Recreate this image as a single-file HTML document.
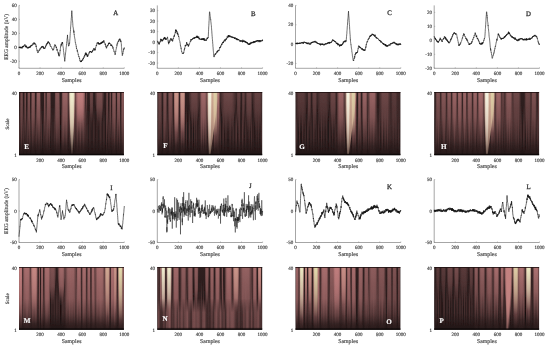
<!DOCTYPE html><html><head><meta charset="utf-8"><style>html,body{margin:0;padding:0;background:#fff;width:550px;height:347px;overflow:hidden}svg{display:block}text{font-family:"Liberation Serif", "Times New Roman", serif;fill:#3a3a3a;stroke:#555;stroke-width:0.18px;text-rendering:geometricPrecision}</style></head><body>
<svg width="550" height="347" viewBox="0 0 550 347">
<defs><linearGradient id="zfn" x1="0" y1="0" x2="0" y2="1"><stop offset="0.000" stop-color="#fff" stop-opacity="1.000"/><stop offset="0.400" stop-color="#fff" stop-opacity="0.750"/><stop offset="0.700" stop-color="#fff" stop-opacity="0.300"/><stop offset="0.850" stop-color="#fff" stop-opacity="0.100"/><stop offset="1.000" stop-color="#fff" stop-opacity="0.050"/></linearGradient><mask id="zmn" maskContentUnits="objectBoundingBox"><rect width="1" height="1" fill="url(#zfn)"/></mask><linearGradient id="zfm" x1="0" y1="0" x2="0" y2="1"><stop offset="0.000" stop-color="#fff" stop-opacity="1.000"/><stop offset="0.500" stop-color="#fff" stop-opacity="0.800"/><stop offset="0.750" stop-color="#fff" stop-opacity="0.420"/><stop offset="0.900" stop-color="#fff" stop-opacity="0.140"/><stop offset="1.000" stop-color="#fff" stop-opacity="0.060"/></linearGradient><mask id="zmm" maskContentUnits="objectBoundingBox"><rect width="1" height="1" fill="url(#zfm)"/></mask><linearGradient id="zfl" x1="0" y1="0" x2="0" y2="1"><stop offset="0.000" stop-color="#fff" stop-opacity="1.000"/><stop offset="1.000" stop-color="#fff" stop-opacity="0.000"/></linearGradient><mask id="zml" maskContentUnits="objectBoundingBox"><rect width="1" height="1" fill="url(#zfl)"/></mask><linearGradient id="zfs" x1="0" y1="0" x2="0" y2="1"><stop offset="0.000" stop-color="#fff" stop-opacity="1.000"/><stop offset="0.500" stop-color="#fff" stop-opacity="0.600"/><stop offset="1.000" stop-color="#fff" stop-opacity="0.000"/></linearGradient><mask id="zms" maskContentUnits="objectBoundingBox"><rect width="1" height="1" fill="url(#zfs)"/></mask><linearGradient id="zfp" x1="0" y1="0" x2="0" y2="1"><stop offset="0.000" stop-color="#fff" stop-opacity="1.000"/><stop offset="0.600" stop-color="#fff" stop-opacity="0.900"/><stop offset="1.000" stop-color="#fff" stop-opacity="0.500"/></linearGradient><mask id="zmp" maskContentUnits="objectBoundingBox"><rect width="1" height="1" fill="url(#zfp)"/></mask><linearGradient id="zfq" x1="0" y1="0" x2="0" y2="1"><stop offset="0.000" stop-color="#fff" stop-opacity="1.000"/><stop offset="0.500" stop-color="#fff" stop-opacity="0.850"/><stop offset="0.800" stop-color="#fff" stop-opacity="0.600"/><stop offset="1.000" stop-color="#fff" stop-opacity="0.350"/></linearGradient><mask id="zmq" maskContentUnits="objectBoundingBox"><rect width="1" height="1" fill="url(#zfq)"/></mask><linearGradient id="zc2"><stop offset="0" stop-color="#402a2a" stop-opacity="0"/><stop offset="0.3" stop-color="#402a2a" stop-opacity="0.97"/><stop offset="0.5" stop-color="#402a2a"/><stop offset="0.7" stop-color="#402a2a" stop-opacity="0.97"/><stop offset="1" stop-color="#402a2a" stop-opacity="0"/></linearGradient><linearGradient id="zc3"><stop offset="0" stop-color="#4e3333" stop-opacity="0"/><stop offset="0.3" stop-color="#4e3333" stop-opacity="0.97"/><stop offset="0.5" stop-color="#4e3333"/><stop offset="0.7" stop-color="#4e3333" stop-opacity="0.97"/><stop offset="1" stop-color="#4e3333" stop-opacity="0"/></linearGradient><linearGradient id="zc4"><stop offset="0" stop-color="#5a3b3b" stop-opacity="0"/><stop offset="0.3" stop-color="#5a3b3b" stop-opacity="0.97"/><stop offset="0.5" stop-color="#5a3b3b"/><stop offset="0.7" stop-color="#5a3b3b" stop-opacity="0.97"/><stop offset="1" stop-color="#5a3b3b" stop-opacity="0"/></linearGradient><linearGradient id="zc5"><stop offset="0" stop-color="#654242" stop-opacity="0"/><stop offset="0.3" stop-color="#654242" stop-opacity="0.97"/><stop offset="0.5" stop-color="#654242"/><stop offset="0.7" stop-color="#654242" stop-opacity="0.97"/><stop offset="1" stop-color="#654242" stop-opacity="0"/></linearGradient><linearGradient id="zc6"><stop offset="0" stop-color="#6e4848" stop-opacity="0"/><stop offset="0.3" stop-color="#6e4848" stop-opacity="0.97"/><stop offset="0.5" stop-color="#6e4848"/><stop offset="0.7" stop-color="#6e4848" stop-opacity="0.97"/><stop offset="1" stop-color="#6e4848" stop-opacity="0"/></linearGradient><linearGradient id="zc7"><stop offset="0" stop-color="#774e4e" stop-opacity="0"/><stop offset="0.3" stop-color="#774e4e" stop-opacity="0.97"/><stop offset="0.5" stop-color="#774e4e"/><stop offset="0.7" stop-color="#774e4e" stop-opacity="0.97"/><stop offset="1" stop-color="#774e4e" stop-opacity="0"/></linearGradient><linearGradient id="zc8"><stop offset="0" stop-color="#7f5353" stop-opacity="0"/><stop offset="0.3" stop-color="#7f5353" stop-opacity="0.97"/><stop offset="0.5" stop-color="#7f5353"/><stop offset="0.7" stop-color="#7f5353" stop-opacity="0.97"/><stop offset="1" stop-color="#7f5353" stop-opacity="0"/></linearGradient><linearGradient id="zc9"><stop offset="0" stop-color="#875858" stop-opacity="0"/><stop offset="0.3" stop-color="#875858" stop-opacity="0.97"/><stop offset="0.5" stop-color="#875858"/><stop offset="0.7" stop-color="#875858" stop-opacity="0.97"/><stop offset="1" stop-color="#875858" stop-opacity="0"/></linearGradient><linearGradient id="zc10"><stop offset="0" stop-color="#8e5d5d" stop-opacity="0"/><stop offset="0.3" stop-color="#8e5d5d" stop-opacity="0.97"/><stop offset="0.5" stop-color="#8e5d5d"/><stop offset="0.7" stop-color="#8e5d5d" stop-opacity="0.97"/><stop offset="1" stop-color="#8e5d5d" stop-opacity="0"/></linearGradient><linearGradient id="zc11"><stop offset="0" stop-color="#956262" stop-opacity="0"/><stop offset="0.3" stop-color="#956262" stop-opacity="0.97"/><stop offset="0.5" stop-color="#956262"/><stop offset="0.7" stop-color="#956262" stop-opacity="0.97"/><stop offset="1" stop-color="#956262" stop-opacity="0"/></linearGradient><linearGradient id="zc12"><stop offset="0" stop-color="#9c6666" stop-opacity="0"/><stop offset="0.3" stop-color="#9c6666" stop-opacity="0.97"/><stop offset="0.5" stop-color="#9c6666"/><stop offset="0.7" stop-color="#9c6666" stop-opacity="0.97"/><stop offset="1" stop-color="#9c6666" stop-opacity="0"/></linearGradient><linearGradient id="zc13"><stop offset="0" stop-color="#a26a6a" stop-opacity="0"/><stop offset="0.3" stop-color="#a26a6a" stop-opacity="0.97"/><stop offset="0.5" stop-color="#a26a6a"/><stop offset="0.7" stop-color="#a26a6a" stop-opacity="0.97"/><stop offset="1" stop-color="#a26a6a" stop-opacity="0"/></linearGradient><linearGradient id="zc14"><stop offset="0" stop-color="#a86e6e" stop-opacity="0"/><stop offset="0.3" stop-color="#a86e6e" stop-opacity="0.97"/><stop offset="0.5" stop-color="#a86e6e"/><stop offset="0.7" stop-color="#a86e6e" stop-opacity="0.97"/><stop offset="1" stop-color="#a86e6e" stop-opacity="0"/></linearGradient><linearGradient id="zc15"><stop offset="0" stop-color="#ae7272" stop-opacity="0"/><stop offset="0.3" stop-color="#ae7272" stop-opacity="0.97"/><stop offset="0.5" stop-color="#ae7272"/><stop offset="0.7" stop-color="#ae7272" stop-opacity="0.97"/><stop offset="1" stop-color="#ae7272" stop-opacity="0"/></linearGradient><linearGradient id="zc18"><stop offset="0" stop-color="#bf7d7d" stop-opacity="0"/><stop offset="0.3" stop-color="#bf7d7d" stop-opacity="0.97"/><stop offset="0.5" stop-color="#bf7d7d"/><stop offset="0.7" stop-color="#bf7d7d" stop-opacity="0.97"/><stop offset="1" stop-color="#bf7d7d" stop-opacity="0"/></linearGradient><linearGradient id="zc19"><stop offset="0" stop-color="#c38180" stop-opacity="0"/><stop offset="0.3" stop-color="#c38180" stop-opacity="0.97"/><stop offset="0.5" stop-color="#c38180"/><stop offset="0.7" stop-color="#c38180" stop-opacity="0.97"/><stop offset="1" stop-color="#c38180" stop-opacity="0"/></linearGradient><linearGradient id="zc20"><stop offset="0" stop-color="#c68984" stop-opacity="0"/><stop offset="0.3" stop-color="#c68984" stop-opacity="0.97"/><stop offset="0.5" stop-color="#c68984"/><stop offset="0.7" stop-color="#c68984" stop-opacity="0.97"/><stop offset="1" stop-color="#c68984" stop-opacity="0"/></linearGradient><linearGradient id="zc21"><stop offset="0" stop-color="#c89087" stop-opacity="0"/><stop offset="0.3" stop-color="#c89087" stop-opacity="0.97"/><stop offset="0.5" stop-color="#c89087"/><stop offset="0.7" stop-color="#c89087" stop-opacity="0.97"/><stop offset="1" stop-color="#c89087" stop-opacity="0"/></linearGradient><linearGradient id="zc22"><stop offset="0" stop-color="#ca978a" stop-opacity="0"/><stop offset="0.3" stop-color="#ca978a" stop-opacity="0.97"/><stop offset="0.5" stop-color="#ca978a"/><stop offset="0.7" stop-color="#ca978a" stop-opacity="0.97"/><stop offset="1" stop-color="#ca978a" stop-opacity="0"/></linearGradient><linearGradient id="zc25"><stop offset="0" stop-color="#d0aa93" stop-opacity="0"/><stop offset="0.3" stop-color="#d0aa93" stop-opacity="0.97"/><stop offset="0.5" stop-color="#d0aa93"/><stop offset="0.7" stop-color="#d0aa93" stop-opacity="0.97"/><stop offset="1" stop-color="#d0aa93" stop-opacity="0"/></linearGradient><linearGradient id="zc32"><stop offset="0" stop-color="#ded0a7" stop-opacity="0"/><stop offset="0.3" stop-color="#ded0a7" stop-opacity="0.97"/><stop offset="0.5" stop-color="#ded0a7"/><stop offset="0.7" stop-color="#ded0a7" stop-opacity="0.97"/><stop offset="1" stop-color="#ded0a7" stop-opacity="0"/></linearGradient><linearGradient id="zc35"><stop offset="0" stop-color="#e4deae" stop-opacity="0"/><stop offset="0.3" stop-color="#e4deae" stop-opacity="0.97"/><stop offset="0.5" stop-color="#e4deae"/><stop offset="0.7" stop-color="#e4deae" stop-opacity="0.97"/><stop offset="1" stop-color="#e4deae" stop-opacity="0"/></linearGradient><linearGradient id="zc40"><stop offset="0" stop-color="#ededc6" stop-opacity="0"/><stop offset="0.3" stop-color="#ededc6" stop-opacity="0.97"/><stop offset="0.5" stop-color="#ededc6"/><stop offset="0.7" stop-color="#ededc6" stop-opacity="0.97"/><stop offset="1" stop-color="#ededc6" stop-opacity="0"/></linearGradient><linearGradient id="zc42"><stop offset="0" stop-color="#f1f1d2" stop-opacity="0"/><stop offset="0.3" stop-color="#f1f1d2" stop-opacity="0.97"/><stop offset="0.5" stop-color="#f1f1d2"/><stop offset="0.7" stop-color="#f1f1d2" stop-opacity="0.97"/><stop offset="1" stop-color="#f1f1d2" stop-opacity="0"/></linearGradient><linearGradient id="zc45"><stop offset="0" stop-color="#f6f6e4" stop-opacity="0"/><stop offset="0.3" stop-color="#f6f6e4" stop-opacity="0.97"/><stop offset="0.5" stop-color="#f6f6e4"/><stop offset="0.7" stop-color="#f6f6e4" stop-opacity="0.97"/><stop offset="1" stop-color="#f6f6e4" stop-opacity="0"/></linearGradient><filter id="sblur" x="-5%" y="-5%" width="110%" height="110%"><feGaussianBlur stdDeviation="0.35 0.6"/></filter><linearGradient id="zbg" x1="0" y1="0" x2="0" y2="1"><stop offset="0" stop-color="#2f1f1f"/><stop offset="1" stop-color="#231717"/></linearGradient></defs>
<path d="M19 5.4V68.3H124.3" fill="none" stroke="#808080" stroke-width="0.7"/>
<path d="M19 5.4h1" stroke="#808080" stroke-width="0.5"/>
<text x="16.7" y="7.1" font-size="5" text-anchor="end">60</text>
<path d="M19 19.38h1" stroke="#808080" stroke-width="0.5"/>
<text x="16.7" y="21.08" font-size="5" text-anchor="end">40</text>
<path d="M19 33.36h1" stroke="#808080" stroke-width="0.5"/>
<text x="16.7" y="35.06" font-size="5" text-anchor="end">20</text>
<path d="M19 47.33h1" stroke="#808080" stroke-width="0.5"/>
<text x="16.7" y="49.03" font-size="5" text-anchor="end">0</text>
<path d="M19 61.31h1" stroke="#808080" stroke-width="0.5"/>
<text x="16.7" y="63.01" font-size="5" text-anchor="end">-20</text>
<path d="M19 68.3v-1" stroke="#808080" stroke-width="0.5"/>
<path d="M40.06 68.3v-1" stroke="#808080" stroke-width="0.5"/>
<path d="M61.12 68.3v-1" stroke="#808080" stroke-width="0.5"/>
<path d="M82.18 68.3v-1" stroke="#808080" stroke-width="0.5"/>
<path d="M103.24 68.3v-1" stroke="#808080" stroke-width="0.5"/>
<path d="M124.3 68.3v-1" stroke="#808080" stroke-width="0.5"/>
<text x="19" y="74.9" font-size="5" text-anchor="middle">0</text>
<text x="40.06" y="74.9" font-size="5" text-anchor="middle">200</text>
<text x="61.12" y="74.9" font-size="5" text-anchor="middle">400</text>
<text x="82.18" y="74.9" font-size="5" text-anchor="middle">600</text>
<text x="103.24" y="74.9" font-size="5" text-anchor="middle">800</text>
<text x="124.3" y="74.9" font-size="5" text-anchor="middle">1000</text>
<text x="71.65" y="81.5" font-size="5.8" text-anchor="middle">Samples</text>
<polyline points="19,47.83 19.11,47.25 19.21,46.78 19.32,48.05 19.42,47.65 19.53,47.72 19.63,47.36 19.74,47.34 19.84,48 19.95,47.33 20.05,47.15 20.16,46.65 20.26,47.53 20.37,46.99 20.48,47.64 20.58,48.13 20.69,47.31 20.79,48.2 20.9,47.33 21,47.39 21.11,47.17 21.21,48.05 21.32,47.59 21.42,47.78 21.53,47.24 21.64,46.93 21.74,47.81 21.85,48.39 21.95,48.12 22.06,47.71 22.16,48.24 22.27,46.52 22.37,46.33 22.48,47.55 22.58,46.83 22.69,46.97 22.79,46.53 22.9,46.22 23.01,46.96 23.11,46.14 23.22,47.19 23.32,46.66 23.43,45.63 23.53,46.8 23.64,46.82 23.74,46.62 23.85,46.47 23.95,46.02 24.06,46.01 24.16,45.74 24.27,45.88 24.38,45.76 24.48,45.72 24.59,45.61 24.69,45.76 24.8,45.23 24.9,44.2 25.01,45.91 25.11,45.5 25.22,46.19 25.32,46.53 25.43,47.19 25.54,45.82 25.64,46.35 25.75,47.04 25.85,46.29 25.96,45.74 26.06,46.85 26.17,47.23 26.27,47.2 26.38,46.79 26.48,45.77 26.59,47.18 26.69,46.54 26.8,47.88 26.91,47.95 27.01,47.89 27.12,47.94 27.22,47.5 27.33,46.94 27.43,47.22 27.54,48.16 27.64,48.07 27.75,48.03 27.85,48.3 27.96,48.46 28.06,47.27 28.17,48.3 28.28,47.45 28.38,47.96 28.49,47.55 28.59,47.95 28.7,46.87 28.8,47.06 28.91,46.98 29.01,47.55 29.12,46.91 29.22,47.79 29.33,47.75 29.44,47 29.54,47 29.65,47.37 29.75,46.96 29.86,46.3 29.96,47.44 30.07,46.9 30.17,46.57 30.28,47.49 30.38,46.62 30.49,45.73 30.59,46.68 30.7,46.15 30.81,46.5 30.91,45.69 31.02,45.61 31.12,45.5 31.23,45.08 31.33,46.09 31.44,44.95 31.54,44.83 31.65,45.67 31.75,45.22 31.86,45.6 31.96,45.51 32.07,45.06 32.18,44.87 32.28,44.83 32.39,45.32 32.49,44.46 32.6,44.36 32.7,43.89 32.81,43.8 32.91,44.17 33.02,43.8 33.12,44.26 33.23,43.37 33.34,44.33 33.44,44.23 33.55,43.99 33.65,44.14 33.76,43.99 33.86,43.39 33.97,42.32 34.07,43.62 34.18,43.22 34.28,43.47 34.39,42.91 34.49,43.07 34.6,44.09 34.71,43.7 34.81,42.93 34.92,43.4 35.02,44.7 35.13,44.74 35.23,44.3 35.34,44.39 35.44,43.86 35.55,43.79 35.65,44.12 35.76,44.25 35.86,44.57 35.97,45.17 36.08,46.93 36.18,45.76 36.29,46.81 36.39,47.5 36.5,48.01 36.6,48.88 36.71,49.28 36.81,49.51 36.92,49.36 37.02,49.91 37.13,51.06 37.24,50.39 37.34,51.01 37.45,51.7 37.55,51.91 37.66,52.44 37.76,52.93 37.87,52.95 37.97,52.99 38.08,52.33 38.18,52.6 38.29,52.23 38.39,51.46 38.5,51.3 38.61,51.58 38.71,50.95 38.82,50.82 38.92,50.82 39.03,50.07 39.13,50.47 39.24,49.84 39.34,50.36 39.45,50.03 39.55,49.81 39.66,50.13 39.76,49.01 39.87,48.75 39.98,48.61 40.08,48.83 40.19,48.44 40.29,49.13 40.4,49.01 40.5,49.27 40.61,48.26 40.71,48.21 40.82,48.17 40.92,48.33 41.03,47.44 41.14,47 41.24,47.01 41.35,48.03 41.45,47.06 41.56,47.22 41.66,47.01 41.77,46.29 41.87,47.22 41.98,46.57 42.08,46.53 42.19,46.16 42.29,46.4 42.4,46.62 42.51,46.3 42.61,46.63 42.72,46.18 42.82,45.94 42.93,47.21 43.03,47.8 43.14,46.29 43.24,47.97 43.35,47.75 43.45,48.44 43.56,47.46 43.66,46.98 43.77,48.55 43.88,48.49 43.98,48.65 44.09,48.43 44.19,48.07 44.3,47.83 44.4,48.71 44.51,48.38 44.61,48.3 44.72,48.72 44.82,48.21 44.93,48.51 45.04,47.97 45.14,47.12 45.25,47.66 45.35,47.24 45.46,46.41 45.56,46.93 45.67,46.1 45.77,45.77 45.88,46.26 45.98,45.73 46.09,46.01 46.19,44.7 46.3,45.01 46.41,45.26 46.51,43.6 46.62,44.43 46.72,44.65 46.83,44.25 46.93,44.11 47.04,43.9 47.14,43.86 47.25,43.1 47.35,44.11 47.46,42.96 47.56,43.27 47.67,42.39 47.78,43.15 47.88,42.02 47.99,42.5 48.09,42.22 48.2,41.02 48.3,41.73 48.41,42.62 48.51,42.54 48.62,42.46 48.72,43.04 48.83,42.89 48.94,42.23 49.04,43 49.15,42.87 49.25,43.28 49.36,43.79 49.46,43.01 49.57,43.82 49.67,44 49.78,43.77 49.88,44.15 49.99,45.09 50.09,44.48 50.2,45.58 50.31,45.4 50.41,46.34 50.52,46.12 50.62,46.42 50.73,46.47 50.83,46.38 50.94,46.11 51.04,46.63 51.15,46.63 51.25,46.78 51.36,46.99 51.46,46.91 51.57,47.58 51.68,47.8 51.78,48.51 51.89,48.45 51.99,48.68 52.1,48.56 52.2,48.71 52.31,48.66 52.41,48.65 52.52,49.3 52.62,49.52 52.73,49.67 52.84,50.36 52.94,49.24 53.05,49.88 53.15,49.72 53.26,50.1 53.36,49.72 53.47,49.65 53.57,49.66 53.68,49.44 53.78,48.24 53.89,48.4 53.99,48.08 54.1,46.76 54.21,46.87 54.31,47.05 54.42,46.33 54.52,45.84 54.63,44.93 54.73,44.9 54.84,44.47 54.94,44.99 55.05,44.91 55.15,44.88 55.26,45.63 55.36,45.43 55.47,45.89 55.58,45.32 55.68,46.33 55.79,46.22 55.89,46.6 56,47.23 56.1,47.51 56.21,47.64 56.31,46.74 56.42,47.98 56.52,47.46 56.63,47.94 56.74,48.66 56.84,49.55 56.95,49.82 57.05,50.53 57.16,49.18 57.26,50.36 57.37,50.82 57.47,50.82 57.58,50.98 57.68,51.3 57.79,51.9 57.89,52.13 58,52.45 58.11,52.04 58.21,52.32 58.32,53.74 58.42,52.78 58.53,54.89 58.63,53.87 58.74,54.56 58.84,56.06 58.95,55.28 59.05,55.98 59.16,56.27 59.26,56.24 59.37,56 59.48,55.69 59.58,55.2 59.69,53.93 59.79,54.09 59.9,53 60,52.01 60.11,50.16 60.21,50.74 60.32,48.9 60.42,48.57 60.53,46.93 60.64,46.7 60.74,45.87 60.85,46.34 60.95,44.82 61.06,44.91 61.16,45.02 61.27,43.77 61.37,45.52 61.48,44.58 61.58,44.07 61.69,44.09 61.79,43.74 61.9,43.25 62.01,42.56 62.11,43.73 62.22,42.47 62.32,43.04 62.43,43.29 62.53,42.02 62.64,43.11 62.74,43.7 62.85,45.62 62.95,46.17 63.06,46.61 63.16,47.2 63.27,48.13 63.38,48.56 63.48,50.5 63.59,51.68 63.69,51.73 63.8,52.57 63.9,54.06 64.01,53.98 64.11,56.03 64.22,56.75 64.32,57.1 64.43,57.99 64.54,58.62 64.64,59.8 64.75,61.39 64.85,59.83 64.96,58.21 65.06,58.36 65.17,57.17 65.27,56.41 65.38,55.46 65.48,54.01 65.59,52.92 65.69,52.05 65.8,51.32 65.91,49.97 66.01,49.39 66.12,47.5 66.22,47.45 66.33,46.56 66.43,45.83 66.54,43.87 66.64,43.42 66.75,41.43 66.85,41.3 66.96,40.62 67.06,39.13 67.17,38.56 67.28,38.02 67.38,37.18 67.49,34.9 67.59,36.61 67.7,38.88 67.8,39.25 67.91,39.73 68.01,40.96 68.12,42.25 68.22,43.32 68.33,44.67 68.44,45.18 68.54,46.21 68.65,45.98 68.75,45.62 68.86,45.68 68.96,45.93 69.07,43.58 69.17,43.97 69.28,44.26 69.38,42.99 69.49,42.85 69.59,43.28 69.7,41.38 69.81,40.14 69.91,38.61 70.02,37.18 70.12,35.25 70.23,33.51 70.33,31.71 70.44,31.49 70.54,29.43 70.65,26.84 70.75,25.53 70.86,24.79 70.96,23.3 71.07,21.29 71.18,20.61 71.28,18.29 71.39,17.78 71.49,16.12 71.6,14.17 71.7,12.15 71.81,10.67 71.91,12.27 72.02,14.23 72.12,16.02 72.23,16.26 72.34,18.45 72.44,19.37 72.55,20.67 72.65,22.17 72.76,23.27 72.86,25.21 72.97,26.94 73.07,27.39 73.18,27.68 73.28,27.63 73.39,29.5 73.49,29.75 73.6,30.45 73.71,29.85 73.81,32.5 73.92,31.19 74.02,33.21 74.13,34.59 74.23,34.25 74.34,35.32 74.44,36.82 74.55,37.31 74.65,37.3 74.76,38.21 74.86,39.04 74.97,39.26 75.08,40.2 75.18,41.26 75.29,42.09 75.39,42.92 75.5,42.71 75.6,43.5 75.71,44.21 75.81,44.67 75.92,44.88 76.02,44.69 76.13,45.78 76.24,46.67 76.34,46.36 76.45,48.72 76.55,48.17 76.66,48.72 76.76,48.93 76.87,49.19 76.97,49.35 77.08,49.41 77.18,50.39 77.29,51.54 77.39,50.37 77.5,51.2 77.61,51.66 77.71,52.24 77.82,52.55 77.92,53.15 78.03,53.53 78.13,53.64 78.24,54.94 78.34,54.57 78.45,55.53 78.55,55.71 78.66,56.62 78.76,56.34 78.87,56.17 78.98,56.68 79.08,56.93 79.19,56.78 79.29,57.73 79.4,57.94 79.5,58.89 79.61,58.37 79.71,59.28 79.82,60.51 79.92,60.23 80.03,60.56 80.14,60.79 80.24,61.4 80.35,60.74 80.45,61.33 80.56,61.42 80.66,61.42 80.77,62.1 80.87,61.57 80.98,62.02 81.08,60.92 81.19,61.81 81.29,61.1 81.4,61.52 81.51,61.88 81.61,60.33 81.72,60.73 81.82,60.38 81.93,60.71 82.03,60.58 82.14,60.16 82.24,60.45 82.35,59.98 82.45,59.35 82.56,59.98 82.66,60.42 82.77,59.69 82.88,59.84 82.98,59.33 83.09,58.63 83.19,59.09 83.3,58.11 83.4,58.92 83.51,57.99 83.61,57.79 83.72,57.81 83.82,57.32 83.93,56.55 84.04,57.58 84.14,56.91 84.25,56.83 84.35,56.72 84.46,56.41 84.56,55.43 84.67,55.11 84.77,56.28 84.88,54.78 84.98,54.73 85.09,54.04 85.19,53.45 85.3,53.47 85.41,54.7 85.51,54.54 85.62,53.47 85.72,53.58 85.83,52.4 85.93,55.19 86.04,53.3 86.14,54.72 86.25,54.55 86.35,54.03 86.46,53.49 86.56,54.97 86.67,54.23 86.78,55.39 86.88,55.2 86.99,54.93 87.09,54.25 87.2,55.29 87.3,56.95 87.41,55.39 87.51,56.38 87.62,55.4 87.72,56.14 87.83,56.46 87.94,55.7 88.04,55.89 88.15,55.76 88.25,55.55 88.36,54.84 88.46,53.86 88.57,54.06 88.67,53.95 88.78,54.17 88.88,53.35 88.99,53.47 89.09,53.55 89.2,52.2 89.31,53.03 89.41,52.83 89.52,52.38 89.62,51.39 89.73,51.72 89.83,51.63 89.94,51.12 90.04,51.21 90.15,51.5 90.25,51.51 90.36,51.02 90.46,52.12 90.57,51.33 90.68,51.78 90.78,51.64 90.89,51.32 90.99,52.15 91.1,52.26 91.2,51.69 91.31,52.51 91.41,52.65 91.52,52.17 91.62,52.58 91.73,51.96 91.84,52.36 91.94,51.89 92.05,51.57 92.15,52.06 92.26,51.69 92.36,51.12 92.47,51.62 92.57,51.42 92.68,50.01 92.78,50.39 92.89,51.05 92.99,50 93.1,49.66 93.21,49.83 93.31,49.81 93.42,50.13 93.52,49.22 93.63,49.24 93.73,48.92 93.84,48.35 93.94,49.07 94.05,48.54 94.15,49.12 94.26,48.75 94.36,49.46 94.47,49.96 94.58,49.42 94.68,49.64 94.79,49.38 94.89,50.69 95,49.83 95.1,49.09 95.21,49.86 95.31,48.63 95.42,47.82 95.52,48.3 95.63,48.02 95.74,47.37 95.84,47.04 95.95,46.54 96.05,46.38 96.16,46.32 96.26,45.18 96.37,45.79 96.47,45.93 96.58,45.43 96.68,44.33 96.79,44.44 96.89,44.11 97,42.75 97.11,43.35 97.21,43.4 97.32,43.03 97.42,42.86 97.53,42.64 97.63,42.5 97.74,42.5 97.84,42.45 97.95,43.12 98.05,42.51 98.16,44.03 98.26,43.34 98.37,42.82 98.48,42.41 98.58,44.32 98.69,43.42 98.79,43.15 98.9,43.71 99,44.33 99.11,43.68 99.21,43.52 99.32,43.27 99.42,43.06 99.53,43.88 99.64,43.99 99.74,44.47 99.85,43.17 99.95,44.45 100.06,43.46 100.16,43.52 100.27,43.53 100.37,43.67 100.48,42.96 100.58,43.83 100.69,43.39 100.79,43.83 100.9,42.62 101.01,43.06 101.11,42.63 101.22,43.84 101.32,42.19 101.43,42.29 101.53,43.03 101.64,42.87 101.74,43.54 101.85,41.83 101.95,42.21 102.06,42.66 102.16,42.19 102.27,42.2 102.38,41.79 102.48,42.05 102.59,42.89 102.69,41.39 102.8,42.23 102.9,43.04 103.01,41.81 103.11,41.95 103.22,41.44 103.32,41.3 103.43,42.22 103.54,42.13 103.64,40.66 103.75,41.16 103.85,40.39 103.96,40.76 104.06,41.35 104.17,41.35 104.27,41.54 104.38,41.95 104.48,41.99 104.59,42.81 104.69,42.78 104.8,43.28 104.91,43.11 105.01,43.62 105.12,43.62 105.22,44.92 105.33,43.88 105.43,44.75 105.54,45.43 105.64,45.97 105.75,45.85 105.85,45.78 105.96,46.77 106.06,45.92 106.17,47.38 106.28,47.81 106.38,48.29 106.49,47.59 106.59,47.6 106.7,48.09 106.8,47.06 106.91,46.94 107.01,46.75 107.12,46.86 107.22,45.7 107.33,45.74 107.44,46.04 107.54,45.14 107.65,45.46 107.75,46.02 107.86,45.42 107.96,44.61 108.07,44.68 108.17,44.93 108.28,44.97 108.38,45.01 108.49,42.88 108.59,44.23 108.7,43.87 108.81,43.48 108.91,43.03 109.02,43.07 109.12,42.96 109.23,43.69 109.33,43.62 109.44,42.58 109.54,43.63 109.65,43.37 109.75,43.95 109.86,43.34 109.96,43.51 110.07,43.77 110.18,43.93 110.28,44.08 110.39,44.02 110.49,43.86 110.6,44.5 110.7,45.59 110.81,45.32 110.91,44.94 111.02,45.52 111.12,44.53 111.23,44.79 111.34,45.59 111.44,44.9 111.55,45.75 111.65,45.25 111.76,44.83 111.86,45.84 111.97,45.93 112.07,45.84 112.18,46.39 112.28,45.94 112.39,46.02 112.49,46.62 112.6,46.42 112.71,46.41 112.81,46.86 112.92,48.42 113.02,47.41 113.13,48.47 113.23,49.04 113.34,49.26 113.44,49.24 113.55,49.55 113.65,49.52 113.76,49.79 113.86,51.18 113.97,51.52 114.08,51.27 114.18,51.95 114.29,51.72 114.39,52.39 114.5,52.4 114.6,52.71 114.71,53.1 114.81,53.5 114.92,53.61 115.02,54.26 115.13,55.02 115.24,54.17 115.34,53.3 115.45,53.56 115.55,52.34 115.66,51.38 115.76,51.71 115.87,50.4 115.97,49.84 116.08,49.5 116.18,49.23 116.29,48.86 116.39,47.35 116.5,47 116.61,47.23 116.71,46.76 116.82,46.4 116.92,44.58 117.03,45.37 117.13,45.22 117.24,43.05 117.34,42.73 117.45,42.72 117.55,43.33 117.66,43.54 117.76,42.69 117.87,42.2 117.98,41.65 118.08,41.78 118.19,41.96 118.29,41.64 118.4,40.84 118.5,40.83 118.61,40.86 118.71,41.7 118.82,40.32 118.92,39.8 119.03,40.44 119.14,39.72 119.24,40.2 119.35,39.01 119.45,38.91 119.56,38.97 119.66,38.81 119.77,39.54 119.87,38.79 119.98,39.99 120.08,39.42 120.19,39.77 120.29,40.93 120.4,40.58 120.51,40.56 120.61,41.78 120.72,41.18 120.82,40.58 120.93,41.64 121.03,41.32 121.14,42.75 121.24,43.41 121.35,43.74 121.45,46.53 121.56,47.24 121.66,47.99 121.77,50.17 121.88,51.18 121.98,51.04 122.09,53.29 122.19,54.25 122.3,55.68 122.4,55.31 122.51,54.73 122.61,54.72 122.72,53.3 122.82,53.82 122.93,52.77 123.04,52.47 123.14,51.83 123.25,51.99 123.35,51.16 123.46,49.9 123.56,49.46 123.67,50.02 123.77,48.5 123.88,48.4 123.98,48.68 124.09,48.58 124.19,49.16 124.3,47.26" fill="none" stroke="#111" stroke-width="0.6" stroke-linejoin="round"/>
<path d="M157.3 5.4V68.3H262.6" fill="none" stroke="#808080" stroke-width="0.7"/>
<path d="M157.3 10.64h1" stroke="#808080" stroke-width="0.5"/>
<text x="155" y="12.34" font-size="5" text-anchor="end">30</text>
<path d="M157.3 21.12h1" stroke="#808080" stroke-width="0.5"/>
<text x="155" y="22.82" font-size="5" text-anchor="end">20</text>
<path d="M157.3 31.61h1" stroke="#808080" stroke-width="0.5"/>
<text x="155" y="33.31" font-size="5" text-anchor="end">10</text>
<path d="M157.3 42.09h1" stroke="#808080" stroke-width="0.5"/>
<text x="155" y="43.79" font-size="5" text-anchor="end">0</text>
<path d="M157.3 52.57h1" stroke="#808080" stroke-width="0.5"/>
<text x="155" y="54.27" font-size="5" text-anchor="end">-10</text>
<path d="M157.3 63.06h1" stroke="#808080" stroke-width="0.5"/>
<text x="155" y="64.76" font-size="5" text-anchor="end">-20</text>
<path d="M157.3 68.3v-1" stroke="#808080" stroke-width="0.5"/>
<path d="M178.36 68.3v-1" stroke="#808080" stroke-width="0.5"/>
<path d="M199.42 68.3v-1" stroke="#808080" stroke-width="0.5"/>
<path d="M220.48 68.3v-1" stroke="#808080" stroke-width="0.5"/>
<path d="M241.54 68.3v-1" stroke="#808080" stroke-width="0.5"/>
<path d="M262.6 68.3v-1" stroke="#808080" stroke-width="0.5"/>
<text x="157.3" y="74.9" font-size="5" text-anchor="middle">0</text>
<text x="178.36" y="74.9" font-size="5" text-anchor="middle">200</text>
<text x="199.42" y="74.9" font-size="5" text-anchor="middle">400</text>
<text x="220.48" y="74.9" font-size="5" text-anchor="middle">600</text>
<text x="241.54" y="74.9" font-size="5" text-anchor="middle">800</text>
<text x="262.6" y="74.9" font-size="5" text-anchor="middle">1000</text>
<text x="209.95" y="81.5" font-size="5.8" text-anchor="middle">Samples</text>
<polyline points="157.3,40.77 157.41,41.31 157.51,41.29 157.62,41.78 157.72,42.11 157.83,42.43 157.93,41.6 158.04,41.5 158.14,42.04 158.25,42.32 158.35,42.52 158.46,42.93 158.56,42.59 158.67,43.67 158.78,42.94 158.88,43.76 158.99,43.91 159.09,44.7 159.2,44.25 159.3,42.74 159.41,43.7 159.51,43.55 159.62,42.84 159.72,42.23 159.83,41.89 159.94,42.44 160.04,42.37 160.15,41.99 160.25,41.18 160.36,41.84 160.46,39.74 160.57,40.54 160.67,40 160.78,38.76 160.88,39.77 160.99,39.38 161.09,39.84 161.2,39.33 161.31,40.07 161.41,39.72 161.52,40.38 161.62,39.6 161.73,40.48 161.83,40.97 161.94,40.32 162.04,41.62 162.15,39.89 162.25,40.58 162.36,40.76 162.46,40.98 162.57,40.23 162.68,40.61 162.78,40.53 162.89,40.52 162.99,39.92 163.1,39.02 163.2,40.15 163.31,38.99 163.41,39.13 163.52,38.79 163.62,38.06 163.73,38.27 163.84,38.93 163.94,38.26 164.05,38.75 164.15,37.74 164.26,38.12 164.36,36.97 164.47,37.61 164.57,39.21 164.68,37.36 164.78,38.42 164.89,38.59 164.99,37.76 165.1,37.42 165.21,37.49 165.31,38.96 165.42,39.32 165.52,38.2 165.63,38.82 165.73,39.67 165.84,38.38 165.94,39.37 166.05,39.14 166.15,39.72 166.26,39.03 166.36,39.01 166.47,38.88 166.58,39.15 166.68,38.91 166.79,38.33 166.89,38.51 167,38.17 167.1,37.99 167.21,37.85 167.31,37.49 167.42,37.61 167.52,36.85 167.63,37.8 167.74,39.12 167.84,39.35 167.95,39.64 168.05,40.48 168.16,40.25 168.26,42.33 168.37,41.7 168.47,42.17 168.58,43.59 168.68,44.19 168.79,42.12 168.89,42.82 169,42.63 169.11,43.02 169.21,41.88 169.32,42.31 169.42,42.05 169.53,41.29 169.63,40.73 169.74,41.08 169.84,41.57 169.95,40.65 170.05,41.1 170.16,39.57 170.26,40.09 170.37,40.13 170.48,39.86 170.58,39.29 170.69,38.64 170.79,38.04 170.9,38.15 171,39.37 171.11,39.23 171.21,38.69 171.32,39.36 171.42,39.13 171.53,40.06 171.64,40.57 171.74,39.79 171.85,39.8 171.95,39.45 172.06,40.31 172.16,40.22 172.27,39.68 172.37,40.25 172.48,40.92 172.58,41.48 172.69,40.31 172.79,40.64 172.9,39.25 173.01,39.41 173.11,39.02 173.22,38.16 173.32,38.52 173.43,37.97 173.53,38.27 173.64,37.6 173.74,37.19 173.85,36.99 173.95,35.95 174.06,36.52 174.16,35.72 174.27,36.09 174.38,35.47 174.48,36.29 174.59,34.38 174.69,34.33 174.8,33.99 174.9,34.09 175.01,33.7 175.11,33.3 175.22,32.88 175.32,31.77 175.43,32.8 175.54,29.96 175.64,30.74 175.75,30.92 175.85,29.37 175.96,30.52 176.06,30.25 176.17,31.5 176.27,30.03 176.38,31.14 176.48,31.09 176.59,30.99 176.69,32.25 176.8,31.68 176.91,32 177.01,31.52 177.12,31.99 177.22,33.84 177.33,32.74 177.43,34 177.54,33.85 177.64,33.79 177.75,32.81 177.85,35.16 177.96,34.5 178.06,35.03 178.17,34.7 178.28,34.81 178.38,35.51 178.49,36.43 178.59,35.96 178.7,36.92 178.8,36.65 178.91,37.09 179.01,37.52 179.12,38.81 179.22,39.63 179.33,39.95 179.44,40.11 179.54,40.44 179.65,40.89 179.75,41.4 179.86,41.59 179.96,42.52 180.07,42.43 180.17,42.87 180.28,43.46 180.38,45.25 180.49,45.04 180.59,46.48 180.7,46.71 180.81,46.51 180.91,47.22 181.02,48.52 181.12,47.87 181.23,48.34 181.33,49.92 181.44,50.54 181.54,51.6 181.65,51.42 181.75,51.31 181.86,52.13 181.96,52.23 182.07,52.57 182.18,52.76 182.28,53.32 182.39,53.12 182.49,52.9 182.6,53.48 182.7,53.5 182.81,53.53 182.91,53.12 183.02,53.58 183.12,53.08 183.23,53.66 183.34,53.8 183.44,53.52 183.55,52.97 183.65,52.41 183.76,52.92 183.86,51.76 183.97,51.33 184.07,51.25 184.18,50.21 184.28,49.59 184.39,50.14 184.49,48.94 184.6,48.2 184.71,48.75 184.81,48.72 184.92,47.18 185.02,47.08 185.13,46.78 185.23,45.03 185.34,45.75 185.44,46.27 185.55,45.58 185.65,45.32 185.76,45.03 185.86,45 185.97,45.98 186.08,44.79 186.18,44.59 186.29,43.99 186.39,44.15 186.5,44.13 186.6,42.17 186.71,43.3 186.81,42.72 186.92,43.63 187.02,43.61 187.13,44.9 187.24,44.01 187.34,44.14 187.45,44.73 187.55,44.36 187.66,43.86 187.76,45.17 187.87,45.12 187.97,45.11 188.08,45.68 188.18,45.17 188.29,45.76 188.39,46.68 188.5,45.43 188.61,45.83 188.71,44.85 188.82,45.42 188.92,44.49 189.03,44.99 189.13,43.9 189.24,43.95 189.34,43.57 189.45,43.28 189.55,43.46 189.66,43.43 189.76,43.22 189.87,42.73 189.98,42.26 190.08,42.18 190.19,41.99 190.29,41.1 190.4,40.96 190.5,41.24 190.61,40.96 190.71,41.42 190.82,40.05 190.92,39.45 191.03,40.62 191.14,39.19 191.24,39.93 191.35,40.16 191.45,39.66 191.56,39.86 191.66,39.55 191.77,39.5 191.87,39.72 191.98,39.3 192.08,39.58 192.19,39.98 192.29,39.5 192.4,39.47 192.51,38.71 192.61,39.12 192.72,38.72 192.82,39.09 192.93,38.18 193.03,38.2 193.14,38.98 193.24,38.46 193.35,38.06 193.45,38.18 193.56,37.69 193.66,37.9 193.77,38.4 193.88,37.81 193.98,38.34 194.09,38.37 194.19,38.17 194.3,37.44 194.4,38.59 194.51,38.15 194.61,37.21 194.72,37.09 194.82,38.36 194.93,38.45 195.04,37.54 195.14,37.5 195.25,37.35 195.35,36.95 195.46,37.57 195.56,37.88 195.67,37.29 195.77,37.29 195.88,36.86 195.98,37.46 196.09,37.83 196.19,37.61 196.3,37.61 196.41,37.8 196.51,36.03 196.62,36.74 196.72,37.26 196.83,37.4 196.93,37.17 197.04,35.6 197.14,37.61 197.25,36.43 197.35,37.86 197.46,37.68 197.56,36.52 197.67,37.68 197.78,36.42 197.88,38.04 197.99,37.71 198.09,37.94 198.2,37.35 198.3,37.18 198.41,37.59 198.51,37.88 198.62,38.04 198.72,36.47 198.83,37.89 198.94,38.58 199.04,38.25 199.15,39.25 199.25,37.88 199.36,39.24 199.46,38.88 199.57,38.94 199.67,38.87 199.78,38.71 199.88,38.38 199.99,38.84 200.09,39.72 200.2,39.68 200.31,39.36 200.41,38.92 200.52,39.2 200.62,39.34 200.73,39.33 200.83,39.46 200.94,39.03 201.04,39.37 201.15,39.2 201.25,39.5 201.36,38.58 201.46,39.77 201.57,39.31 201.68,39.53 201.78,40.05 201.89,38.63 201.99,38.27 202.1,39.49 202.2,38.88 202.31,39.75 202.41,39.69 202.52,39.43 202.62,38.32 202.73,39.64 202.84,38.93 202.94,39.18 203.05,38.98 203.15,39.49 203.26,39.57 203.36,39.17 203.47,38.45 203.57,40.11 203.68,38.28 203.78,39.6 203.89,39.1 203.99,39.26 204.1,38.15 204.21,40.38 204.31,40.7 204.42,39.87 204.52,40.44 204.63,40.1 204.73,38.76 204.84,39.67 204.94,40.16 205.05,40.18 205.15,40.35 205.26,39.94 205.36,39.8 205.47,40.45 205.58,40.1 205.68,39.95 205.79,39.85 205.89,39.97 206,40.93 206.1,40.49 206.21,40.36 206.31,39.48 206.42,39.61 206.52,40.36 206.63,39.43 206.74,38.67 206.84,38.91 206.95,38.73 207.05,37.79 207.16,38.32 207.26,38.58 207.37,38.88 207.47,38.44 207.58,39.09 207.68,37.59 207.79,37.78 207.89,38 208,38.05 208.11,37.64 208.21,37.99 208.32,36.22 208.42,34.03 208.53,31.31 208.63,29.21 208.74,26.92 208.84,25.49 208.95,23.68 209.05,20.92 209.16,20.3 209.26,16.69 209.37,15.01 209.48,12.17 209.58,11.75 209.69,12.21 209.79,12.26 209.9,13.53 210,14.17 210.11,15.72 210.21,16.32 210.32,16.96 210.42,18.44 210.53,18.39 210.64,19.87 210.74,19.61 210.85,21.54 210.95,22.13 211.06,23.08 211.16,24.29 211.27,24.75 211.37,25.65 211.48,27.51 211.58,28.81 211.69,30.29 211.79,31.15 211.9,33.16 212.01,34.37 212.11,36.23 212.22,36.71 212.32,38.59 212.43,39.3 212.53,41 212.64,41.68 212.74,43.83 212.85,44.26 212.95,46.48 213.06,47.05 213.16,48.98 213.27,50.25 213.38,51.3 213.48,52.51 213.59,53.55 213.69,55.78 213.8,56.49 213.9,56.41 214.01,56.72 214.11,57.1 214.22,55.84 214.32,56.1 214.43,55.96 214.54,56.11 214.64,54.9 214.75,54.85 214.85,54.39 214.96,54.19 215.06,54.33 215.17,55.03 215.27,53.58 215.38,54.05 215.48,54.24 215.59,53.7 215.69,54.19 215.8,53.38 215.91,53.55 216.01,53.22 216.12,53.2 216.22,53.06 216.33,52.74 216.43,53.24 216.54,52.34 216.64,52.5 216.75,52.39 216.85,51.87 216.96,52.16 217.06,51.83 217.17,51.07 217.28,51.81 217.38,50.96 217.49,51.49 217.59,52.34 217.7,50.68 217.8,51.3 217.91,51.2 218.01,50.42 218.12,50.6 218.22,51.09 218.33,50.81 218.44,50.69 218.54,50.78 218.65,50.94 218.75,50.28 218.86,50.81 218.96,49.83 219.07,50.32 219.17,49.87 219.28,49.72 219.38,48.88 219.49,48.59 219.59,48.81 219.7,48.59 219.81,47.06 219.91,47.88 220.02,47.02 220.12,47.71 220.23,47.37 220.33,47.48 220.44,46.7 220.54,47.19 220.65,46.02 220.75,46.24 220.86,46.06 220.96,45.67 221.07,46.21 221.18,45.47 221.28,45.15 221.39,44.95 221.49,45.01 221.6,43.94 221.7,44.73 221.81,43.84 221.91,44.23 222.02,44.55 222.12,43.58 222.23,43.77 222.34,43.28 222.44,42.95 222.55,43.15 222.65,43.22 222.76,42.01 222.86,43.1 222.97,42.92 223.07,42.39 223.18,42.86 223.28,41.79 223.39,42.75 223.49,40.74 223.6,40.82 223.71,40.97 223.81,41.13 223.92,41.33 224.02,41.06 224.13,41.45 224.23,41.23 224.34,40.86 224.44,40.79 224.55,40.24 224.65,40.54 224.76,39.33 224.86,40.1 224.97,40.83 225.08,40.13 225.18,41.31 225.29,40.8 225.39,39.56 225.5,39.85 225.6,39.58 225.71,39.94 225.81,39.79 225.92,38.83 226.02,38.79 226.13,39.76 226.24,39.72 226.34,38.45 226.45,39.08 226.55,38.45 226.66,38.15 226.76,38.01 226.87,38.36 226.97,38.16 227.08,37.8 227.18,36.38 227.29,37.93 227.39,38.01 227.5,37.67 227.61,37.89 227.71,37.79 227.82,37.4 227.92,36.39 228.03,36.98 228.13,35.27 228.24,35.74 228.34,36.04 228.45,36.36 228.55,35.32 228.66,36.05 228.76,37.3 228.87,35.18 228.98,36.76 229.08,36.53 229.19,35.66 229.29,35.96 229.4,36.51 229.5,36.27 229.61,36.67 229.71,35.94 229.82,35.4 229.92,36.83 230.03,37.09 230.14,36.68 230.24,35.86 230.35,35.91 230.45,36.02 230.56,36.52 230.66,36.76 230.77,37.19 230.87,37.09 230.98,36 231.08,36.77 231.19,36.84 231.29,36.83 231.4,37.57 231.51,37.19 231.61,36.94 231.72,36.41 231.82,36.75 231.93,36.68 232.03,36.82 232.14,37.61 232.24,37.25 232.35,37.5 232.45,36.82 232.56,37.27 232.66,37.31 232.77,38.07 232.88,36.74 232.98,37.03 233.09,37.33 233.19,37.33 233.3,37.18 233.4,37.96 233.51,37.62 233.61,37.33 233.72,37.96 233.82,37.73 233.93,37.95 234.04,37.84 234.14,38.41 234.25,38.1 234.35,38.29 234.46,38.43 234.56,38.98 234.67,37.61 234.77,38.68 234.88,37.3 234.98,38.13 235.09,37.84 235.19,37.7 235.3,37.83 235.41,38.64 235.51,38.73 235.62,38.15 235.72,38.7 235.83,38.7 235.93,38.48 236.04,38.43 236.14,39.38 236.25,38.67 236.35,39.45 236.46,38.73 236.56,39.42 236.67,38.73 236.78,38.38 236.88,39.02 236.99,38.39 237.09,38.97 237.2,40.22 237.3,39.18 237.41,40.05 237.51,39.46 237.62,39.36 237.72,39.59 237.83,39.41 237.94,39.86 238.04,39.17 238.15,39.61 238.25,40.06 238.36,39.02 238.46,39.6 238.57,39.71 238.67,39.8 238.78,40.1 238.88,39.8 238.99,39.54 239.09,40.57 239.2,40.58 239.31,40.71 239.41,40.33 239.52,40.15 239.62,40.59 239.73,40.32 239.83,40.57 239.94,41.67 240.04,40.78 240.15,40.79 240.25,41.24 240.36,40.45 240.46,41.51 240.57,41.19 240.68,41.22 240.78,40.79 240.89,41.22 240.99,40.41 241.1,40.84 241.2,40.58 241.31,40.99 241.41,40.61 241.52,40.94 241.62,41.5 241.73,40.85 241.84,41.35 241.94,41.5 242.05,41.01 242.15,41.36 242.26,41.41 242.36,40.84 242.47,41.88 242.57,42.39 242.68,40.9 242.78,39.73 242.89,41.39 242.99,40.84 243.1,41.76 243.21,41.03 243.31,40.49 243.42,41.34 243.52,41.09 243.63,41.5 243.73,41.13 243.84,40.67 243.94,41.15 244.05,41.8 244.15,41.03 244.26,40.96 244.36,40.58 244.47,41.06 244.58,41.69 244.68,41.32 244.79,42.24 244.89,41.18 245,41.41 245.1,41.06 245.21,40.95 245.31,42.34 245.42,41.35 245.52,41.76 245.63,41.55 245.74,42.34 245.84,42.85 245.95,41.59 246.05,41.69 246.16,42.4 246.26,41.92 246.37,42.86 246.47,42 246.58,42.63 246.68,42.65 246.79,42.63 246.89,43.14 247,43.23 247.11,42.21 247.21,43.18 247.32,42.35 247.42,43.79 247.53,43.11 247.63,43.28 247.74,43.1 247.84,43.67 247.95,43.42 248.05,44.4 248.16,43.98 248.26,44.3 248.37,44.02 248.48,43.32 248.58,43.49 248.69,43.75 248.79,44.85 248.9,44.22 249,44.66 249.11,44.15 249.21,44.28 249.32,44.78 249.42,44.15 249.53,44.01 249.64,43.34 249.74,44.59 249.85,43.46 249.95,44.33 250.06,43.13 250.16,42.74 250.27,44.1 250.37,44.13 250.48,43.78 250.58,42.98 250.69,43.55 250.79,43.41 250.9,43.79 251.01,41.91 251.11,43.69 251.22,43.25 251.32,43.06 251.43,43.07 251.53,42.57 251.64,42.67 251.74,42.08 251.85,42.62 251.95,42.64 252.06,42.23 252.16,43.03 252.27,42.69 252.38,42.53 252.48,42.41 252.59,42.41 252.69,43.16 252.8,42.07 252.9,42.98 253.01,43.14 253.11,42.19 253.22,42.06 253.32,41.03 253.43,42.87 253.54,42.24 253.64,42.46 253.75,42.51 253.85,42.87 253.96,42.62 254.06,42.44 254.17,41.18 254.27,42.78 254.38,41.47 254.48,41.85 254.59,42.28 254.69,41.44 254.8,41.9 254.91,41.43 255.01,42.08 255.12,41.53 255.22,41.63 255.33,41.29 255.43,42.33 255.54,41.4 255.64,41.68 255.75,41.77 255.85,40.84 255.96,41.3 256.06,41 256.17,40.59 256.28,41.29 256.38,41.42 256.49,41.31 256.59,41.83 256.7,40.7 256.8,41.13 256.91,40.81 257.01,41.23 257.12,40.96 257.22,40.31 257.33,40.61 257.44,41.03 257.54,41.03 257.65,41.11 257.75,40.08 257.86,40.72 257.96,40.03 258.07,42.15 258.17,41.42 258.28,41.41 258.38,41.33 258.49,40.58 258.59,40.98 258.7,40.75 258.81,40.92 258.91,41.41 259.02,41.75 259.12,40.4 259.23,40.1 259.33,40.61 259.44,40.86 259.54,40.86 259.65,41.19 259.75,40.02 259.86,42.22 259.96,40.83 260.07,40.88 260.18,41.4 260.28,40.67 260.39,41.47 260.49,41.05 260.6,40.66 260.7,40.22 260.81,40.75 260.91,41.12 261.02,40.96 261.12,40.96 261.23,40.58 261.34,41.15 261.44,41 261.55,40.97 261.65,41.2 261.76,41.02 261.86,41.24 261.97,40.23 262.07,40.69 262.18,40.42 262.28,40.95 262.39,39.58 262.49,39.67 262.6,41.03" fill="none" stroke="#111" stroke-width="0.6" stroke-linejoin="round"/>
<path d="M295.5 5.4V68.3H400.8" fill="none" stroke="#808080" stroke-width="0.7"/>
<path d="M295.5 5.4h1" stroke="#808080" stroke-width="0.5"/>
<text x="293.2" y="7.1" font-size="5" text-anchor="end">40</text>
<path d="M295.5 24.75h1" stroke="#808080" stroke-width="0.5"/>
<text x="293.2" y="26.45" font-size="5" text-anchor="end">20</text>
<path d="M295.5 44.11h1" stroke="#808080" stroke-width="0.5"/>
<text x="293.2" y="45.81" font-size="5" text-anchor="end">0</text>
<path d="M295.5 63.46h1" stroke="#808080" stroke-width="0.5"/>
<text x="293.2" y="65.16" font-size="5" text-anchor="end">-20</text>
<path d="M295.5 68.3v-1" stroke="#808080" stroke-width="0.5"/>
<path d="M316.56 68.3v-1" stroke="#808080" stroke-width="0.5"/>
<path d="M337.62 68.3v-1" stroke="#808080" stroke-width="0.5"/>
<path d="M358.68 68.3v-1" stroke="#808080" stroke-width="0.5"/>
<path d="M379.74 68.3v-1" stroke="#808080" stroke-width="0.5"/>
<path d="M400.8 68.3v-1" stroke="#808080" stroke-width="0.5"/>
<text x="295.5" y="74.9" font-size="5" text-anchor="middle">0</text>
<text x="316.56" y="74.9" font-size="5" text-anchor="middle">200</text>
<text x="337.62" y="74.9" font-size="5" text-anchor="middle">400</text>
<text x="358.68" y="74.9" font-size="5" text-anchor="middle">600</text>
<text x="379.74" y="74.9" font-size="5" text-anchor="middle">800</text>
<text x="400.8" y="74.9" font-size="5" text-anchor="middle">1000</text>
<text x="348.15" y="81.5" font-size="5.8" text-anchor="middle">Samples</text>
<polyline points="295.5,43.88 295.61,43.62 295.71,43.67 295.82,43.78 295.92,42.95 296.03,43.2 296.13,43.33 296.24,43.25 296.34,44.03 296.45,43.09 296.55,43.79 296.66,43.58 296.76,42.92 296.87,44.04 296.98,44.16 297.08,43.9 297.19,42.6 297.29,43.41 297.4,43.03 297.5,43.59 297.61,44.14 297.71,43.19 297.82,42.91 297.92,43.41 298.03,42.98 298.14,43.64 298.24,42.96 298.35,42.88 298.45,43.6 298.56,43.44 298.66,43.32 298.77,43.98 298.87,43.06 298.98,43.32 299.08,43.24 299.19,43.25 299.29,43.95 299.4,43.5 299.51,43.56 299.61,42.63 299.72,43.1 299.82,43.44 299.93,42.82 300.03,43.43 300.14,43.08 300.24,43.17 300.35,43.64 300.45,43.73 300.56,43.15 300.66,42.91 300.77,42.58 300.88,43.37 300.98,43.08 301.09,42.86 301.19,42.97 301.3,43.15 301.4,42.36 301.51,42.62 301.61,42.16 301.72,42.35 301.82,42.33 301.93,42.57 302.04,43.51 302.14,42.41 302.25,42.31 302.35,42.65 302.46,42.71 302.56,42.99 302.67,42.98 302.77,42.09 302.88,42.95 302.98,43.54 303.09,42.67 303.19,42.89 303.3,42.99 303.41,42.35 303.51,43.68 303.62,42.42 303.72,42.71 303.83,42.85 303.93,42.8 304.04,42.57 304.14,41.56 304.25,42.4 304.35,42.38 304.46,41.97 304.56,42.3 304.67,42.25 304.78,42.76 304.88,42.84 304.99,42.49 305.09,42.72 305.2,42.61 305.3,43.07 305.41,41.99 305.51,42.53 305.62,43.06 305.72,42.88 305.83,42.59 305.94,42.79 306.04,43.13 306.15,43.43 306.25,42.76 306.36,42.68 306.46,42.75 306.57,42.46 306.67,43.5 306.78,42.75 306.88,43.52 306.99,43.14 307.09,43.41 307.2,44.1 307.31,43.11 307.41,43.01 307.52,44.05 307.62,43.06 307.73,42.66 307.83,44.04 307.94,43.51 308.04,43.3 308.15,43.37 308.25,42.57 308.36,43.34 308.46,43.25 308.57,43.75 308.68,44.07 308.78,44.29 308.89,43.6 308.99,43.79 309.1,43.35 309.2,42.76 309.31,43.59 309.41,43.74 309.52,44.46 309.62,44.24 309.73,44.1 309.84,44.53 309.94,43.47 310.05,43.8 310.15,43.42 310.26,43.65 310.36,43.35 310.47,44.08 310.57,44.59 310.68,43.9 310.78,43.62 310.89,42.41 310.99,43.47 311.1,43.68 311.21,43.7 311.31,43.07 311.42,42.93 311.52,42.08 311.63,42.87 311.73,42.77 311.84,42.3 311.94,42.85 312.05,42.86 312.15,42.14 312.26,42.54 312.36,41.7 312.47,42.45 312.58,42.09 312.68,42.63 312.79,42.4 312.89,42.38 313,42.56 313.1,42.14 313.21,41.62 313.31,42.25 313.42,42.2 313.52,41.69 313.63,42.32 313.74,42.12 313.84,41.86 313.95,41.95 314.05,41.67 314.16,41.56 314.26,42.07 314.37,41.55 314.47,41.79 314.58,41.84 314.68,41.22 314.79,42.53 314.89,42.54 315,42.2 315.11,40.82 315.21,41.79 315.32,41.45 315.42,41.22 315.53,41.64 315.63,42.55 315.74,42.3 315.84,42.58 315.95,42.41 316.05,42.42 316.16,42.6 316.26,42.6 316.37,41.66 316.48,42.47 316.58,42.72 316.69,41.88 316.79,42.68 316.9,42.52 317,42.92 317.11,43.67 317.21,42.51 317.32,43.2 317.42,43.35 317.53,43.08 317.64,43.08 317.74,43.69 317.85,43.3 317.95,43.59 318.06,43.1 318.16,43.55 318.27,43.17 318.37,43.67 318.48,44.11 318.58,43.65 318.69,43.41 318.79,43.96 318.9,44.07 319.01,43.52 319.11,43.28 319.22,44.23 319.32,44.15 319.43,44.45 319.53,44.53 319.64,43.78 319.74,43.78 319.85,44.11 319.95,43.87 320.06,44.79 320.16,44.13 320.27,44.33 320.38,43.68 320.48,45.44 320.59,44.04 320.69,43.74 320.8,43.87 320.9,43.84 321.01,44.68 321.11,44.76 321.22,44 321.32,43.88 321.43,44.47 321.54,43.68 321.64,44.27 321.75,44.32 321.85,44.64 321.96,44.81 322.06,44.71 322.17,44.04 322.27,44.87 322.38,43.58 322.48,44.17 322.59,44.74 322.69,44.86 322.8,44.42 322.91,43.57 323.01,44.3 323.12,44.08 323.22,44.73 323.33,44.92 323.43,45.08 323.54,44.75 323.64,44.87 323.75,45.37 323.85,44.17 323.96,44.5 324.06,44.52 324.17,44.24 324.28,44.86 324.38,44.29 324.49,45.18 324.59,44.97 324.7,44.11 324.8,43.66 324.91,44.23 325.01,44.5 325.12,44.9 325.22,44.36 325.33,44.37 325.44,43.94 325.54,43.41 325.65,43.94 325.75,43.79 325.86,43.49 325.96,44.28 326.07,43.89 326.17,43.39 326.28,43.69 326.38,44.33 326.49,43.56 326.59,43.65 326.7,43.67 326.81,43.35 326.91,43.52 327.02,43.73 327.12,43.11 327.23,43.4 327.33,43.78 327.44,42.68 327.54,43.31 327.65,44.07 327.75,43.41 327.86,43.66 327.96,42.76 328.07,42.95 328.18,42.67 328.28,42.18 328.39,43 328.49,42.98 328.6,43.33 328.7,42.83 328.81,42.28 328.91,42.43 329.02,43.15 329.12,41.98 329.23,43.29 329.34,42.13 329.44,43.07 329.55,43.29 329.65,42.98 329.76,43.56 329.86,42.93 329.97,41.85 330.07,42.38 330.18,42.74 330.28,42.76 330.39,42.9 330.49,42.54 330.6,42.3 330.71,42.89 330.81,42.98 330.92,42.67 331.02,42.1 331.13,42.57 331.23,42.76 331.34,42.98 331.44,42.61 331.55,41.42 331.65,41.85 331.76,41.63 331.86,41.16 331.97,41.32 332.08,41.52 332.18,40.39 332.29,40.77 332.39,40.87 332.5,40.97 332.6,40.71 332.71,39.36 332.81,40.38 332.92,39.78 333.02,40.29 333.13,40.06 333.24,40.25 333.34,40.88 333.45,40.83 333.55,40 333.66,40.88 333.76,40.36 333.87,40.47 333.97,40.16 334.08,40.96 334.18,40.76 334.29,41.61 334.39,41.75 334.5,41.43 334.61,41.15 334.71,41.74 334.82,41.06 334.92,41.15 335.03,41.51 335.13,41.87 335.24,41.18 335.34,42.08 335.45,42.33 335.55,42.16 335.66,41.56 335.76,41.7 335.87,42 335.98,42.7 336.08,42.39 336.19,43.47 336.29,43.46 336.4,42.8 336.5,43.34 336.61,44.05 336.71,43.61 336.82,43.28 336.92,43.62 337.03,42.95 337.14,43.29 337.24,43.72 337.35,42.86 337.45,43.55 337.56,44.4 337.66,43.4 337.77,44.24 337.87,45.27 337.98,43.89 338.08,43.32 338.19,44.05 338.29,44.56 338.4,45.09 338.51,44.16 338.61,44.86 338.72,44.68 338.82,44.4 338.93,45.03 339.03,44.48 339.14,44.96 339.24,45.21 339.35,45.89 339.45,45.01 339.56,45.31 339.66,46.7 339.77,45.89 339.88,44.87 339.98,45.39 340.09,45.92 340.19,45.28 340.3,44.32 340.4,45 340.51,45.57 340.61,45.9 340.72,45.19 340.82,45.57 340.93,45.01 341.04,45.47 341.14,45.93 341.25,45.09 341.35,44.38 341.46,45.73 341.56,45.97 341.67,45.61 341.77,44.56 341.88,44.43 341.98,44.98 342.09,43.97 342.19,44.08 342.3,44.38 342.41,44.23 342.51,43.8 342.62,44.54 342.72,43.02 342.83,43.58 342.93,43.46 343.04,42.6 343.14,43.41 343.25,43.23 343.35,41.47 343.46,41.68 343.56,42.89 343.67,42.23 343.78,42.38 343.88,41.63 343.99,41.25 344.09,40.98 344.2,41.39 344.3,41.21 344.41,41.51 344.51,41.14 344.62,41.95 344.72,41.23 344.83,41.2 344.94,40.45 345.04,42.33 345.15,41.78 345.25,41.17 345.36,41.44 345.46,41.39 345.57,41.42 345.67,40.89 345.78,41.42 345.88,40.27 345.99,41.43 346.09,41.46 346.2,40.69 346.31,39.37 346.41,38.01 346.52,36.64 346.62,36.01 346.73,34.19 346.83,33.79 346.94,31.17 347.04,30.41 347.15,29.18 347.25,27.04 347.36,25.71 347.46,25.32 347.57,22.96 347.68,21.76 347.78,19.68 347.89,19.73 347.99,17.88 348.1,17.09 348.2,15.55 348.31,13.71 348.41,12.59 348.52,11.2 348.62,13.3 348.73,14.94 348.84,16.2 348.94,17.08 349.05,18.74 349.15,20.66 349.26,22.4 349.36,24.23 349.47,25.06 349.57,26.64 349.68,29.3 349.78,30.42 349.89,31.95 349.99,34.01 350.1,34.76 350.21,36.61 350.31,39.16 350.42,38.99 350.52,41.53 350.63,42.25 350.73,43.23 350.84,43.76 350.94,44.92 351.05,44.67 351.15,45.96 351.26,46.75 351.36,48.07 351.47,48.66 351.58,48.63 351.68,49.22 351.79,50.49 351.89,52.07 352,52.26 352.1,53.31 352.21,53.49 352.31,54.17 352.42,55.67 352.52,56.19 352.63,56.16 352.74,57.61 352.84,58.45 352.95,58.52 353.05,59.93 353.16,60.41 353.26,60.63 353.37,60.87 353.47,60.62 353.58,60.33 353.68,60.92 353.79,59.4 353.89,59.21 354,58.94 354.11,58.18 354.21,58.3 354.32,58.72 354.42,57.23 354.53,57.13 354.63,56.21 354.74,57.6 354.84,56.13 354.95,55.22 355.05,54.76 355.16,54.21 355.26,55.07 355.37,54.19 355.48,53.71 355.58,53.16 355.69,53.86 355.79,52.65 355.9,52.8 356,53.42 356.11,52.94 356.21,52.47 356.32,53.44 356.42,52.82 356.53,52.28 356.64,52.98 356.74,52.45 356.85,52.63 356.95,52.2 357.06,52.8 357.16,52.78 357.27,52.51 357.37,52.85 357.48,51.88 357.58,50.83 357.69,51.46 357.79,50.23 357.9,49.63 358.01,49.55 358.11,48.55 358.22,49.05 358.32,48.04 358.43,46.41 358.53,46.33 358.64,45.68 358.74,46.02 358.85,45.97 358.95,46.51 359.06,46.49 359.16,47.09 359.27,45.93 359.38,47.01 359.48,47.28 359.59,47.06 359.69,46.97 359.8,46.85 359.9,47.72 360.01,47.31 360.11,47.86 360.22,46.95 360.32,47.73 360.43,47.24 360.54,47.43 360.64,47.99 360.75,48.2 360.85,48.17 360.96,48.44 361.06,48.36 361.17,47.85 361.27,48.64 361.38,48.56 361.48,48.87 361.59,49.15 361.69,49.09 361.8,48.74 361.91,48.3 362.01,49.89 362.12,48.91 362.22,48.09 362.33,49.56 362.43,49.36 362.54,49.68 362.64,49.63 362.75,49.12 362.85,49.59 362.96,50.29 363.06,49.43 363.17,49.2 363.28,49.51 363.38,49.25 363.49,50.11 363.59,50.6 363.7,49.76 363.8,49.88 363.91,49.71 364.01,49.98 364.12,50.45 364.22,49.6 364.33,50.61 364.44,51 364.54,50.41 364.65,50.19 364.75,50.56 364.86,49.41 364.96,50.16 365.07,50.53 365.17,49.85 365.28,49.74 365.38,48.49 365.49,48.36 365.59,48.47 365.7,47.24 365.81,47.95 365.91,45.92 366.02,46.41 366.12,46.3 366.23,44.32 366.33,44.95 366.44,44.14 366.54,44.11 366.65,43.12 366.75,42.85 366.86,42.5 366.96,41.74 367.07,42.33 367.18,42 367.28,41.39 367.39,41.04 367.49,41.26 367.6,41.6 367.7,40.76 367.81,40.66 367.91,39.69 368.02,39.71 368.12,39.51 368.23,39.9 368.34,38.9 368.44,39.29 368.55,38.6 368.65,38.25 368.76,38.72 368.86,38.72 368.97,37.65 369.07,37.68 369.18,37.74 369.28,37.78 369.39,37.92 369.49,38.35 369.6,36.29 369.71,36.83 369.81,36.96 369.92,36.37 370.02,35.96 370.13,35.49 370.23,36.45 370.34,36.17 370.44,35.79 370.55,36.61 370.65,36.45 370.76,36 370.86,35.02 370.97,35.04 371.08,35.95 371.18,36.06 371.29,34.88 371.39,35.53 371.5,34.84 371.6,34.76 371.71,35.18 371.81,34.64 371.92,34.26 372.02,33.89 372.13,34.2 372.24,34.42 372.34,33.78 372.45,34.21 372.55,35.07 372.66,34.17 372.76,34.65 372.87,34.38 372.97,34.05 373.08,34.59 373.18,34.27 373.29,35.17 373.39,34.95 373.5,34.51 373.61,34.61 373.71,35.45 373.82,35.32 373.92,35.57 374.03,34.93 374.13,35.11 374.24,35.87 374.34,34.79 374.45,35.6 374.55,36.5 374.66,36.75 374.76,35.88 374.87,35.83 374.98,35.64 375.08,36.07 375.19,34.69 375.29,37.01 375.4,37.01 375.5,37.14 375.61,37.46 375.71,36.61 375.82,36.78 375.92,36.69 376.03,36.96 376.14,37.72 376.24,38.19 376.35,37.94 376.45,37.13 376.56,38.05 376.66,37.59 376.77,37.7 376.87,38.5 376.98,39.03 377.08,38.64 377.19,38.59 377.29,38.18 377.4,37.87 377.51,38.42 377.61,38.53 377.72,38.37 377.82,38.28 377.93,38.88 378.03,38.96 378.14,38.99 378.24,38.94 378.35,38.89 378.45,38.88 378.56,39.72 378.66,39.47 378.77,39.39 378.88,39.44 378.98,40.01 379.09,40.05 379.19,40 379.3,40.73 379.4,40 379.51,40.98 379.61,40.15 379.72,40.56 379.82,40.52 379.93,40.87 380.04,41.23 380.14,41.16 380.25,40.79 380.35,41.11 380.46,40.67 380.56,41.62 380.67,41.88 380.77,41.64 380.88,40.87 380.98,42.71 381.09,41.75 381.19,41.25 381.3,41.41 381.41,41.51 381.51,41.96 381.62,42.1 381.72,42.75 381.83,42.64 381.93,42.49 382.04,42.21 382.14,42.61 382.25,42.5 382.35,43 382.46,43.58 382.56,42.95 382.67,43.27 382.78,43.74 382.88,43.57 382.99,43.43 383.09,43.29 383.2,43.69 383.3,44.36 383.41,43.07 383.51,44.42 383.62,43.96 383.72,44.36 383.83,44.18 383.94,44.56 384.04,43.49 384.15,44.13 384.25,44.37 384.36,44.69 384.46,44.51 384.57,44.53 384.67,44.04 384.78,44.64 384.88,44.19 384.99,44.17 385.09,44.96 385.2,46.07 385.31,44.19 385.41,44.96 385.52,44.93 385.62,45.96 385.73,44.23 385.83,46.25 385.94,45.8 386.04,45.84 386.15,44.86 386.25,45.76 386.36,45.77 386.46,46.34 386.57,46.35 386.68,45.52 386.78,46.45 386.89,45.67 386.99,45.38 387.1,46.26 387.2,45.4 387.31,45.2 387.41,46.45 387.52,45.69 387.62,46.01 387.73,46.01 387.84,46.48 387.94,45.91 388.05,45.66 388.15,45.26 388.26,45.67 388.36,45.12 388.47,44.71 388.57,44.7 388.68,45.27 388.78,45.12 388.89,45.15 388.99,44.89 389.1,45.31 389.21,45.06 389.31,45.51 389.42,44.98 389.52,44.53 389.63,44.4 389.73,44.52 389.84,44.47 389.94,44.19 390.05,45.59 390.15,44.67 390.26,44.31 390.36,43.57 390.47,44.25 390.58,43.86 390.68,43.74 390.79,43.61 390.89,44.1 391,43.23 391.1,43.81 391.21,44.23 391.31,43.75 391.42,43.25 391.52,43.55 391.63,43.4 391.74,43.09 391.84,43.67 391.95,43.74 392.05,43.55 392.16,43.38 392.26,42.89 392.37,42.48 392.47,43.45 392.58,43.64 392.68,42.96 392.79,43.4 392.89,43.23 393,43.24 393.11,43.22 393.21,42.26 393.32,42.52 393.42,41.91 393.53,42.41 393.63,43.22 393.74,42.95 393.84,42.54 393.95,42.17 394.05,42.05 394.16,41.81 394.26,42.87 394.37,42.32 394.48,42.01 394.58,42.35 394.69,42.92 394.79,43.41 394.9,43.82 395,42.56 395.11,43.37 395.21,43.51 395.32,43.18 395.42,43.94 395.53,43.91 395.64,43.62 395.74,43.32 395.85,44.36 395.95,44.58 396.06,44.58 396.16,43.84 396.27,43.33 396.37,44.25 396.48,44.17 396.58,43.76 396.69,45.08 396.79,44.37 396.9,43.52 397.01,44.21 397.11,45.07 397.22,44.47 397.32,44.49 397.43,43.96 397.53,44.83 397.64,44.43 397.74,44.53 397.85,45.37 397.95,44.7 398.06,44.33 398.16,44.71 398.27,43.53 398.38,44.53 398.48,45.12 398.59,44.38 398.69,44.4 398.8,45.1 398.9,44.67 399.01,43.94 399.11,44.34 399.22,44.49 399.32,43.9 399.43,44.36 399.54,43.5 399.64,44.4 399.75,44.34 399.85,44.48 399.96,44.51 400.06,44.08 400.17,44.11 400.27,44.15 400.38,43.29 400.48,44.47 400.59,44.25 400.69,45.02 400.8,44.2" fill="none" stroke="#111" stroke-width="0.6" stroke-linejoin="round"/>
<path d="M434.2 5.4V68.3H539.5" fill="none" stroke="#808080" stroke-width="0.7"/>
<path d="M434.2 12.39h1" stroke="#808080" stroke-width="0.5"/>
<text x="431.9" y="14.09" font-size="5" text-anchor="end">20</text>
<path d="M434.2 26.37h1" stroke="#808080" stroke-width="0.5"/>
<text x="431.9" y="28.07" font-size="5" text-anchor="end">10</text>
<path d="M434.2 40.34h1" stroke="#808080" stroke-width="0.5"/>
<text x="431.9" y="42.04" font-size="5" text-anchor="end">0</text>
<path d="M434.2 54.32h1" stroke="#808080" stroke-width="0.5"/>
<text x="431.9" y="56.02" font-size="5" text-anchor="end">-10</text>
<path d="M434.2 68.3h1" stroke="#808080" stroke-width="0.5"/>
<text x="431.9" y="70" font-size="5" text-anchor="end">-20</text>
<path d="M434.2 68.3v-1" stroke="#808080" stroke-width="0.5"/>
<path d="M455.26 68.3v-1" stroke="#808080" stroke-width="0.5"/>
<path d="M476.32 68.3v-1" stroke="#808080" stroke-width="0.5"/>
<path d="M497.38 68.3v-1" stroke="#808080" stroke-width="0.5"/>
<path d="M518.44 68.3v-1" stroke="#808080" stroke-width="0.5"/>
<path d="M539.5 68.3v-1" stroke="#808080" stroke-width="0.5"/>
<text x="434.2" y="74.9" font-size="5" text-anchor="middle">0</text>
<text x="455.26" y="74.9" font-size="5" text-anchor="middle">200</text>
<text x="476.32" y="74.9" font-size="5" text-anchor="middle">400</text>
<text x="497.38" y="74.9" font-size="5" text-anchor="middle">600</text>
<text x="518.44" y="74.9" font-size="5" text-anchor="middle">800</text>
<text x="539.5" y="74.9" font-size="5" text-anchor="middle">1000</text>
<text x="486.85" y="81.5" font-size="5.8" text-anchor="middle">Samples</text>
<polyline points="434.2,36.01 434.31,36.63 434.41,36.86 434.52,37.34 434.62,36.92 434.73,37.31 434.83,37.82 434.94,37.86 435.04,38.84 435.15,37.96 435.25,38.26 435.36,39.59 435.46,38.19 435.57,38.68 435.68,38.86 435.78,39.35 435.89,39.85 435.99,39.04 436.1,39.58 436.2,39.74 436.31,40.19 436.41,39.88 436.52,40.36 436.62,40 436.73,40.92 436.84,40.37 436.94,41.58 437.05,42.01 437.15,41.01 437.26,41.3 437.36,41.23 437.47,41.08 437.57,42.24 437.68,41.78 437.78,41.66 437.89,41.22 437.99,41.96 438.1,41.83 438.21,42.66 438.31,41.44 438.42,42.35 438.52,41.63 438.63,41.84 438.73,41.47 438.84,41.59 438.94,41.01 439.05,40.65 439.15,40.56 439.26,40.65 439.36,40.27 439.47,39.59 439.58,40.61 439.68,39.48 439.79,39.82 439.89,39.55 440,39.39 440.1,38.94 440.21,37.74 440.31,38.83 440.42,38.53 440.52,39.5 440.63,39.67 440.74,38.91 440.84,39.25 440.95,39.51 441.05,39.99 441.16,39.53 441.26,40.07 441.37,40.46 441.47,40.81 441.58,40.5 441.68,40.84 441.79,40.82 441.89,40.62 442,41.83 442.11,40.91 442.21,41.05 442.32,41.62 442.42,40.59 442.53,40.38 442.63,39.96 442.74,39.79 442.84,39.95 442.95,39.6 443.05,39.04 443.16,39.49 443.26,38.89 443.37,38.67 443.48,38.86 443.58,38.27 443.69,38.97 443.79,38.49 443.9,38 444,38.45 444.11,38.2 444.21,37.07 444.32,36.89 444.42,36.25 444.53,37.05 444.64,37.31 444.74,37.71 444.85,37.46 444.95,37.26 445.06,36.75 445.16,37.17 445.27,38.64 445.37,37.18 445.48,38.43 445.58,38.37 445.69,37.56 445.79,38.71 445.9,39.8 446.01,38.48 446.11,39.09 446.22,38.64 446.32,39.44 446.43,39.16 446.53,39.62 446.64,39.04 446.74,39.17 446.85,40.59 446.95,40.17 447.06,40.92 447.16,40.75 447.27,39.72 447.38,40.54 447.48,40.03 447.59,40.09 447.69,40.95 447.8,41.99 447.9,41.2 448.01,41.94 448.11,41.55 448.22,42.26 448.32,41.91 448.43,41.7 448.54,42.4 448.64,42.88 448.75,41.94 448.85,43.15 448.96,42.73 449.06,43.05 449.17,42.64 449.27,43.13 449.38,43.14 449.48,42.81 449.59,42.96 449.69,42.52 449.8,41.64 449.91,41.53 450.01,41.57 450.12,40.94 450.22,40.76 450.33,41.39 450.43,40.49 450.54,40.25 450.64,39.52 450.75,38.81 450.85,40.32 450.96,39.2 451.06,39.47 451.17,38.73 451.28,38.49 451.38,38.15 451.49,38.06 451.59,38.87 451.7,37.31 451.8,37.52 451.91,37.49 452.01,36.54 452.12,36.97 452.22,37.18 452.33,36.34 452.44,36.65 452.54,36.18 452.65,34.49 452.75,35.46 452.86,35.39 452.96,34.57 453.07,34.07 453.17,34 453.28,34.09 453.38,34.44 453.49,33.16 453.59,33.42 453.7,33.91 453.81,33.11 453.91,33.23 454.02,33.19 454.12,32.42 454.23,32.86 454.33,33.14 454.44,32.54 454.54,33.36 454.65,32.95 454.75,33.47 454.86,33.84 454.96,33.5 455.07,33.36 455.18,33.17 455.28,32.99 455.39,33.33 455.49,34.48 455.6,33.43 455.7,33.48 455.81,34.02 455.91,34.38 456.02,33.96 456.12,33.71 456.23,33.63 456.34,33.76 456.44,34.12 456.55,34.12 456.65,34.22 456.76,35.42 456.86,35.44 456.97,35.81 457.07,37.25 457.18,37.02 457.28,37.92 457.39,38.79 457.49,38.69 457.6,38.79 457.71,39.45 457.81,40.51 457.92,40.49 458.02,41.17 458.13,41.52 458.23,42.32 458.34,42.2 458.44,43.4 458.55,44.28 458.65,45.31 458.76,44.69 458.86,45.56 458.97,45.86 459.08,45.71 459.18,45.06 459.29,45.55 459.39,44.95 459.5,44.89 459.6,44.38 459.71,43.94 459.81,44.88 459.92,44.31 460.02,43.97 460.13,43.72 460.24,44.3 460.34,44.19 460.45,42.61 460.55,42.71 460.66,42.97 460.76,43.23 460.87,42.96 460.97,42.56 461.08,42.13 461.18,41.81 461.29,41.7 461.39,41.21 461.5,41 461.61,40.85 461.71,40.05 461.82,40.08 461.92,39.62 462.03,39.36 462.13,38.5 462.24,38.17 462.34,37.86 462.45,37.64 462.55,38.36 462.66,37.18 462.76,36.91 462.87,36.38 462.98,35.93 463.08,35.36 463.19,35.86 463.29,35.93 463.4,35.28 463.5,34.67 463.61,33.67 463.71,34.26 463.82,33.65 463.92,33.82 464.03,34.55 464.14,34.96 464.24,34.21 464.35,34.1 464.45,34.73 464.56,35.8 464.66,35.84 464.77,35.9 464.87,36.2 464.98,36.28 465.08,36.17 465.19,36.97 465.29,36.77 465.4,36.99 465.51,37.03 465.61,37.35 465.72,38.26 465.82,37.9 465.93,38.78 466.03,38.12 466.14,38.55 466.24,38.72 466.35,39.2 466.45,38.8 466.56,38.79 466.66,39.85 466.77,40.28 466.88,40.06 466.98,38.87 467.09,40.68 467.19,40.53 467.3,40.38 467.4,40.67 467.51,41.27 467.61,40.53 467.72,41.41 467.82,41.45 467.93,42.26 468.04,42.52 468.14,42.22 468.25,42.43 468.35,42.51 468.46,42.7 468.56,42.95 468.67,42.88 468.77,43.51 468.88,44.06 468.98,43.81 469.09,44.92 469.19,43.89 469.3,44.78 469.41,44.94 469.51,43.6 469.62,44.63 469.72,44.39 469.83,43.75 469.93,43.79 470.04,44.15 470.14,44.33 470.25,44.33 470.35,43.8 470.46,43.84 470.56,43.55 470.67,43.59 470.78,43.35 470.88,43.93 470.99,43.71 471.09,42.93 471.2,43.34 471.3,42.86 471.41,42.68 471.51,43.39 471.62,42.93 471.72,41.67 471.83,42.05 471.94,41.5 472.04,42.34 472.15,42.16 472.25,41.52 472.36,40.69 472.46,40.49 472.57,40.5 472.67,40.16 472.78,39.03 472.88,39.47 472.99,39.4 473.09,39.43 473.2,38.53 473.31,38.26 473.41,37.85 473.52,38.15 473.62,37.49 473.73,37.18 473.83,37.76 473.94,36.75 474.04,36.55 474.15,35.82 474.25,35.02 474.36,35.47 474.46,35.26 474.57,34.8 474.68,34.46 474.78,34.37 474.89,34.17 474.99,33.7 475.1,33.82 475.2,32.58 475.31,33.52 475.41,34.24 475.52,33.63 475.62,34.49 475.73,34.39 475.84,34.98 475.94,35.62 476.05,35.38 476.15,35.72 476.26,36.82 476.36,35.98 476.47,36.5 476.57,37.02 476.68,35.53 476.78,37.08 476.89,37.09 476.99,37.08 477.1,37.59 477.21,38.66 477.31,38.1 477.42,38.5 477.52,38.55 477.63,38.84 477.73,38.07 477.84,39.21 477.94,39.47 478.05,39.83 478.15,40.02 478.26,40.25 478.36,39.47 478.47,40.34 478.58,41.03 478.68,40.61 478.79,40.52 478.89,41.53 479,42.06 479.1,42.16 479.21,41.56 479.31,41.93 479.42,42.67 479.52,42.75 479.63,43.49 479.74,42.94 479.84,44.11 479.95,42.85 480.05,43.48 480.16,43.65 480.26,44.16 480.37,43.73 480.47,44.02 480.58,44 480.68,44.28 480.79,43.92 480.89,44.68 481,44.47 481.11,44.04 481.21,43.6 481.32,43.9 481.42,42.9 481.53,44.1 481.63,44.54 481.74,43.86 481.84,42.78 481.95,43.23 482.05,43.57 482.16,43.59 482.26,42.55 482.37,44.24 482.48,43.01 482.58,42.86 482.69,43.56 482.79,43.62 482.9,42.41 483,43.07 483.11,42.1 483.21,42.23 483.32,42.19 483.42,41.73 483.53,41.52 483.64,40.67 483.74,40.4 483.85,40.9 483.95,40.45 484.06,39.46 484.16,38.95 484.27,39.2 484.37,38.08 484.48,38.54 484.58,38.36 484.69,37.9 484.79,37.83 484.9,36.25 485.01,35.09 485.11,33.17 485.22,31.62 485.32,29.48 485.43,28.52 485.53,27.19 485.64,24.77 485.74,24.11 485.85,21.9 485.95,20.74 486.06,18.02 486.16,16.8 486.27,15.52 486.38,14.63 486.48,12.12 486.59,11.73 486.69,11.81 486.8,12.6 486.9,14.03 487.01,15.88 487.11,15.47 487.22,17.66 487.32,17.37 487.43,19.31 487.54,20.7 487.64,21.71 487.75,22.14 487.85,22.86 487.96,23.98 488.06,25.9 488.17,25.36 488.27,27.82 488.38,28.69 488.48,28.92 488.59,30.07 488.69,31.58 488.8,32.23 488.91,33.1 489.01,34.86 489.12,36.26 489.22,37.12 489.33,37.81 489.43,38.25 489.54,39.1 489.64,40.29 489.75,41.52 489.85,42.41 489.96,43.58 490.06,44.61 490.17,45.75 490.28,47.45 490.38,47.46 490.49,49.42 490.59,48.52 490.7,50.33 490.8,49.6 490.91,51.26 491.01,51.49 491.12,52.5 491.22,52.3 491.33,52.22 491.44,53.52 491.54,54.66 491.65,54.53 491.75,55.31 491.86,56.01 491.96,56.76 492.07,58.19 492.17,58.24 492.28,58.42 492.38,57.92 492.49,57.65 492.59,57.56 492.7,57.51 492.81,56.41 492.91,55.76 493.02,55.79 493.12,55.42 493.23,55.65 493.33,54.92 493.44,54.46 493.54,54.66 493.65,53.33 493.75,52.96 493.86,52.72 493.96,53.35 494.07,52.22 494.18,52.21 494.28,50.73 494.39,51.15 494.49,50.28 494.6,49.49 494.7,49.32 494.81,48.72 494.91,49.1 495.02,47.6 495.12,47.44 495.23,46.37 495.34,45.94 495.44,45.93 495.55,46.54 495.65,45.36 495.76,44.75 495.86,44.26 495.97,43.77 496.07,42.77 496.18,42.35 496.28,42.46 496.39,41.53 496.49,41.57 496.6,41.31 496.71,40.99 496.81,38.97 496.92,39.56 497.02,40.53 497.13,38.86 497.23,39.07 497.34,38.01 497.44,37.57 497.55,36.85 497.65,36.6 497.76,36.32 497.86,35.76 497.97,35.37 498.08,34.77 498.18,34.98 498.29,33.54 498.39,34.71 498.5,33.88 498.6,34.84 498.71,34.95 498.81,34.47 498.92,35.29 499.02,35.64 499.13,35.03 499.24,36.46 499.34,36.3 499.45,36.49 499.55,36.59 499.66,36.26 499.76,36.27 499.87,37.88 499.97,37.78 500.08,37.26 500.18,37.08 500.29,37.64 500.39,38.03 500.5,38.1 500.61,38.6 500.71,39.03 500.82,38.81 500.92,38.27 501.03,38.94 501.13,39.29 501.24,39.87 501.34,38.4 501.45,39.11 501.55,38.6 501.66,38.24 501.76,38.69 501.87,38.79 501.98,37.9 502.08,38.02 502.19,39.01 502.29,38.58 502.4,38.72 502.5,38.12 502.61,37.97 502.71,38.73 502.82,38.69 502.92,38.71 503.03,38.38 503.14,38.36 503.24,37.68 503.35,38.56 503.45,37.98 503.56,38.17 503.66,37.86 503.77,38.27 503.87,38.2 503.98,37.78 504.08,36.88 504.19,37.22 504.29,36.89 504.4,37.57 504.51,36.63 504.61,37.62 504.72,37.32 504.82,36.34 504.93,37.18 505.03,36.85 505.14,36.09 505.24,35.96 505.35,36.89 505.45,36.82 505.56,35.9 505.66,35.33 505.77,36.16 505.88,35.52 505.98,35.86 506.09,35.62 506.19,34.97 506.3,35.1 506.4,35.25 506.51,35.6 506.61,34.09 506.72,34.93 506.82,34.94 506.93,34.88 507.04,33.91 507.14,34.38 507.25,34.51 507.35,33.99 507.46,33.97 507.56,33.91 507.67,34.27 507.77,33.29 507.88,33.32 507.98,33.42 508.09,33.14 508.19,32.64 508.3,33.81 508.41,33.05 508.51,31.62 508.62,32.7 508.72,32.83 508.83,32.08 508.93,34.13 509.04,32.88 509.14,33.09 509.25,34.13 509.35,32.74 509.46,32.77 509.56,33.75 509.67,34.05 509.78,33.67 509.88,33.82 509.99,34.11 510.09,35.18 510.2,35.36 510.3,35.01 510.41,34.69 510.51,35.06 510.62,35.14 510.72,36.11 510.83,35.01 510.94,35.42 511.04,36.68 511.15,36.96 511.25,36.78 511.36,36.83 511.46,36.75 511.57,37.41 511.67,36.72 511.78,36.06 511.88,36.89 511.99,36.66 512.09,37.17 512.2,36.61 512.31,36.99 512.41,36.55 512.52,36.75 512.62,38.03 512.73,37.69 512.83,37.69 512.94,37.2 513.04,38.04 513.15,38.1 513.25,37.09 513.36,38.23 513.46,37.43 513.57,37.43 513.68,37.49 513.78,38.02 513.89,38.69 513.99,38.85 514.1,38.03 514.2,38.07 514.31,38.21 514.41,37.75 514.52,37.63 514.62,38.07 514.73,39.1 514.84,38.42 514.94,39.9 515.05,37.94 515.15,37.46 515.26,38.6 515.36,39.21 515.47,39.27 515.57,38.22 515.68,38.68 515.78,39.1 515.89,39.65 515.99,39.15 516.1,39.14 516.21,39.41 516.31,39.56 516.42,39.74 516.52,40.1 516.63,39.92 516.73,40.54 516.84,39.72 516.94,39.28 517.05,40.83 517.15,40.06 517.26,40.05 517.36,40.28 517.47,40.44 517.58,40.23 517.68,40.27 517.79,41.21 517.89,39.7 518,40.45 518.1,40.17 518.21,40.23 518.31,40.16 518.42,39.73 518.52,38.83 518.63,40.1 518.74,40.58 518.84,39.39 518.95,40.35 519.05,39.32 519.16,40.23 519.26,39.18 519.37,39.15 519.47,39.18 519.58,39.77 519.68,39.56 519.79,38.83 519.89,38.52 520,39.17 520.11,38.68 520.21,38.32 520.32,38.9 520.42,38.98 520.53,39.35 520.63,38.81 520.74,38.3 520.84,38.52 520.95,38.81 521.05,39.13 521.16,39.18 521.26,38.37 521.37,38.94 521.48,38.56 521.58,38.31 521.69,38.69 521.79,38.27 521.9,38.47 522,39.11 522.11,39.76 522.21,39.81 522.32,39.89 522.42,39.11 522.53,38.44 522.64,38.8 522.74,38.95 522.85,39.13 522.95,39.6 523.06,39.88 523.16,38.96 523.27,40.36 523.37,38.99 523.48,39.75 523.58,39.61 523.69,39.2 523.79,39.46 523.9,39.51 524.01,39.61 524.11,40.35 524.22,39.59 524.32,39.4 524.43,38.96 524.53,39.59 524.64,39.76 524.74,38.65 524.85,39.14 524.95,39.89 525.06,40.22 525.16,39.68 525.27,39.37 525.38,39.02 525.48,40.15 525.59,39.41 525.69,39.68 525.8,39.72 525.9,39.35 526.01,39.23 526.11,38.37 526.22,40.26 526.32,39.73 526.43,39.04 526.54,40.01 526.64,38.39 526.75,40.43 526.85,38.67 526.96,39.86 527.06,39.33 527.17,39.37 527.27,39.63 527.38,39.52 527.48,39.88 527.59,39.39 527.69,38.93 527.8,39.75 527.91,39.74 528.01,39.23 528.12,39.19 528.22,38.81 528.33,39.35 528.43,39.46 528.54,39.48 528.64,38.66 528.75,39.33 528.85,38.68 528.96,38.83 529.06,39.55 529.17,39.33 529.28,39.48 529.38,38.81 529.49,39.61 529.59,39.14 529.7,39.12 529.8,37.75 529.91,38.94 530.01,39.83 530.12,38.26 530.22,39.05 530.33,39.49 530.44,38.72 530.54,38.56 530.65,38.59 530.75,38.66 530.86,38.73 530.96,38.53 531.07,38.53 531.17,38.3 531.28,38.68 531.38,38.26 531.49,38.11 531.59,37.79 531.7,38.73 531.81,38.62 531.91,38.18 532.02,37.1 532.12,37.67 532.23,37.73 532.33,37.54 532.44,37.95 532.54,36.72 532.65,36.06 532.75,36.88 532.86,36.5 532.96,36.66 533.07,36.89 533.18,36.44 533.28,36.65 533.39,36.31 533.49,36.17 533.6,36.66 533.7,36.38 533.81,35.82 533.91,36.74 534.02,35.45 534.12,35.55 534.23,35.1 534.34,35.34 534.44,36.1 534.55,35.49 534.65,35.24 534.76,35.84 534.86,34.9 534.97,34.87 535.07,35.2 535.18,35.36 535.28,35.26 535.39,35.36 535.49,35.45 535.6,35.98 535.71,36.28 535.81,35.33 535.92,35.43 536.02,36.84 536.13,36.35 536.23,36.9 536.34,37.06 536.44,36.66 536.55,36.31 536.65,36.69 536.76,36.31 536.86,37.81 536.97,37.57 537.08,37.44 537.18,38.01 537.29,38.79 537.39,38.27 537.5,39.16 537.6,39.55 537.71,39.86 537.81,40.13 537.92,40.67 538.02,41.42 538.13,40.99 538.24,41.72 538.34,42.71 538.45,42.19 538.55,42.69 538.66,42.79 538.76,43.8 538.87,43.81 538.97,43.2 539.08,44.58 539.18,44.58 539.29,44.91 539.39,44.17 539.5,44.58" fill="none" stroke="#111" stroke-width="0.6" stroke-linejoin="round"/>
<path d="M19 179.6V242.5H124.3" fill="none" stroke="#808080" stroke-width="0.7"/>
<path d="M19 179.6h1" stroke="#808080" stroke-width="0.5"/>
<text x="16.7" y="181.3" font-size="5" text-anchor="end">50</text>
<path d="M19 211.05h1" stroke="#808080" stroke-width="0.5"/>
<text x="16.7" y="212.75" font-size="5" text-anchor="end">0</text>
<path d="M19 242.5h1" stroke="#808080" stroke-width="0.5"/>
<text x="16.7" y="244.2" font-size="5" text-anchor="end">-50</text>
<path d="M19 242.5v-1" stroke="#808080" stroke-width="0.5"/>
<path d="M40.06 242.5v-1" stroke="#808080" stroke-width="0.5"/>
<path d="M61.12 242.5v-1" stroke="#808080" stroke-width="0.5"/>
<path d="M82.18 242.5v-1" stroke="#808080" stroke-width="0.5"/>
<path d="M103.24 242.5v-1" stroke="#808080" stroke-width="0.5"/>
<path d="M124.3 242.5v-1" stroke="#808080" stroke-width="0.5"/>
<text x="19" y="249.1" font-size="5" text-anchor="middle">0</text>
<text x="40.06" y="249.1" font-size="5" text-anchor="middle">200</text>
<text x="61.12" y="249.1" font-size="5" text-anchor="middle">400</text>
<text x="82.18" y="249.1" font-size="5" text-anchor="middle">600</text>
<text x="103.24" y="249.1" font-size="5" text-anchor="middle">800</text>
<text x="124.3" y="249.1" font-size="5" text-anchor="middle">1000</text>
<text x="71.65" y="255.7" font-size="5.8" text-anchor="middle">Samples</text>
<polyline points="19,236.76 19.11,234.88 19.21,234.51 19.32,233.06 19.42,231.93 19.53,231.96 19.63,229.62 19.74,229.24 19.84,228.27 19.95,225.98 20.05,226.23 20.16,225.1 20.26,223.62 20.37,221.38 20.48,220.51 20.58,219.94 20.69,218.9 20.79,220.13 20.9,220.59 21,219.31 21.11,219.48 21.21,219.36 21.32,220.03 21.42,219.14 21.53,219.22 21.64,219.94 21.74,218.99 21.85,219.07 21.95,218.44 22.06,219.3 22.16,218.67 22.27,218.03 22.37,218.8 22.48,218.14 22.58,218.07 22.69,217.54 22.79,216.29 22.9,216.31 23.01,216.15 23.11,215.88 23.22,215.46 23.32,214.73 23.43,214.81 23.53,214.08 23.64,214.38 23.74,214.19 23.85,213.73 23.95,213.74 24.06,213.03 24.16,214.26 24.27,212.9 24.38,213.04 24.48,213.31 24.59,212.56 24.69,212.46 24.8,212.48 24.9,213.52 25.01,212.93 25.11,214.06 25.22,213.53 25.32,213.49 25.43,213.54 25.54,213.65 25.64,213.17 25.75,214.59 25.85,213.65 25.96,214.15 26.06,213.99 26.17,213.24 26.27,213.4 26.38,214 26.48,212.98 26.59,214.19 26.69,214.1 26.8,213.84 26.91,214.69 27.01,214.69 27.12,214.21 27.22,215.54 27.33,215.21 27.43,216.02 27.54,214.07 27.64,215.56 27.75,215.16 27.85,216.26 27.96,214.72 28.06,216.52 28.17,216.19 28.28,214.95 28.38,215.91 28.49,216.57 28.59,215.88 28.7,216.58 28.8,216.78 28.91,217.23 29.01,217.55 29.12,217.64 29.22,217.74 29.33,217.8 29.44,217.52 29.54,217.69 29.65,217.95 29.75,218 29.86,218.29 29.96,217.9 30.07,218.22 30.17,217.77 30.28,218.83 30.38,217.67 30.49,218.81 30.59,218.95 30.7,218.81 30.81,219.73 30.91,219.44 31.02,219.52 31.12,219.9 31.23,220.06 31.33,221.13 31.44,219.75 31.54,220.92 31.65,222.3 31.75,220.34 31.86,221.12 31.96,221.42 32.07,221.89 32.18,222.2 32.28,221.9 32.39,221.2 32.49,222.25 32.6,222.3 32.7,222.92 32.81,223.79 32.91,223.46 33.02,223.64 33.12,223.47 33.23,223.74 33.34,224.16 33.44,225.08 33.55,225.28 33.65,225.22 33.76,226.01 33.86,225.75 33.97,224.8 34.07,225.72 34.18,226.5 34.28,226.86 34.39,226.29 34.49,226.57 34.6,226.91 34.71,227.04 34.81,227.63 34.92,227.79 35.02,228.69 35.13,228.6 35.23,228.69 35.34,229.78 35.44,229.59 35.55,229.71 35.65,228.83 35.76,229.88 35.86,230.16 35.97,230.14 36.08,230.96 36.18,230.26 36.29,231.91 36.39,232.39 36.5,230.61 36.6,229.85 36.71,228.97 36.81,227.39 36.92,227.46 37.02,225.04 37.13,224.43 37.24,222.92 37.34,222.34 37.45,221.03 37.55,219.23 37.66,219.11 37.76,216.93 37.87,216.57 37.97,214.87 38.08,216.42 38.18,214.73 38.29,215.13 38.39,213.85 38.5,214.62 38.61,214.58 38.71,213.6 38.82,213.11 38.92,213.02 39.03,212.49 39.13,212.27 39.24,212.07 39.34,212.19 39.45,210.7 39.55,210.38 39.66,210.76 39.76,209.41 39.87,210.56 39.98,210.86 40.08,211.84 40.19,211.66 40.29,211.74 40.4,212.89 40.5,213.56 40.61,214.9 40.71,214.49 40.82,215.71 40.92,216.21 41.03,216.38 41.14,216.56 41.24,217.58 41.35,217.19 41.45,218.12 41.56,219.48 41.66,218.74 41.77,217.9 41.87,218.1 41.98,217.84 42.08,216.55 42.19,215.63 42.29,216.13 42.4,217.43 42.51,216.28 42.61,216.35 42.72,216.37 42.82,215.84 42.93,215.75 43.03,215.06 43.14,214.47 43.24,214.23 43.35,213.83 43.45,213.88 43.56,213.51 43.66,211.65 43.77,212 43.88,211.68 43.98,210.78 44.09,210.17 44.19,210.55 44.3,210.24 44.4,209.39 44.51,209.16 44.61,208.37 44.72,207.27 44.82,207.28 44.93,206.95 45.04,206.46 45.14,206.47 45.25,205.78 45.35,204.15 45.46,205.1 45.56,205.17 45.67,203.91 45.77,204.06 45.88,204.48 45.98,204.82 46.09,204.54 46.19,203.27 46.3,203.3 46.41,203.28 46.51,202.9 46.62,202.99 46.72,202.96 46.83,202.97 46.93,202.78 47.04,203.12 47.14,202.98 47.25,204.03 47.35,204.41 47.46,203.47 47.56,204.29 47.67,203.44 47.78,203.98 47.88,203.65 47.99,203.77 48.09,204.38 48.2,205.36 48.3,205.87 48.41,204.97 48.51,205.49 48.62,207.16 48.72,206.44 48.83,206.4 48.94,205.98 49.04,204.73 49.15,205.46 49.25,206.09 49.36,204.42 49.46,205.03 49.57,205.36 49.67,204.69 49.78,204.32 49.88,204.29 49.99,204.51 50.09,204.76 50.2,204.7 50.31,204.24 50.41,203.34 50.52,204.49 50.62,204.38 50.73,203.18 50.83,203.98 50.94,204.06 51.04,204.11 51.15,204.75 51.25,203.79 51.36,204.05 51.46,204.7 51.57,205.76 51.68,204.8 51.78,204.03 51.89,204.23 51.99,205.61 52.1,205.97 52.2,204.82 52.31,205.11 52.41,205.54 52.52,206.45 52.62,206.07 52.73,207.43 52.84,206.76 52.94,206.67 53.05,206.85 53.15,207.25 53.26,207.58 53.36,206.92 53.47,207.81 53.57,207.75 53.68,207.84 53.78,207.17 53.89,207.97 53.99,208.1 54.1,208.42 54.21,208.82 54.31,207.74 54.42,207.59 54.52,209.22 54.63,209.16 54.73,208.42 54.84,207.93 54.94,208.67 55.05,210.03 55.15,208.09 55.26,208.76 55.36,210.15 55.47,209.5 55.58,209.32 55.68,209.61 55.79,209.5 55.89,210.17 56,209.88 56.1,210.11 56.21,210.77 56.31,210.87 56.42,211.41 56.52,211.44 56.63,212.44 56.74,212.78 56.84,211.85 56.95,212.9 57.05,214.02 57.16,213.72 57.26,214.47 57.37,215.76 57.47,215.21 57.58,215.74 57.68,216.84 57.79,216.96 57.89,217.41 58,216.22 58.11,216.14 58.21,215.74 58.32,213.6 58.42,213.18 58.53,213.2 58.63,212.31 58.74,212.15 58.84,211.01 58.95,209.96 59.05,209.73 59.16,208.5 59.26,207.71 59.37,207.41 59.48,205.91 59.58,206.7 59.69,205.16 59.79,205.34 59.9,205.96 60,207.71 60.11,208 60.21,209.84 60.32,211.84 60.42,212.58 60.53,213.3 60.64,214.82 60.74,216.09 60.85,217.27 60.95,217.94 61.06,219.82 61.16,218.42 61.27,218.35 61.37,218.25 61.48,217.39 61.58,216.4 61.69,216.39 61.79,216.01 61.9,215.03 62.01,214.41 62.11,213.88 62.22,212.72 62.32,213.1 62.43,212.01 62.53,210.51 62.64,211.9 62.74,212.65 62.85,213.18 62.95,213.43 63.06,214.24 63.16,214.13 63.27,214.68 63.38,216.57 63.48,216.99 63.59,217.71 63.69,218.1 63.8,219.17 63.9,219.37 64.01,218.89 64.11,218.3 64.22,217.76 64.32,217.65 64.43,217.51 64.54,217.67 64.64,217.12 64.75,216.86 64.85,217.46 64.96,215.68 65.06,215.52 65.17,215.77 65.27,215.34 65.38,214.12 65.48,212.58 65.59,211.17 65.69,209.8 65.8,209.01 65.91,208.6 66.01,206.88 66.12,204.63 66.22,203.14 66.33,202.48 66.43,201.5 66.54,199.81 66.64,200.47 66.75,201.6 66.85,202.37 66.96,202.71 67.06,202.44 67.17,204.22 67.28,204.93 67.38,205.2 67.49,205.51 67.59,206.4 67.7,207.43 67.8,207.56 67.91,207.9 68.01,209.13 68.12,209.98 68.22,209.62 68.33,210.12 68.44,210.34 68.54,210.06 68.65,210.3 68.75,211.07 68.86,210.72 68.96,209.44 69.07,210.72 69.17,211.39 69.28,212.06 69.38,212.08 69.49,211.73 69.59,212.51 69.7,212.33 69.81,212.6 69.91,212.13 70.02,211.81 70.12,212.03 70.23,210.9 70.33,210.24 70.44,209.66 70.54,210.08 70.65,209.64 70.75,208.91 70.86,208.48 70.96,208 71.07,208.5 71.18,206.94 71.28,205.99 71.39,206.14 71.49,205.7 71.6,205.68 71.7,204.95 71.81,204.78 71.91,205.17 72.02,204.73 72.12,205.83 72.23,205.46 72.34,205.22 72.44,205.73 72.55,205.95 72.65,205.22 72.76,205.35 72.86,204.16 72.97,205.67 73.07,204.53 73.18,204.85 73.28,204.33 73.39,204.23 73.49,204.65 73.6,204.5 73.71,204.45 73.81,204.89 73.92,205.09 74.02,204.29 74.13,205.03 74.23,205.57 74.34,205.98 74.44,205.6 74.55,205.76 74.65,206.34 74.76,206.91 74.86,206.91 74.97,206.67 75.08,207 75.18,207.56 75.29,206.92 75.39,207.19 75.5,208.08 75.6,207.89 75.71,208.2 75.81,207.93 75.92,208.72 76.02,208.16 76.13,208.83 76.24,208.84 76.34,209.26 76.45,208.01 76.55,209 76.66,209.73 76.76,209.1 76.87,210.23 76.97,209.91 77.08,209.99 77.18,209.85 77.29,209.8 77.39,210.26 77.5,209.88 77.61,210.07 77.71,210.79 77.82,211.03 77.92,210.67 78.03,211.76 78.13,211.42 78.24,211.49 78.34,210.93 78.45,212.01 78.55,211.85 78.66,212.18 78.76,212.77 78.87,211.77 78.98,212.15 79.08,212.58 79.19,213.66 79.29,211.81 79.4,211.74 79.5,211.9 79.61,212.22 79.71,211.93 79.82,211.12 79.92,211.63 80.03,211.33 80.14,211.37 80.24,212.1 80.35,211.69 80.45,211.25 80.56,211.01 80.66,209.83 80.77,210.22 80.87,210.52 80.98,209.8 81.08,209.83 81.19,210.39 81.29,209.61 81.4,209.7 81.51,209.79 81.61,208.44 81.72,209.22 81.82,208.94 81.93,208.65 82.03,209.39 82.14,208.1 82.24,208.08 82.35,208.7 82.45,208.35 82.56,207.54 82.66,206.42 82.77,208.48 82.88,206.76 82.98,206.75 83.09,206.72 83.19,206.97 83.3,207 83.4,207.16 83.51,206.39 83.61,205.99 83.72,206.15 83.82,205.4 83.93,206.6 84.04,205.21 84.14,205.33 84.25,205.39 84.35,204.73 84.46,203.82 84.56,204.49 84.67,205.42 84.77,205.17 84.88,204.49 84.98,205.21 85.09,205.54 85.19,205.59 85.3,205.93 85.41,206.15 85.51,206.44 85.62,205.76 85.72,206.79 85.83,206.74 85.93,207.58 86.04,207.59 86.14,207.66 86.25,207.16 86.35,207.71 86.46,208.73 86.56,207.96 86.67,208.48 86.78,208.97 86.88,208.66 86.99,209.4 87.09,209.68 87.2,210.1 87.3,209.84 87.41,210.08 87.51,210.1 87.62,211.09 87.72,210.38 87.83,210.87 87.94,211.85 88.04,211.01 88.15,210.42 88.25,211.84 88.36,211.97 88.46,212.19 88.57,212.44 88.67,212.87 88.78,212.43 88.88,212.96 88.99,213.15 89.09,213.17 89.2,213.33 89.31,213.08 89.41,212.79 89.52,212.95 89.62,213.72 89.73,214.61 89.83,213.66 89.94,214.86 90.04,214.49 90.15,214.01 90.25,213.63 90.36,213.85 90.46,213.69 90.57,213.91 90.68,213.53 90.78,212.79 90.89,213.05 90.99,212.47 91.1,211.71 91.2,212.41 91.31,212.25 91.41,212.26 91.52,211.17 91.62,211.5 91.73,210.58 91.84,211.72 91.94,210.48 92.05,209.08 92.15,210.72 92.26,210.84 92.36,210.07 92.47,208.77 92.57,209.66 92.68,209.27 92.78,208.48 92.89,208.94 92.99,208.93 93.1,208.36 93.21,207.64 93.31,207.72 93.42,207.74 93.52,207.57 93.63,207.19 93.73,208.32 93.84,207.93 93.94,208.8 94.05,209.35 94.15,209.34 94.26,210.3 94.36,210.85 94.47,211.38 94.58,211.94 94.68,212.3 94.79,212.09 94.89,212.24 95,212.55 95.1,213.84 95.21,214.42 95.31,214.19 95.42,213.85 95.52,214.96 95.63,216.09 95.74,216.1 95.84,217.17 95.95,218.01 96.05,217.91 96.16,217.9 96.26,218.24 96.37,219.08 96.47,218.76 96.58,220.11 96.68,218.85 96.79,218.64 96.89,219.57 97,218.85 97.11,218.54 97.21,218.95 97.32,219.19 97.42,218.3 97.53,217.71 97.63,217.73 97.74,218.59 97.84,218.27 97.95,217.68 98.05,218.52 98.16,217.8 98.26,217.38 98.37,217.52 98.48,217.61 98.58,217.13 98.69,218.3 98.79,217.1 98.9,217.15 99,217.19 99.11,217.48 99.21,216.16 99.32,216.67 99.42,217.02 99.53,216.7 99.64,215.92 99.74,216.17 99.85,216.95 99.95,215.75 100.06,214.63 100.16,215.62 100.27,214.74 100.37,215.61 100.48,213.55 100.58,214.66 100.69,213.39 100.79,213.55 100.9,213.73 101.01,213.41 101.11,214.38 101.22,214.18 101.32,214.54 101.43,214.28 101.53,214.09 101.64,214.02 101.74,214.68 101.85,215.22 101.95,214.48 102.06,215.55 102.16,214.86 102.27,214.48 102.38,214.92 102.48,215.1 102.59,215.42 102.69,215.61 102.8,215.57 102.9,214.73 103.01,214.74 103.11,214.49 103.22,214.83 103.32,214.31 103.43,213.76 103.54,214.22 103.64,214.08 103.75,213.83 103.85,212.85 103.96,212.76 104.06,212.06 104.17,212.82 104.27,212.74 104.38,212.59 104.48,212.54 104.59,211.61 104.69,210.98 104.8,210.18 104.91,210.09 105.01,209.56 105.12,208.61 105.22,209.02 105.33,207.1 105.43,206.24 105.54,205.45 105.64,204.9 105.75,203.68 105.85,204.16 105.96,202.5 106.06,201.76 106.17,201.26 106.28,201.09 106.38,200 106.49,198.87 106.59,199.71 106.7,198.25 106.8,196.76 106.91,196.29 107.01,195.9 107.12,193.85 107.22,195.3 107.33,193.54 107.44,193.89 107.54,194.48 107.65,193.84 107.75,194.1 107.86,194.61 107.96,194.26 108.07,195.69 108.17,194.82 108.28,196.05 108.38,194.63 108.49,195.39 108.59,196.5 108.7,195.41 108.81,195.73 108.91,196.8 109.02,196.07 109.12,196.57 109.23,198.08 109.33,197.71 109.44,197.04 109.54,197.58 109.65,198.05 109.75,196.57 109.86,197.59 109.96,198.66 110.07,198.78 110.18,199.78 110.28,199.55 110.39,201.01 110.49,201.68 110.6,201.91 110.7,202.59 110.81,204.36 110.91,204.45 111.02,204.82 111.12,205.58 111.23,206.22 111.34,208.27 111.44,208.73 111.55,209.2 111.65,210.07 111.76,209.65 111.86,211.67 111.97,211.7 112.07,210.53 112.18,211.62 112.28,210.48 112.39,210.96 112.49,210.51 112.6,210.38 112.71,210.08 112.81,210.88 112.92,210.4 113.02,210.45 113.13,210.33 113.23,209.41 113.34,210.04 113.44,210.28 113.55,210.53 113.65,208.49 113.76,209.22 113.86,208.14 113.97,207.98 114.08,206.33 114.18,206.95 114.29,205.72 114.39,203.87 114.5,203.58 114.6,203.49 114.71,202.28 114.81,201.25 114.92,200.24 115.02,200.1 115.13,199.24 115.24,198.85 115.34,198.2 115.45,197.82 115.55,196.8 115.66,195.96 115.76,194.6 115.87,195.11 115.97,193.91 116.08,195.45 116.18,197.3 116.29,198.27 116.39,199.49 116.5,201.33 116.61,202.52 116.71,203.29 116.82,204.51 116.92,207.22 117.03,207.78 117.13,209.08 117.24,211.95 117.34,212.14 117.45,213.54 117.55,215.26 117.66,215.83 117.76,217.7 117.87,219.59 117.98,220.81 118.08,222.75 118.19,223.77 118.29,223.59 118.4,224.63 118.5,224.67 118.61,224.93 118.71,223.41 118.82,224.57 118.92,223.43 119.03,223.54 119.14,224.32 119.24,225.37 119.35,224.96 119.45,225.26 119.56,224.73 119.66,224.51 119.77,225 119.87,225.41 119.98,225.49 120.08,226.55 120.19,226.03 120.29,226.31 120.4,226.62 120.51,225.58 120.61,226.51 120.72,226.92 120.82,225.85 120.93,226.19 121.03,225.83 121.14,226.39 121.24,228.55 121.35,227.82 121.45,227.82 121.56,228.61 121.66,227.31 121.77,228.46 121.88,228.82 121.98,229.11 122.09,229.39 122.19,229.01 122.3,227.69 122.4,227.31 122.51,225.84 122.61,224.18 122.72,223.91 122.82,222.76 122.93,220.67 123.04,220.43 123.14,219.85 123.25,217.7 123.35,217 123.46,214.65 123.56,215.12 123.67,212.76 123.77,212.59 123.88,211.45 123.98,209.73 124.09,208.74 124.19,207.91 124.3,206" fill="none" stroke="#111" stroke-width="0.6" stroke-linejoin="round"/>
<path d="M157.3 179.6V242.5H262.6" fill="none" stroke="#808080" stroke-width="0.7"/>
<path d="M157.3 179.6h1" stroke="#808080" stroke-width="0.5"/>
<text x="155" y="181.3" font-size="5" text-anchor="end">50</text>
<path d="M157.3 211.05h1" stroke="#808080" stroke-width="0.5"/>
<text x="155" y="212.75" font-size="5" text-anchor="end">0</text>
<path d="M157.3 242.5h1" stroke="#808080" stroke-width="0.5"/>
<text x="155" y="244.2" font-size="5" text-anchor="end">-50</text>
<path d="M157.3 242.5v-1" stroke="#808080" stroke-width="0.5"/>
<path d="M178.36 242.5v-1" stroke="#808080" stroke-width="0.5"/>
<path d="M199.42 242.5v-1" stroke="#808080" stroke-width="0.5"/>
<path d="M220.48 242.5v-1" stroke="#808080" stroke-width="0.5"/>
<path d="M241.54 242.5v-1" stroke="#808080" stroke-width="0.5"/>
<path d="M262.6 242.5v-1" stroke="#808080" stroke-width="0.5"/>
<text x="157.3" y="249.1" font-size="5" text-anchor="middle">0</text>
<text x="178.36" y="249.1" font-size="5" text-anchor="middle">200</text>
<text x="199.42" y="249.1" font-size="5" text-anchor="middle">400</text>
<text x="220.48" y="249.1" font-size="5" text-anchor="middle">600</text>
<text x="241.54" y="249.1" font-size="5" text-anchor="middle">800</text>
<text x="262.6" y="249.1" font-size="5" text-anchor="middle">1000</text>
<text x="209.95" y="255.7" font-size="5.8" text-anchor="middle">Samples</text>
<polyline points="157.3,209.82 157.41,209.09 157.51,209.62 157.62,211 157.72,211.62 157.83,212.47 157.93,211.85 158.04,210.87 158.14,209.24 158.25,207.09 158.35,205.85 158.46,205.9 158.56,206.83 158.67,208.39 158.78,209.36 158.88,210.33 158.99,212.42 159.09,212.72 159.2,210.9 159.3,208.88 159.41,205.42 159.51,205.15 159.62,207.05 159.72,208.83 159.83,208.09 159.94,209.49 160.04,209.01 160.15,207.17 160.25,211 160.36,209.01 160.46,210.74 160.57,208.99 160.67,205.68 160.78,206.68 160.88,205.86 160.99,207.94 161.09,207.97 161.2,207.59 161.31,203.64 161.41,205.38 161.52,206.02 161.62,202.28 161.73,209.25 161.83,207.82 161.94,207.49 162.04,214.4 162.15,208.45 162.25,211.08 162.36,211.73 162.46,208.81 162.57,212.75 162.68,204.06 162.78,206.2 162.89,201.33 162.99,197.58 163.1,198.73 163.2,196.18 163.31,197.21 163.41,204.17 163.52,204.51 163.62,208.42 163.73,205.97 163.84,203.65 163.94,207.61 164.05,206.26 164.15,205.36 164.26,206.46 164.36,204.1 164.47,199.3 164.57,204.72 164.68,207.7 164.78,212.46 164.89,217.49 164.99,215.82 165.1,217.29 165.21,211.44 165.31,207.15 165.42,207.18 165.52,206.02 165.63,205.54 165.73,210.72 165.84,207.86 165.94,211.41 166.05,217.8 166.15,211.97 166.26,212.13 166.36,210.56 166.47,211.41 166.58,215.43 166.68,223.58 166.79,232.44 166.89,227.19 167,231.68 167.1,228.98 167.21,216.4 167.31,222.55 167.42,220.46 167.52,219.64 167.63,223.93 167.74,220.83 167.84,215.05 167.95,216.86 168.05,216.33 168.16,210.65 168.26,213.31 168.37,208.82 168.47,206.86 168.58,210.75 168.68,208.5 168.79,209.74 168.89,210.79 169,211.92 169.11,217.59 169.21,219.06 169.32,219.72 169.42,214 169.53,212.99 169.63,208.39 169.74,211.4 169.84,214.61 169.95,214.38 170.05,218.26 170.16,218.01 170.26,221.83 170.37,220.19 170.48,221.17 170.58,216.65 170.69,213.19 170.79,211.7 170.9,209.26 171,213.96 171.11,211.7 171.21,215.25 171.32,215.6 171.42,212.03 171.53,212.76 171.64,208.85 171.74,207.51 171.85,209.83 171.95,213.83 172.06,214.83 172.16,211.11 172.27,228.66 172.37,207.67 172.48,213.68 172.58,216.16 172.69,217.52 172.79,218.95 172.9,215.25 173.01,219.34 173.11,217.74 173.22,216.65 173.32,214.22 173.43,212.15 173.53,214.49 173.64,214.47 173.74,215.58 173.85,215.16 173.95,214.11 174.06,212.19 174.16,212.24 174.27,215 174.38,217.44 174.48,220.45 174.59,219.82 174.69,197.21 174.8,217.16 174.9,214.07 175.01,216.31 175.11,218.76 175.22,215.27 175.32,213.93 175.43,213.68 175.54,215.46 175.64,216.92 175.75,215.17 175.85,211.35 175.96,211.86 176.06,213.28 176.17,220.05 176.27,227.63 176.38,222.35 176.48,217.87 176.59,210.16 176.69,198.43 176.8,201.44 176.91,205.36 177.01,209.96 177.12,218.81 177.22,220.76 177.33,212.39 177.43,208.5 177.54,199.95 177.64,201.21 177.75,206.32 177.85,211.8 177.96,217.87 178.06,213.82 178.17,214.09 178.28,212.63 178.38,208.67 178.49,206.53 178.59,204.59 178.7,202.46 178.8,208.67 178.91,211.24 179.01,217 179.12,219.86 179.22,216.62 179.33,214.95 179.44,209.11 179.54,211.7 179.65,212.17 179.75,212.08 179.86,210.89 179.96,206.94 180.07,209.38 180.17,206.83 180.28,205.96 180.38,206.12 180.49,234.32 180.59,212.46 180.7,215.62 180.81,208.89 180.91,204.15 181.02,203.22 181.12,206.06 181.23,210.11 181.33,210.22 181.44,210.02 181.54,207.98 181.65,213.04 181.75,211.05 181.86,211.49 181.96,207.21 182.07,212 182.18,222.2 182.28,218.46 182.39,225.18 182.49,211.4 182.6,203.05 182.7,206.2 182.81,196.88 182.91,203.78 183.02,206.26 183.12,207.62 183.23,212.26 183.34,209.06 183.44,210.96 183.55,205.68 183.65,192.18 183.76,209.21 183.86,203.19 183.97,210.04 184.07,216.79 184.18,212.46 184.28,212.86 184.39,209.06 184.49,206.56 184.6,210.14 184.71,214.48 184.81,208.55 184.92,208.04 185.02,209.17 185.13,203.79 185.23,214.79 185.34,210.94 185.44,210.75 185.55,210.46 185.65,201.99 185.76,202.76 185.86,200.18 185.97,205.34 186.08,208.85 186.18,215.99 186.29,213.59 186.39,212.84 186.5,211.86 186.6,210.97 186.71,209.68 186.81,208.83 186.92,212.85 187.02,208.24 187.13,208.83 187.24,210.94 187.34,205.94 187.45,200.47 187.55,206.32 187.66,206.27 187.76,207.18 187.87,211.55 187.97,215.61 188.08,214.98 188.18,217.42 188.29,220.59 188.39,208.67 188.5,208.63 188.61,206.14 188.71,208.06 188.82,212 188.92,192.81 189.03,214.81 189.13,208.17 189.24,209.8 189.34,207.98 189.45,204.91 189.55,205.71 189.66,206.05 189.76,206.2 189.87,206.2 189.98,213.42 190.08,217.26 190.19,216.97 190.29,215.29 190.4,209.88 190.5,200.76 190.61,200.41 190.71,199.35 190.82,202.53 190.92,206.83 191.03,211.86 191.14,212.95 191.24,206.66 191.35,208.58 191.45,204.83 191.56,201.05 191.66,202.95 191.77,201.62 191.87,206.26 191.98,209.16 192.08,210.83 192.19,212.68 192.29,210.23 192.4,211.21 192.51,215.85 192.61,223 192.72,215.13 192.82,213.76 192.93,210.57 193.03,205.9 193.14,205.21 193.24,208.38 193.35,205.37 193.45,202.7 193.56,205.4 193.66,203.7 193.77,208.93 193.88,216.21 193.98,216 194.09,215.75 194.19,215.34 194.3,211.2 194.4,213.16 194.51,216.17 194.61,209.05 194.72,209.41 194.82,207.66 194.93,209.66 195.04,214.85 195.14,213.15 195.25,216.55 195.35,212.84 195.46,211.2 195.56,209.33 195.67,206.08 195.77,206.27 195.88,203.31 195.98,204.83 196.09,204.83 196.19,207.64 196.3,208.4 196.41,205.59 196.51,204.62 196.62,197.79 196.72,203.27 196.83,206.11 196.93,203.35 197.04,207.08 197.14,199.62 197.25,200.48 197.35,201.81 197.46,200.59 197.56,206.81 197.67,204.3 197.78,204.42 197.88,205.53 197.99,202.44 198.09,209.72 198.2,212.39 198.3,212.79 198.41,213.85 198.51,208.42 198.62,210.9 198.72,211.43 198.83,210.49 198.94,199.73 199.04,210.57 199.15,210.76 199.25,210 199.36,208.07 199.46,210.79 199.57,207.38 199.67,213.25 199.78,211.93 199.88,213.73 199.99,217.93 200.09,212.17 200.2,211.05 200.31,211.46 200.41,211.49 200.52,215.02 200.62,216.68 200.73,216.8 200.83,212.48 200.94,211.85 201.04,211.41 201.15,208.27 201.25,212.88 201.36,211.06 201.46,208.5 201.57,207.44 201.68,205.22 201.78,206.46 201.89,210.55 201.99,210.31 202.1,207.74 202.2,208.83 202.31,204.48 202.41,206.5 202.52,211.5 202.62,209.93 202.73,210.3 202.84,211.29 202.94,211.58 203.05,211.63 203.15,213.75 203.26,212.79 203.36,213.36 203.47,211.9 203.57,210.99 203.68,209.98 203.78,209.39 203.89,212.85 203.99,213.52 204.1,212.28 204.21,212.29 204.31,208 204.42,206.75 204.52,210.58 204.63,208.04 204.73,209.94 204.84,213.3 204.94,212.02 205.05,212.96 205.15,213.9 205.26,200.36 205.36,212.9 205.47,215.55 205.58,212.91 205.68,214.76 205.79,212.19 205.89,211.82 206,216.01 206.1,219.06 206.21,218.37 206.31,216.83 206.42,215.91 206.52,212.6 206.63,214.14 206.74,214.02 206.84,214.49 206.95,212.9 207.05,211.77 207.16,209.52 207.26,205.28 207.37,205.08 207.47,205.97 207.58,206.5 207.68,209.67 207.79,213.22 207.89,214.67 208,214.72 208.11,216.26 208.21,216.92 208.32,215.52 208.42,217.33 208.53,212.41 208.63,210.89 208.74,209.26 208.84,208.89 208.95,215.29 209.05,215.36 209.16,216.06 209.26,214.79 209.37,210.71 209.48,208.15 209.58,204.63 209.69,206.38 209.79,207.29 209.9,209.19 210,213.8 210.11,211.9 210.21,213.78 210.32,214.13 210.42,213.3 210.53,213.05 210.64,211 210.74,213 210.85,210.79 210.95,212.45 211.06,212.75 211.16,212.47 211.27,211.37 211.37,209.25 211.48,210.24 211.58,207.61 211.69,210.16 211.79,211.63 211.9,208.43 212.01,205.08 212.11,206.49 212.22,206.3 212.32,209.23 212.43,211.93 212.53,209.67 212.64,209.66 212.74,208.95 212.85,208.26 212.95,207.59 213.06,206.21 213.16,205.52 213.27,208.02 213.38,209.11 213.48,210.47 213.59,210.59 213.69,209.81 213.8,207.04 213.9,210.5 214.01,209.26 214.11,208.18 214.22,212.97 214.32,212.52 214.43,214.6 214.54,215.68 214.64,212.91 214.75,211.27 214.85,211.69 214.96,209.48 215.06,208.91 215.17,206.02 215.27,205.81 215.38,207.72 215.48,211.32 215.59,213.32 215.69,213.55 215.8,212.49 215.91,211.92 216.01,211.08 216.12,209.59 216.22,211.64 216.33,212.15 216.43,215.14 216.54,213.36 216.64,212.99 216.75,211.6 216.85,209.25 216.96,214.02 217.06,211.67 217.17,210.85 217.28,212.49 217.38,211.07 217.49,212.43 217.59,211.67 217.7,211.04 217.8,209.43 217.91,208.76 218.01,210.8 218.12,212.05 218.22,214 218.33,218.6 218.44,217.2 218.54,215.86 218.65,215.9 218.75,213.47 218.86,212.97 218.96,211.08 219.07,208.9 219.17,208.79 219.28,211.75 219.38,215.81 219.49,216.04 219.59,214.5 219.7,215.53 219.81,215.36 219.91,214.84 220.02,215.23 220.12,211.2 220.23,209.16 220.33,207.44 220.44,206.02 220.54,223.63 220.65,205.79 220.75,208.43 220.86,211.25 220.96,209.25 221.07,207.83 221.18,207.65 221.28,203.93 221.39,205.35 221.49,204.73 221.6,203.53 221.7,205.75 221.81,207.36 221.91,209.26 222.02,209.44 222.12,211.75 222.23,211.99 222.34,212.24 222.44,211.97 222.55,209.86 222.65,212.59 222.76,210.3 222.86,210.68 222.97,206.51 223.07,205.08 223.18,209.47 223.28,209.1 223.39,215.44 223.49,211.57 223.6,204.88 223.71,205.93 223.81,198.57 223.92,205.44 224.02,210.15 224.13,214.7 224.23,215.95 224.34,215.69 224.44,214.99 224.55,210.04 224.65,216.31 224.76,207.79 224.86,208.54 224.97,211.44 225.08,203.67 225.18,209.8 225.29,208.18 225.39,204.26 225.5,212.46 225.6,207.08 225.71,206.21 225.81,207.1 225.92,197.86 226.02,201.96 226.13,202.21 226.24,201.48 226.34,210.86 226.45,210.3 226.55,211.71 226.66,216.89 226.76,216.37 226.87,214.07 226.97,212.45 227.08,207.33 227.18,205.93 227.29,207.77 227.39,207.95 227.5,209.04 227.61,210.07 227.71,209.14 227.82,211.7 227.92,195.32 228.03,209.7 228.13,211.01 228.24,209.99 228.34,212.7 228.45,209.51 228.55,208.39 228.66,208.24 228.76,209.03 228.87,208.92 228.98,207.28 229.08,208.1 229.19,210 229.29,209.21 229.4,211.89 229.5,210.42 229.61,206.01 229.71,207.24 229.82,205.45 229.92,206.87 230.03,209.98 230.14,207.26 230.24,209.6 230.35,207.02 230.45,208 230.56,211.34 230.66,211.87 230.77,211.19 230.87,213.6 230.98,217.06 231.08,214.99 231.19,217.2 231.29,212.61 231.4,213.4 231.51,216.73 231.61,216.77 231.72,213.65 231.82,209.47 231.93,208.1 232.03,203.9 232.14,205.42 232.24,205.52 232.35,204.37 232.45,207.48 232.56,212.85 232.66,216.27 232.77,215.25 232.88,216.29 232.98,213.29 233.09,207.8 233.19,209.11 233.3,214.9 233.4,217.46 233.51,221.21 233.61,217.79 233.72,214.33 233.82,210.38 233.93,211.58 234.04,217.02 234.14,212.65 234.25,211.68 234.35,212.89 234.46,212.59 234.56,219.8 234.67,226.25 234.77,224.58 234.88,222.18 234.98,219.41 235.09,220.54 235.19,218.11 235.3,232.44 235.41,218.24 235.51,218.93 235.62,220.19 235.72,220.49 235.83,220.13 235.93,215.06 236.04,208.68 236.14,210.49 236.25,208.5 236.35,210.52 236.46,219.71 236.56,219.18 236.67,225.49 236.78,227.1 236.88,221.57 236.99,219.5 237.09,228.66 237.2,216.87 237.3,217.8 237.41,220.69 237.51,218.74 237.62,219.96 237.72,217.53 237.83,216.93 237.94,221.07 238.04,217.2 238.15,222.83 238.25,219.79 238.36,217.27 238.46,220.53 238.57,220.9 238.67,220.74 238.78,219.47 238.88,214.21 238.99,217.55 239.09,219.98 239.2,216.49 239.31,216.59 239.41,209.52 239.52,209.24 239.62,215.63 239.73,217.66 239.83,220.97 239.94,222.11 240.04,216.86 240.15,215.63 240.25,210.87 240.36,207.61 240.46,213.6 240.57,213.72 240.68,215.52 240.78,214.96 240.89,216.25 240.99,215.47 241.1,215.46 241.2,214.76 241.31,208.21 241.41,210.12 241.52,208.42 241.62,204.27 241.73,206.1 241.84,200.91 241.94,199.98 242.05,203.25 242.15,198.75 242.26,204.49 242.36,207.51 242.47,214.51 242.57,218.88 242.68,214.16 242.78,212.11 242.89,207.54 242.99,202.96 243.1,205.59 243.21,205.95 243.31,204.36 243.42,211.69 243.52,207.83 243.63,208.87 243.73,210.22 243.84,207.96 243.94,212.37 244.05,211.86 244.15,212.08 244.26,212.78 244.36,192.18 244.47,209.86 244.58,211.05 244.68,210.92 244.79,213.37 244.89,216.49 245,215.16 245.1,214.3 245.21,213.66 245.31,214.9 245.42,216.95 245.52,216.83 245.63,215.51 245.74,215.8 245.84,210.67 245.95,210.12 246.05,211.6 246.16,203.91 246.26,208.39 246.37,213.25 246.47,209.02 246.58,215.89 246.68,212.41 246.79,208.67 246.89,209.58 247,205.79 247.11,208.22 247.21,208.24 247.32,206.11 247.42,206.63 247.53,205.66 247.63,204.25 247.74,207.57 247.84,209.69 247.95,208.59 248.05,205.99 248.16,206.67 248.26,208.06 248.37,210.88 248.48,212.29 248.58,195.32 248.69,218.1 248.79,213.74 248.9,214.15 249,207.32 249.11,201.53 249.21,203.3 249.32,204.97 249.42,205.81 249.53,211.43 249.64,211.49 249.74,215.15 249.85,216.56 249.95,206.09 250.06,210.35 250.16,205.97 250.27,206.38 250.37,214.63 250.48,211.92 250.58,214.96 250.69,215.18 250.79,217.58 250.9,213.83 251.01,210.26 251.11,209.52 251.22,204.09 251.32,208.77 251.43,209.33 251.53,211.02 251.64,214.48 251.74,211.11 251.85,213.6 251.95,214.3 252.06,210.33 252.16,213.23 252.27,209.56 252.38,206.69 252.48,211.5 252.59,208.67 252.69,207.83 252.8,205.93 252.9,204.43 253.01,205.83 253.11,211.23 253.22,215 253.32,218.02 253.43,220.25 253.54,215.13 253.64,214.95 253.75,207.96 253.85,208.81 253.96,208.09 254.06,205.64 254.17,205.37 254.27,199.77 254.38,197.89 254.48,196.27 254.59,198.14 254.69,201.15 254.8,207.46 254.91,209.65 255.01,211.3 255.12,208.32 255.22,205.45 255.33,219.86 255.43,204.33 255.54,203.69 255.64,204.15 255.75,201.84 255.85,203.73 255.96,201.34 256.06,201.67 256.17,207.61 256.28,208.51 256.38,208.65 256.49,209.74 256.59,208.06 256.7,204.93 256.8,203.39 256.91,197.89 257.01,195.83 257.12,197.28 257.22,206.49 257.33,208.77 257.44,200.79 257.54,200.66 257.65,194.16 257.75,194.55 257.86,200.31 257.96,198.4 258.07,204.8 258.17,210.64 258.28,208.57 258.38,207.54 258.49,202.81 258.59,201.04 258.7,201.54 258.81,202.33 258.91,192.81 259.02,203.75 259.12,205.59 259.23,207.56 259.33,206.23 259.44,203.79 259.54,203.3 259.65,207.68 259.75,205.85 259.86,208.95 259.96,213.58 260.07,213.94 260.18,213.8 260.28,212.87 260.39,212.37 260.49,207.96 260.6,209.25 260.7,215.26 260.81,209.52 260.91,212.13 261.02,213.94 261.12,208.85 261.23,213.18 261.34,216.08 261.44,210.3 261.55,207.06 261.65,204.54 261.76,200.19 261.86,205.3 261.97,206.66 262.07,209.02 262.18,212.29 262.28,211.01 262.39,215.55 262.49,214.19 262.6,211.24" fill="none" stroke="#111" stroke-width="0.45" stroke-linejoin="round"/>
<path d="M295.5 179.6V242.5H400.8" fill="none" stroke="#808080" stroke-width="0.7"/>
<path d="M295.5 179.6h1" stroke="#808080" stroke-width="0.5"/>
<text x="293.2" y="181.3" font-size="5" text-anchor="end">50</text>
<path d="M295.5 211.05h1" stroke="#808080" stroke-width="0.5"/>
<text x="293.2" y="212.75" font-size="5" text-anchor="end">0</text>
<path d="M295.5 242.5h1" stroke="#808080" stroke-width="0.5"/>
<text x="293.2" y="244.2" font-size="5" text-anchor="end">-50</text>
<path d="M295.5 242.5v-1" stroke="#808080" stroke-width="0.5"/>
<path d="M316.56 242.5v-1" stroke="#808080" stroke-width="0.5"/>
<path d="M337.62 242.5v-1" stroke="#808080" stroke-width="0.5"/>
<path d="M358.68 242.5v-1" stroke="#808080" stroke-width="0.5"/>
<path d="M379.74 242.5v-1" stroke="#808080" stroke-width="0.5"/>
<path d="M400.8 242.5v-1" stroke="#808080" stroke-width="0.5"/>
<text x="295.5" y="249.1" font-size="5" text-anchor="middle">0</text>
<text x="316.56" y="249.1" font-size="5" text-anchor="middle">200</text>
<text x="337.62" y="249.1" font-size="5" text-anchor="middle">400</text>
<text x="358.68" y="249.1" font-size="5" text-anchor="middle">600</text>
<text x="379.74" y="249.1" font-size="5" text-anchor="middle">800</text>
<text x="400.8" y="249.1" font-size="5" text-anchor="middle">1000</text>
<text x="348.15" y="255.7" font-size="5.8" text-anchor="middle">Samples</text>
<polyline points="295.5,211.76 295.61,210.63 295.71,210.62 295.82,209.84 295.92,209.02 296.03,208.63 296.13,207.55 296.24,206.33 296.34,204.98 296.45,205.72 296.55,205.45 296.66,205.14 296.76,203.12 296.87,202.69 296.98,200.6 297.08,203.02 297.19,202.68 297.29,203.22 297.4,202.65 297.5,203.18 297.61,203.92 297.71,203.98 297.82,203.04 297.92,203.09 298.03,203.82 298.14,204.02 298.24,204.3 298.35,205.45 298.45,205.28 298.56,206.24 298.66,205.56 298.77,207.03 298.87,207.57 298.98,207.45 299.08,207.99 299.19,209.07 299.29,210.18 299.4,210.48 299.51,210.96 299.61,210.9 299.72,211.12 299.82,212.35 299.93,212.32 300.03,211.9 300.14,208.04 300.24,205.84 300.35,204.68 300.45,200.28 300.56,198.58 300.66,195.05 300.77,193.5 300.88,191.81 300.98,191.07 301.09,187.8 301.19,184 301.3,183.82 301.4,185.37 301.51,186.75 301.61,186.05 301.72,187.29 301.82,188.51 301.93,187.43 302.04,189.31 302.14,189.2 302.25,190.18 302.35,189.27 302.46,190.6 302.56,191.14 302.67,191.35 302.77,191.13 302.88,192.83 302.98,192.12 303.09,193.87 303.19,192.85 303.3,194.8 303.41,194.97 303.51,193.73 303.62,194.62 303.72,195.54 303.83,196.14 303.93,194.97 304.04,197.01 304.14,197.48 304.25,198.55 304.35,198.78 304.46,199.58 304.56,200.91 304.67,200.33 304.78,201.7 304.88,203.18 304.99,204.26 305.09,203.76 305.2,206.17 305.3,205.7 305.41,208.28 305.51,208.95 305.62,208.76 305.72,210.75 305.83,210.93 305.94,212.82 306.04,213.08 306.15,213.79 306.25,212.31 306.36,213.06 306.46,212.54 306.57,211.96 306.67,211.58 306.78,211.16 306.88,210.26 306.99,209.4 307.09,210.59 307.2,208.03 307.31,207.57 307.41,207.59 307.52,207.89 307.62,207.15 307.73,207.11 307.83,205.89 307.94,206.6 308.04,207.19 308.15,206.9 308.25,206.15 308.36,204.67 308.46,203.71 308.57,205.43 308.68,204.55 308.78,203.94 308.89,205.17 308.99,202.81 309.1,203.25 309.2,202.51 309.31,202.07 309.41,203.74 309.52,201.98 309.62,203.76 309.73,203.01 309.84,203.97 309.94,203.49 310.05,204.15 310.15,204.45 310.26,204.16 310.36,203.93 310.47,204.24 310.57,203.77 310.68,205.85 310.78,205.73 310.89,204.54 310.99,205.62 311.1,204.46 311.21,205.49 311.31,207.47 311.42,205.87 311.52,207.63 311.63,207.63 311.73,208.66 311.84,209.39 311.94,210.24 312.05,209.29 312.15,210.47 312.26,210.56 312.36,212.06 312.47,212.81 312.58,213.31 312.68,212.92 312.79,213.41 312.89,214.63 313,214.28 313.1,217.01 313.21,216.93 313.31,219.12 313.42,218.04 313.52,218.64 313.63,219.73 313.74,221.41 313.84,220.76 313.95,221.31 314.05,222.44 314.16,224.15 314.26,224.74 314.37,225.26 314.47,225.24 314.58,224.92 314.68,226.33 314.79,227.13 314.89,227.77 315,225.89 315.11,225.71 315.21,226.54 315.32,226.56 315.42,226.75 315.53,225.09 315.63,226.36 315.74,225.17 315.84,224.49 315.95,225.54 316.05,224.28 316.16,224.05 316.26,224.62 316.37,224.36 316.48,223.75 316.58,224.25 316.69,224.53 316.79,223.74 316.9,222.4 317,222.62 317.11,222.57 317.21,223.84 317.32,222.46 317.42,224.73 317.53,222.37 317.64,221.92 317.74,222.07 317.85,222.5 317.95,221.98 318.06,222.3 318.16,220.58 318.27,220.45 318.37,221.37 318.48,220.27 318.58,221.42 318.69,220.96 318.79,219.67 318.9,219.56 319.01,219.28 319.11,218.1 319.22,220.28 319.32,219.66 319.43,219.7 319.53,218.95 319.64,218.5 319.74,217.62 319.85,219.17 319.95,218.83 320.06,216.97 320.16,218.29 320.27,217.13 320.38,215.79 320.48,216.95 320.59,216.8 320.69,215.76 320.8,216.76 320.9,216.03 321.01,216.69 321.11,215.15 321.22,216.04 321.32,215.39 321.43,214.66 321.54,215.51 321.64,214.64 321.75,212.06 321.85,214.02 321.96,214.53 322.06,213.08 322.17,212.44 322.27,214.33 322.38,213.21 322.48,213.43 322.59,212.43 322.69,213.37 322.8,211.69 322.91,212.31 323.01,212.19 323.12,211.79 323.22,212.6 323.33,212.46 323.43,211.65 323.54,210.56 323.64,211.49 323.75,210.52 323.85,209.42 323.96,209.88 324.06,210.29 324.17,212.4 324.28,213.97 324.38,215.45 324.49,214.76 324.59,217.08 324.7,216.98 324.8,217.52 324.91,218.06 325.01,217.25 325.12,216.47 325.22,215.47 325.33,212.98 325.44,212.86 325.54,211.77 325.65,210.49 325.75,212.13 325.86,210.33 325.96,208.57 326.07,208.2 326.17,206 326.28,207.94 326.38,206.78 326.49,206.28 326.59,204.15 326.7,202.84 326.81,203.56 326.91,204.54 327.02,204.47 327.12,207.01 327.23,205.9 327.33,207.05 327.44,207.63 327.54,207.55 327.65,206.95 327.75,208.88 327.86,207.52 327.96,209.66 328.07,209.31 328.18,210.76 328.28,211.99 328.39,210.62 328.49,213 328.6,211.18 328.7,211.38 328.81,210.71 328.91,211.44 329.02,210.98 329.12,209.72 329.23,211 329.34,209.47 329.44,210.4 329.55,210.19 329.65,207.71 329.76,207.69 329.86,208.67 329.97,207.9 330.07,206.76 330.18,207.66 330.28,207.57 330.39,208.13 330.49,207.75 330.6,207.29 330.71,208.86 330.81,207.29 330.92,207.11 331.02,208.9 331.13,208.02 331.23,208.37 331.34,207.64 331.44,207.53 331.55,208.61 331.65,208.79 331.76,209.35 331.86,209.97 331.97,209.51 332.08,210.06 332.18,209.52 332.29,210.08 332.39,209.63 332.5,211.93 332.6,212.7 332.71,211.53 332.81,210.94 332.92,210.98 333.02,212.23 333.13,212.14 333.24,212.65 333.34,213.33 333.45,213.1 333.55,214.01 333.66,212.41 333.76,214.38 333.87,214.02 333.97,215.68 334.08,213.18 334.18,214.91 334.29,214.69 334.39,212.02 334.5,213.06 334.61,210.56 334.71,210.71 334.82,210.51 334.92,209.42 335.03,209.72 335.13,209.53 335.24,208.49 335.34,208.51 335.45,206.47 335.55,206.27 335.66,207.17 335.76,206.48 335.87,206.11 335.98,205.12 336.08,203.81 336.19,203.49 336.29,203.9 336.4,204 336.5,206.09 336.61,204.78 336.71,205.45 336.82,208.19 336.92,206.1 337.03,207.73 337.14,209.22 337.24,209.65 337.35,211.72 337.45,212.14 337.56,211.22 337.66,212.98 337.77,213.53 337.87,213.61 337.98,215.48 338.08,216.62 338.19,217.77 338.29,217.44 338.4,218.05 338.51,218.03 338.61,217.6 338.72,219.26 338.82,217.39 338.93,217.5 339.03,217.28 339.14,217.5 339.24,214.87 339.35,216.5 339.45,213.02 339.56,214.35 339.66,212.41 339.77,213.11 339.88,214.3 339.98,212.09 340.09,212.43 340.19,211 340.3,211.88 340.4,211.4 340.51,211.94 340.61,209.48 340.72,209.69 340.82,208.28 340.93,207.94 341.04,206.12 341.14,207.86 341.25,205.79 341.35,203.72 341.46,203.27 341.56,202.95 341.67,201.34 341.77,201.85 341.88,199.69 341.98,199.13 342.09,198.1 342.19,198.57 342.3,197.93 342.41,198.07 342.51,196.85 342.62,195.88 342.72,195.56 342.83,196.02 342.93,197.51 343.04,197.83 343.14,197.38 343.25,199.07 343.35,198.57 343.46,197.77 343.56,200.35 343.67,198.99 343.78,198.62 343.88,199.65 343.99,199.81 344.09,199.38 344.2,201.23 344.3,200.6 344.41,201.08 344.51,200.24 344.62,201.65 344.72,202.84 344.83,201.47 344.94,202.84 345.04,202.73 345.15,201.69 345.25,201.33 345.36,202.29 345.46,201.26 345.57,202.43 345.67,201.79 345.78,203 345.88,202.18 345.99,202.72 346.09,202.12 346.2,203.52 346.31,202.68 346.41,204.09 346.52,203.13 346.62,202.33 346.73,203.29 346.83,203.4 346.94,203.69 347.04,202.97 347.15,203.4 347.25,203.74 347.36,202.2 347.46,204.76 347.57,203.74 347.68,202.92 347.78,203.14 347.89,205.28 347.99,204.71 348.1,205.24 348.2,203.88 348.31,204.2 348.41,205.71 348.52,205.47 348.62,204.44 348.73,206.01 348.84,205.34 348.94,207.08 349.05,207.29 349.15,207.24 349.26,207.27 349.36,207.49 349.47,207.68 349.57,207.42 349.68,208.59 349.78,208.66 349.89,206.97 349.99,209.99 350.1,209.61 350.21,209.84 350.31,209.45 350.42,209.01 350.52,209.46 350.63,210.85 350.73,210.31 350.84,212.19 350.94,211.02 351.05,211.61 351.15,210.72 351.26,211.57 351.36,212.15 351.47,211.7 351.58,213.48 351.68,211.55 351.79,213.09 351.89,212.82 352,212.82 352.1,211.83 352.21,212.67 352.31,213.51 352.42,214.35 352.52,212.85 352.63,212.92 352.74,215.03 352.84,214.25 352.95,215.4 353.05,214.53 353.16,215.41 353.26,216.72 353.37,214.44 353.47,216.83 353.58,216.43 353.68,217.39 353.79,217.25 353.89,216.39 354,217.55 354.11,217.66 354.21,217.88 354.32,217.87 354.42,219.05 354.53,218.92 354.63,219.6 354.74,218.52 354.84,219.52 354.95,219.21 355.05,219.98 355.16,219.9 355.26,219.23 355.37,219.28 355.48,217.57 355.58,215.92 355.69,218.09 355.79,217.48 355.9,215.59 356,216.58 356.11,214.52 356.21,213.22 356.32,214.34 356.42,215.77 356.53,212.55 356.64,213.11 356.74,211.61 356.85,210.61 356.95,211.68 357.06,212.59 357.16,212.37 357.27,212.41 357.37,213.42 357.48,213.39 357.58,213.75 357.69,213 357.79,214.11 357.9,214.47 358.01,215.38 358.11,215.84 358.22,215.54 358.32,215.27 358.43,216.15 358.53,216.86 358.64,216.98 358.74,217.11 358.85,217.69 358.95,217.76 359.06,219.6 359.16,219.06 359.27,218.02 359.38,218.57 359.48,218.98 359.59,217.8 359.69,218.87 359.8,216.86 359.9,218.48 360.01,216.86 360.11,219.3 360.22,215.44 360.32,216.77 360.43,218.18 360.54,216.28 360.64,215.85 360.75,216.79 360.85,214.75 360.96,213.91 361.06,216.03 361.17,214.01 361.27,213.89 361.38,214.19 361.48,214.04 361.59,213.59 361.69,213.49 361.8,212.67 361.91,212.86 362.01,213.67 362.12,211.61 362.22,212.52 362.33,213.07 362.43,213.66 362.54,213.36 362.64,212.81 362.75,214.06 362.85,212.35 362.96,214.66 363.06,213.21 363.17,213.02 363.28,213 363.38,212.82 363.49,212.21 363.59,213.76 363.7,213 363.8,211.22 363.91,210.99 364.01,212.88 364.12,211.83 364.22,211.95 364.33,212.67 364.44,211.76 364.54,213.25 364.65,211.16 364.75,211.29 364.86,212.28 364.96,211.57 365.07,211.45 365.17,211.83 365.28,213.01 365.38,210.91 365.49,211.74 365.59,212.83 365.7,210.61 365.81,210.51 365.91,211.26 366.02,211.8 366.12,210.74 366.23,211.79 366.33,210.35 366.44,211.38 366.54,212.02 366.65,211.62 366.75,210.75 366.86,209.86 366.96,209.26 367.07,210.93 367.18,210.4 367.28,211.2 367.39,211.47 367.49,211.8 367.6,209.4 367.7,209.23 367.81,208.51 367.91,209.81 368.02,209.42 368.12,211.12 368.23,210.21 368.34,210.45 368.44,210.46 368.55,208.76 368.65,210.91 368.76,209.28 368.86,209.53 368.97,208.33 369.07,208.39 369.18,208.4 369.28,208.76 369.39,209.74 369.49,209.73 369.6,209.14 369.71,208.93 369.81,209.38 369.92,208.97 370.02,208.35 370.13,209.6 370.23,208.99 370.34,208.13 370.44,208.82 370.55,207.94 370.65,207.45 370.76,209.09 370.86,208.3 370.97,208.37 371.08,209.27 371.18,207.65 371.29,208.19 371.39,206.18 371.5,209 371.6,207.6 371.71,207.63 371.81,209.36 371.92,208.41 372.02,206.77 372.13,207.82 372.24,209.65 372.34,208.63 372.45,207.61 372.55,207.82 372.66,208.99 372.76,206.79 372.87,208.45 372.97,208.06 373.08,207.54 373.18,208.76 373.29,205.98 373.39,208.18 373.5,206.82 373.61,208.21 373.71,206.49 373.82,206.52 373.92,205.14 374.03,207.09 374.13,205.99 374.24,207.78 374.34,206.12 374.45,204.94 374.55,205.75 374.66,206.78 374.76,207.85 374.87,206.75 374.98,206.85 375.08,206.57 375.19,207.29 375.29,207.11 375.4,205.78 375.5,206.99 375.61,207.1 375.71,207.1 375.82,208.33 375.92,205.84 376.03,206.79 376.14,207.72 376.24,207.25 376.35,206.31 376.45,206.42 376.56,206.97 376.66,207.92 376.77,206.82 376.87,207.34 376.98,204.72 377.08,207 377.19,207.8 377.29,207.77 377.4,206.43 377.51,208.03 377.61,206.73 377.72,207.93 377.82,207.91 377.93,208.21 378.03,207.57 378.14,207.16 378.24,206.96 378.35,209.13 378.45,210.52 378.56,210.3 378.66,210.33 378.77,210.56 378.88,210.06 378.98,211.89 379.09,210.28 379.19,210.63 379.3,210.77 379.4,212.86 379.51,213.35 379.61,213.76 379.72,213.52 379.82,213.93 379.93,213.55 380.04,212.14 380.14,212.46 380.25,213.21 380.35,213.76 380.46,212.94 380.56,213.69 380.67,213.42 380.77,213.06 380.88,211.37 380.98,211.58 381.09,213.03 381.19,213.16 381.3,213.18 381.41,211.63 381.51,212.85 381.62,212.07 381.72,213.58 381.83,212.19 381.93,212.42 382.04,211.87 382.14,212.14 382.25,213.04 382.35,213.14 382.46,210.83 382.56,211.59 382.67,212.64 382.78,212.06 382.88,211.71 382.99,212.48 383.09,212.92 383.2,212.85 383.3,211.74 383.41,213.06 383.51,212.73 383.62,212.25 383.72,213.67 383.83,212.14 383.94,211.68 384.04,210.28 384.15,210.53 384.25,212.55 384.36,210.81 384.46,211.08 384.57,211.27 384.67,211.15 384.78,212.93 384.88,210.76 384.99,211.24 385.09,211.31 385.2,211.24 385.31,212.04 385.41,210.2 385.52,209.67 385.62,209.8 385.73,210.28 385.83,209.62 385.94,209.24 386.04,210.77 386.15,210.19 386.25,209.07 386.36,211.37 386.46,209.5 386.57,210.73 386.68,209.99 386.78,209.47 386.89,209.37 386.99,209.46 387.1,208.92 387.2,209.88 387.31,210.24 387.41,210.41 387.52,210.59 387.62,208.93 387.73,209.79 387.84,209.47 387.94,210.6 388.05,209.02 388.15,211.14 388.26,211.32 388.36,210.6 388.47,212.18 388.57,210.69 388.68,212.95 388.78,211.08 388.89,210.48 388.99,212.2 389.1,210.7 389.21,210.83 389.31,212.08 389.42,210.15 389.52,211.99 389.63,210.43 389.73,211.65 389.84,211.03 389.94,211.17 390.05,211.23 390.15,211.16 390.26,211.54 390.36,210.17 390.47,212.11 390.58,211.95 390.68,212.62 390.79,210.6 390.89,212.59 391,211.2 391.1,211.54 391.21,210.58 391.31,212.11 391.42,211.53 391.52,210.72 391.63,211.46 391.74,210.52 391.84,211.1 391.95,209.7 392.05,209.78 392.16,211.06 392.26,211.42 392.37,209.76 392.47,211.1 392.58,210.48 392.68,209.64 392.79,211.39 392.89,209.17 393,208.48 393.11,209.83 393.21,210.66 393.32,209.12 393.42,209.81 393.53,209.03 393.63,209.99 393.74,209.67 393.84,209.26 393.95,209.78 394.05,209.83 394.16,209.6 394.26,208.06 394.37,209.2 394.48,210.12 394.58,207.77 394.69,208.97 394.79,208.6 394.9,210.33 395,209.45 395.11,209.96 395.21,209.4 395.32,209.61 395.42,209.36 395.53,210.5 395.64,209.58 395.74,210.41 395.85,211.75 395.95,211.7 396.06,210.82 396.16,209.77 396.27,209.36 396.37,210.28 396.48,210.74 396.58,209.73 396.69,210.75 396.79,211.62 396.9,211.13 397.01,212.7 397.11,210.91 397.22,210.71 397.32,210.93 397.43,210.89 397.53,211.78 397.64,212.43 397.74,210.64 397.85,211.72 397.95,211.71 398.06,211.49 398.16,212.72 398.27,211.38 398.38,212.93 398.48,211.7 398.59,212.95 398.69,211.11 398.8,212.28 398.9,212.15 399.01,210.87 399.11,212.13 399.22,212.34 399.32,213.84 399.43,212.7 399.54,211.81 399.64,212.71 399.75,212.76 399.85,211.61 399.96,211.7 400.06,211.95 400.17,210.94 400.27,211.48 400.38,210.71 400.48,211.17 400.59,210.24 400.69,210.76 400.8,210.14" fill="none" stroke="#111" stroke-width="0.6" stroke-linejoin="round"/>
<path d="M434.2 179.6V242.5H539.5" fill="none" stroke="#808080" stroke-width="0.7"/>
<path d="M434.2 179.6h1" stroke="#808080" stroke-width="0.5"/>
<text x="431.9" y="181.3" font-size="5" text-anchor="end">50</text>
<path d="M434.2 211.05h1" stroke="#808080" stroke-width="0.5"/>
<text x="431.9" y="212.75" font-size="5" text-anchor="end">0</text>
<path d="M434.2 242.5h1" stroke="#808080" stroke-width="0.5"/>
<text x="431.9" y="244.2" font-size="5" text-anchor="end">-50</text>
<path d="M434.2 242.5v-1" stroke="#808080" stroke-width="0.5"/>
<path d="M455.26 242.5v-1" stroke="#808080" stroke-width="0.5"/>
<path d="M476.32 242.5v-1" stroke="#808080" stroke-width="0.5"/>
<path d="M497.38 242.5v-1" stroke="#808080" stroke-width="0.5"/>
<path d="M518.44 242.5v-1" stroke="#808080" stroke-width="0.5"/>
<path d="M539.5 242.5v-1" stroke="#808080" stroke-width="0.5"/>
<text x="434.2" y="249.1" font-size="5" text-anchor="middle">0</text>
<text x="455.26" y="249.1" font-size="5" text-anchor="middle">200</text>
<text x="476.32" y="249.1" font-size="5" text-anchor="middle">400</text>
<text x="497.38" y="249.1" font-size="5" text-anchor="middle">600</text>
<text x="518.44" y="249.1" font-size="5" text-anchor="middle">800</text>
<text x="539.5" y="249.1" font-size="5" text-anchor="middle">1000</text>
<text x="486.85" y="255.7" font-size="5.8" text-anchor="middle">Samples</text>
<polyline points="434.2,211.45 434.31,209.81 434.41,210.34 434.52,210.66 434.62,210.25 434.73,212.08 434.83,210.53 434.94,209.96 435.04,209.98 435.15,212.03 435.25,211.55 435.36,210.59 435.46,210.67 435.57,211.41 435.68,210.01 435.78,210.89 435.89,210.94 435.99,211.14 436.1,209.79 436.2,211.65 436.31,209.73 436.41,211 436.52,211 436.62,210.98 436.73,210.48 436.84,210.89 436.94,211.26 437.05,209.95 437.15,210.01 437.26,210.95 437.36,210.77 437.47,209.36 437.57,210.84 437.68,210.33 437.78,211.56 437.89,210.97 437.99,211.35 438.1,210.78 438.21,210.46 438.31,209.75 438.42,211 438.52,210.67 438.63,209.17 438.73,209.89 438.84,210.17 438.94,210.59 439.05,210.73 439.15,211 439.26,208.98 439.36,210.06 439.47,211 439.58,210.52 439.68,210.16 439.79,211.11 439.89,210.04 440,211.14 440.1,210.88 440.21,211.01 440.31,211.68 440.42,210.78 440.52,211.04 440.63,210.15 440.74,209.82 440.84,208.85 440.95,209.93 441.05,210.5 441.16,209.95 441.26,211.33 441.37,210.55 441.47,210.88 441.58,211.5 441.68,210.16 441.79,211.17 441.89,211.69 442,211.58 442.11,211.88 442.21,211.04 442.32,211.87 442.42,211.31 442.53,210.21 442.63,211.44 442.74,210.84 442.84,210.7 442.95,210.74 443.05,210.68 443.16,209.88 443.26,209.76 443.37,210.66 443.48,209.28 443.58,209.61 443.69,210.93 443.79,210.59 443.9,211.43 444,210.87 444.11,209.73 444.21,211.62 444.32,211.51 444.42,211.75 444.53,211.71 444.64,211.1 444.74,210.36 444.85,209.9 444.95,210.34 445.06,209.95 445.16,210.33 445.27,210.48 445.37,209.57 445.48,211.18 445.58,210.44 445.69,210.32 445.79,212.08 445.9,210.79 446.01,210.8 446.11,209.64 446.22,210.99 446.32,209.8 446.43,211.65 446.53,210.47 446.64,209.68 446.74,210.66 446.85,209.2 446.95,209.41 447.06,209.34 447.16,209.48 447.27,208.51 447.38,210.12 447.48,209.53 447.59,209.57 447.69,210.23 447.8,209.19 447.9,209.16 448.01,209.74 448.11,209.01 448.22,208.88 448.32,208.08 448.43,208.79 448.54,209.02 448.64,207.93 448.75,209.42 448.85,209 448.96,208.59 449.06,208.76 449.17,209.09 449.27,208.76 449.38,208.72 449.48,209.57 449.59,208.72 449.69,210.2 449.8,209.52 449.91,207.58 450.01,208.28 450.12,208.47 450.22,209.58 450.33,209.03 450.43,208.52 450.54,208.59 450.64,209.5 450.75,208.53 450.85,209.08 450.96,208.87 451.06,208.26 451.17,209.77 451.28,209.69 451.38,208.34 451.49,209.08 451.59,210.63 451.7,209.1 451.8,210.92 451.91,208.67 452.01,210.1 452.12,208.86 452.22,208.35 452.33,209.2 452.44,209.74 452.54,208.2 452.65,210.84 452.75,209.53 452.86,210.57 452.96,210.91 453.07,209.68 453.17,210.8 453.28,209.18 453.38,210.06 453.49,209.98 453.59,210.96 453.7,209.6 453.81,209.89 453.91,211.91 454.02,210.93 454.12,210.05 454.23,210.69 454.33,212.23 454.44,210.28 454.54,210.64 454.65,210.93 454.75,211.05 454.86,210.86 454.96,210.6 455.07,210.43 455.18,211.17 455.28,210.52 455.39,212.16 455.49,210.37 455.6,209.97 455.7,210.69 455.81,211.18 455.91,211.49 456.02,210.81 456.12,212.14 456.23,212.14 456.34,211.31 456.44,211.12 456.55,210.84 456.65,211.19 456.76,212.13 456.86,211.03 456.97,211.01 457.07,211.01 457.18,210.15 457.28,211.97 457.39,211.22 457.49,210.96 457.6,209.84 457.71,210.61 457.81,210.42 457.92,210.19 458.02,210.68 458.13,210.61 458.23,211.24 458.34,208.99 458.44,210.57 458.55,210.92 458.65,210.74 458.76,210.73 458.86,210.52 458.97,210.93 459.08,210.88 459.18,210.97 459.29,212.05 459.39,209.3 459.5,210.71 459.6,210.22 459.71,210.24 459.81,210.16 459.92,210.4 460.02,210.37 460.13,210.76 460.24,209.32 460.34,211.83 460.45,210.98 460.55,209.55 460.66,210.9 460.76,209.8 460.87,211.25 460.97,210.16 461.08,210.39 461.18,211.67 461.29,209.3 461.39,210.58 461.5,211.22 461.61,210.78 461.71,210.73 461.82,209.76 461.92,210.96 462.03,212.12 462.13,210.69 462.24,211.05 462.34,209.96 462.45,212.28 462.55,210.69 462.66,210.85 462.76,209.82 462.87,210.14 462.98,211.91 463.08,211.42 463.19,211.11 463.29,211.82 463.4,211.93 463.5,209.99 463.61,209.82 463.71,210.54 463.82,211 463.92,211.11 464.03,211.49 464.14,210.48 464.24,211.28 464.35,210.87 464.45,211.67 464.56,211.93 464.66,212.33 464.77,211.84 464.87,211.06 464.98,212.02 465.08,210.79 465.19,212.09 465.29,212.33 465.4,212.07 465.51,212.39 465.61,211.19 465.72,210.8 465.82,210.46 465.93,212.85 466.03,212.11 466.14,212.7 466.24,211.02 466.35,211.1 466.45,211.91 466.56,211.95 466.66,211.21 466.77,211.69 466.88,211.72 466.98,211.73 467.09,211.57 467.19,210.58 467.3,210.8 467.4,210.96 467.51,211.19 467.61,210.49 467.72,211.1 467.82,212.35 467.93,210.97 468.04,211.24 468.14,210.97 468.25,210.49 468.35,211.67 468.46,211.81 468.56,211.37 468.67,212.3 468.77,210.92 468.88,210.03 468.98,210.11 469.09,210.4 469.19,211.88 469.3,211.28 469.41,210.62 469.51,211.17 469.62,210.76 469.72,209.97 469.83,211.05 469.93,211.14 470.04,210.35 470.14,210.57 470.25,209.53 470.35,210.56 470.46,211.17 470.56,211.03 470.67,209.64 470.78,210.37 470.88,210.89 470.99,211.16 471.09,210.56 471.2,210.43 471.3,211.17 471.41,210.82 471.51,210.79 471.62,210.74 471.72,210.87 471.83,210.02 471.94,211.12 472.04,211.13 472.15,211.03 472.25,210.46 472.36,210.77 472.46,210.42 472.57,209.08 472.67,211.27 472.78,209.79 472.88,210.25 472.99,209.59 473.09,210.64 473.2,211.29 473.31,210.08 473.41,211.07 473.52,210.04 473.62,210.53 473.73,209.14 473.83,210.52 473.94,209.67 474.04,211.43 474.15,209.23 474.25,210.93 474.36,211.41 474.46,211.2 474.57,211.61 474.68,210.92 474.78,211.3 474.89,210.52 474.99,210.7 475.1,210.58 475.2,210.92 475.31,209.67 475.41,210.55 475.52,210.7 475.62,210.82 475.73,211.27 475.84,212 475.94,210.97 476.05,211.24 476.15,210.64 476.26,210.74 476.36,211.33 476.47,210.62 476.57,211.35 476.68,211.73 476.78,211.62 476.89,209.98 476.99,211.09 477.1,212.16 477.21,211.99 477.31,211.12 477.42,211.31 477.52,211.78 477.63,211.83 477.73,211.12 477.84,212.76 477.94,213.63 478.05,211.09 478.15,211 478.26,212.83 478.36,212.53 478.47,212.12 478.58,211.78 478.68,211.68 478.79,213.12 478.89,212.02 479,212.25 479.1,212.27 479.21,212.88 479.31,212.05 479.42,211.15 479.52,213.31 479.63,212.24 479.74,213.55 479.84,212.83 479.95,211.26 480.05,213.03 480.16,212.46 480.26,212.91 480.37,213.85 480.47,213.92 480.58,212.65 480.68,213.91 480.79,212.6 480.89,213.62 481,212.18 481.11,212.64 481.21,213.07 481.32,213.57 481.42,214.12 481.53,212.77 481.63,214.58 481.74,213.83 481.84,213.55 481.95,214.08 482.05,214.16 482.16,212.76 482.26,213.13 482.37,213.34 482.48,214.22 482.58,214.03 482.69,213.73 482.79,212.15 482.9,213.07 483,212.15 483.11,212.75 483.21,213.61 483.32,212.95 483.42,211.44 483.53,212.27 483.64,210.86 483.74,212.23 483.85,210.19 483.95,212.3 484.06,212.18 484.16,212.44 484.27,211.9 484.37,211.14 484.48,211.93 484.58,211.68 484.69,210.98 484.79,210.56 484.9,211.13 485.01,211.36 485.11,211.13 485.22,211.01 485.32,211.23 485.43,211.21 485.53,209.16 485.64,209.97 485.74,210.58 485.85,209.92 485.95,209.72 486.06,210.03 486.16,208.97 486.27,208.64 486.38,209.02 486.48,209.58 486.59,208.54 486.69,208.47 486.8,209.52 486.9,208.59 487.01,209.03 487.11,210.09 487.22,208.45 487.32,207.3 487.43,208.21 487.54,208.34 487.64,207.77 487.75,208.89 487.85,208.03 487.96,209 488.06,206.84 488.17,207.62 488.27,208.41 488.38,207.56 488.48,207.48 488.59,206.77 488.69,208.14 488.8,208.5 488.91,208.5 489.01,206.76 489.12,208.54 489.22,208.15 489.33,205.64 489.43,206.7 489.54,208.66 489.64,207 489.75,207.21 489.85,205.73 489.96,206.54 490.06,208.15 490.17,207.8 490.28,207.3 490.38,207.08 490.49,207.35 490.59,206.24 490.7,206.98 490.8,208.23 490.91,206.18 491.01,206.95 491.12,206.88 491.22,206.66 491.33,206.41 491.44,206.7 491.54,207.39 491.65,208.12 491.75,208.94 491.86,208.2 491.96,209.68 492.07,208.95 492.17,209.23 492.28,209.43 492.38,210.14 492.49,211.86 492.59,212.58 492.7,211.12 492.81,212.94 492.91,211.64 493.02,213.56 493.12,213.3 493.23,214.59 493.33,213.8 493.44,212.36 493.54,212.84 493.65,212.95 493.75,212.34 493.86,212.49 493.96,213.81 494.07,212.32 494.18,212.18 494.28,212.33 494.39,213.91 494.49,211.55 494.6,213.15 494.7,212.64 494.81,211.83 494.91,211.78 495.02,211.73 495.12,211.53 495.23,211.16 495.34,211.63 495.44,212.21 495.55,211.68 495.65,212.61 495.76,213.82 495.86,213.28 495.97,213.47 496.07,213.62 496.18,213.44 496.28,214.75 496.39,214.82 496.49,214.73 496.6,214.88 496.71,215.43 496.81,217.03 496.92,215.36 497.02,215.94 497.13,216.67 497.23,215.67 497.34,214.44 497.44,215.34 497.55,214.51 497.65,215.2 497.76,215.76 497.86,214.53 497.97,214.74 498.08,214.5 498.18,214.76 498.29,215.03 498.39,214.19 498.5,213.96 498.6,213.18 498.71,212.87 498.81,213.4 498.92,213.64 499.02,212.57 499.13,211.87 499.24,212.22 499.34,213.34 499.45,210.69 499.55,212.14 499.66,211.95 499.76,210.32 499.87,210.26 499.97,210.53 500.08,210.11 500.18,209.64 500.29,210.01 500.39,208.5 500.5,208.95 500.61,209.24 500.71,210.09 500.82,209.23 500.92,209.3 501.03,210.09 501.13,211.91 501.24,211.43 501.34,211.99 501.45,210.84 501.55,211.34 501.66,208.29 501.76,208.63 501.87,208.51 501.98,205.91 502.08,206.14 502.19,204.84 502.29,204.21 502.4,203.82 502.5,202.43 502.61,202.06 502.71,203.07 502.82,202.46 502.92,203.37 503.03,203.97 503.14,204.42 503.24,206.11 503.35,206.33 503.45,206.87 503.56,207.74 503.66,209.23 503.77,209.37 503.87,209.99 503.98,212.17 504.08,210.28 504.19,210.89 504.29,212.19 504.4,211.95 504.51,213.41 504.61,214.4 504.72,214.4 504.82,214.14 504.93,215.03 505.03,216.27 505.14,214.83 505.24,215.63 505.35,217.19 505.45,216.61 505.56,218.9 505.66,217.55 505.77,215 505.88,213.89 505.98,211.34 506.09,210.49 506.19,207.46 506.3,206.97 506.4,206.59 506.51,203.28 506.61,201.72 506.72,201.16 506.82,200.29 506.93,196.2 507.04,195.43 507.14,195.86 507.25,198.79 507.35,199.34 507.46,201.04 507.56,202.09 507.67,202.57 507.77,202.99 507.88,203.5 507.98,204.88 508.09,205.32 508.19,206.63 508.3,207.56 508.41,209.17 508.51,209.14 508.62,210.28 508.72,210.25 508.83,211.81 508.93,211.1 509.04,209.44 509.14,209.83 509.25,209.34 509.35,208.14 509.46,208.15 509.56,208.05 509.67,208.42 509.78,208.59 509.88,207.55 509.99,207.03 510.09,206.49 510.2,206.8 510.3,206.87 510.41,207.47 510.51,205.57 510.62,205.65 510.72,204.03 510.83,204.96 510.94,205.57 511.04,205.25 511.15,204.51 511.25,202.83 511.36,204.59 511.46,201.17 511.57,202.51 511.67,201.67 511.78,203.91 511.88,203.91 511.99,205.51 512.09,205.88 512.2,206.74 512.31,207.74 512.41,206.93 512.52,211.12 512.62,210.95 512.73,213.02 512.83,214.48 512.94,214.38 513.04,215.19 513.15,216.02 513.25,216.88 513.36,218.23 513.46,218.22 513.57,217.26 513.68,218.37 513.78,217.94 513.89,218.71 513.99,218.09 514.1,220.09 514.2,219.7 514.31,219.25 514.41,219.7 514.52,221.73 514.62,220.9 514.73,220.92 514.84,222.36 514.94,222.94 515.05,221.82 515.15,223.64 515.26,223.31 515.36,223.77 515.47,222.78 515.57,223.94 515.68,223.38 515.78,224.09 515.89,221.91 515.99,222.82 516.1,222.13 516.21,222.65 516.31,222.84 516.42,221.22 516.52,220.91 516.63,221.81 516.73,220.55 516.84,221.62 516.94,220.42 517.05,220.4 517.15,221.12 517.26,219.14 517.36,219.41 517.47,220.54 517.58,219.39 517.68,218.92 517.79,220.26 517.89,219.44 518,219.02 518.1,220.77 518.21,218.92 518.31,219.68 518.42,218.89 518.52,220.61 518.63,220.42 518.74,220.18 518.84,220.04 518.95,220.15 519.05,220.79 519.16,219.47 519.26,220.52 519.37,221.19 519.47,221.89 519.58,221.51 519.68,221.19 519.79,220.53 519.89,220.94 520,220.96 520.11,222.51 520.21,221.19 520.32,220.52 520.42,220.09 520.53,218.78 520.63,218.76 520.74,217.59 520.84,217.88 520.95,217.8 521.05,215.66 521.16,215.43 521.26,214.96 521.37,215.5 521.48,214.79 521.58,213.72 521.69,212.58 521.79,212.24 521.9,210.96 522,210.94 522.11,209.65 522.21,210.96 522.32,209.27 522.42,210.61 522.53,211.41 522.64,210.76 522.74,212.41 522.85,211.01 522.95,211.05 523.06,211.09 523.16,212.22 523.27,211.93 523.37,211.61 523.48,212.6 523.58,212.39 523.69,211.44 523.79,211.9 523.9,212.94 524.01,213.95 524.11,212.78 524.22,212.66 524.32,212.15 524.43,211.25 524.53,210.79 524.64,211.36 524.74,211.09 524.85,210.73 524.95,210.5 525.06,209.84 525.16,208.69 525.27,207.23 525.38,208.59 525.48,206.75 525.59,206.63 525.69,206.81 525.8,205.8 525.9,205.55 526.01,204.95 526.11,204.17 526.22,204.21 526.32,203.72 526.43,201.74 526.54,202.14 526.64,202.3 526.75,201.26 526.85,199.28 526.96,199.62 527.06,198.18 527.17,200.02 527.27,197.29 527.38,197.52 527.48,196.66 527.59,194.89 527.69,196.49 527.8,195.94 527.91,196.93 528.01,194.56 528.12,196.66 528.22,196 528.33,197.68 528.43,195.33 528.54,195.3 528.64,197.32 528.75,197.44 528.85,197.13 528.96,197.15 529.06,196.46 529.17,196.37 529.28,196.45 529.38,197.57 529.49,196.5 529.59,198.38 529.7,197.86 529.8,198.19 529.91,196.45 530.01,198.16 530.12,199.28 530.22,197.98 530.33,198.89 530.44,199.3 530.54,198.73 530.65,200.54 530.75,199.56 530.86,200.26 530.96,200.29 531.07,200.09 531.17,200.28 531.28,201.1 531.38,200.74 531.49,201.54 531.59,201.16 531.7,201.74 531.81,201.03 531.91,201.54 532.02,201.99 532.12,203.16 532.23,201.56 532.33,203.39 532.44,202.89 532.54,203.08 532.65,205.03 532.75,204.71 532.86,203.35 532.96,204.14 533.07,203.97 533.18,204.46 533.28,204.99 533.39,205.18 533.49,204.67 533.6,205.85 533.7,204.7 533.81,206.03 533.91,206.39 534.02,204.91 534.12,205.91 534.23,206.66 534.34,204.98 534.44,207.43 534.55,208 534.65,208.09 534.76,206.58 534.86,207.9 534.97,207.98 535.07,208.31 535.18,209.63 535.28,209.48 535.39,206.98 535.49,208.92 535.6,209.58 535.71,206.76 535.81,209.23 535.92,208.87 536.02,209.22 536.13,209.66 536.23,210.11 536.34,208.79 536.44,210.76 536.55,209.38 536.65,209.64 536.76,210.36 536.86,210.21 536.97,211.09 537.08,211.51 537.18,210.6 537.29,211.25 537.39,213.04 537.5,213.47 537.6,213.29 537.71,213.92 537.81,214.54 537.92,214.86 538.02,214.22 538.13,216.19 538.24,215.84 538.34,217.87 538.45,218.11 538.55,217.74 538.66,218.42 538.76,217.88 538.87,217.12 538.97,216.48 539.08,216.73 539.18,216.96 539.29,216.63 539.39,214.65 539.5,214.27" fill="none" stroke="#111" stroke-width="0.6" stroke-linejoin="round"/>
<text x="115.7" y="15" font-size="6.8" text-anchor="middle" style="stroke:#333;stroke-width:0.3px;fill:#333">A</text>
<text x="253.2" y="16" font-size="6.8" text-anchor="middle" style="stroke:#333;stroke-width:0.3px;fill:#333">B</text>
<text x="389.4" y="15" font-size="6.8" text-anchor="middle" style="stroke:#333;stroke-width:0.3px;fill:#333">C</text>
<text x="528.5" y="16" font-size="6.8" text-anchor="middle" style="stroke:#333;stroke-width:0.3px;fill:#333">D</text>
<text x="111.5" y="189.9" font-size="6.8" text-anchor="middle" style="stroke:#333;stroke-width:0.3px;fill:#333">I</text>
<text x="250.4" y="187.6" font-size="6.8" text-anchor="middle" style="stroke:#333;stroke-width:0.3px;fill:#333">J</text>
<text x="389.4" y="189.2" font-size="6.8" text-anchor="middle" style="stroke:#333;stroke-width:0.3px;fill:#333">K</text>
<text x="528.5" y="189" font-size="6.8" text-anchor="middle" style="stroke:#333;stroke-width:0.3px;fill:#333">L</text>
<rect x="19.00" y="92.00" width="104.90" height="63.20" fill="url(#zbg)"/><svg x="19.00" y="92.00" width="104.90" height="63.20" overflow="hidden"><g filter="url(#sblur)"><defs><linearGradient id="mt19"><stop offset="0.0000" stop-color="#201515"/><stop offset="0.0071" stop-color="#724a4a"/><stop offset="0.0166" stop-color="#1a1111"/><stop offset="0.0240" stop-color="#6d4747"/><stop offset="0.0331" stop-color="#2c1d1d"/><stop offset="0.0414" stop-color="#754c4c"/><stop offset="0.0503" stop-color="#170f0f"/><stop offset="0.0564" stop-color="#563838"/><stop offset="0.0645" stop-color="#120c0c"/><stop offset="0.0707" stop-color="#5c3c3c"/><stop offset="0.0764" stop-color="#271a1a"/><stop offset="0.0827" stop-color="#6e4848"/><stop offset="0.0928" stop-color="#181010"/><stop offset="0.1003" stop-color="#5b3b3b"/><stop offset="0.1066" stop-color="#261919"/><stop offset="0.1117" stop-color="#784f4f"/><stop offset="0.1187" stop-color="#2a1c1c"/><stop offset="0.1280" stop-color="#583a3a"/><stop offset="0.1357" stop-color="#201515"/><stop offset="0.1415" stop-color="#5f3f3f"/><stop offset="0.1491" stop-color="#1f1414"/><stop offset="0.1552" stop-color="#6c4747"/><stop offset="0.1635" stop-color="#211616"/><stop offset="0.1684" stop-color="#764d4d"/><stop offset="0.1760" stop-color="#1d1313"/><stop offset="0.1817" stop-color="#613f3f"/><stop offset="0.1902" stop-color="#1d1313"/><stop offset="0.1994" stop-color="#674444"/><stop offset="0.2069" stop-color="#291b1b"/><stop offset="0.2155" stop-color="#784e4e"/><stop offset="0.2253" stop-color="#221616"/><stop offset="0.2340" stop-color="#5b3c3c"/><stop offset="0.2402" stop-color="#030202"/><stop offset="0.2482" stop-color="#724b4b"/><stop offset="0.2548" stop-color="#271a1a"/><stop offset="0.2608" stop-color="#744c4c"/><stop offset="0.2673" stop-color="#181010"/><stop offset="0.2735" stop-color="#674444"/><stop offset="0.2829" stop-color="#201515"/><stop offset="0.2916" stop-color="#583a3a"/><stop offset="0.3004" stop-color="#0c0808"/><stop offset="0.3055" stop-color="#664343"/><stop offset="0.3154" stop-color="#251818"/><stop offset="0.3236" stop-color="#5d3d3d"/><stop offset="0.3338" stop-color="#2b1c1c"/><stop offset="0.3412" stop-color="#734b4b"/><stop offset="0.3494" stop-color="#291b1b"/><stop offset="0.3562" stop-color="#6b4646"/><stop offset="0.3631" stop-color="#251818"/><stop offset="0.3704" stop-color="#724b4b"/><stop offset="0.3807" stop-color="#2a1c1c"/><stop offset="0.3886" stop-color="#6f4949"/><stop offset="0.3949" stop-color="#050303"/><stop offset="0.4005" stop-color="#6b4646"/><stop offset="0.4078" stop-color="#1b1111"/><stop offset="0.4138" stop-color="#6c4747"/><stop offset="0.4206" stop-color="#181010"/><stop offset="0.4254" stop-color="#754c4c"/><stop offset="0.4325" stop-color="#271a1a"/><stop offset="0.4384" stop-color="#6d4747"/><stop offset="0.4468" stop-color="#1b1111"/><stop offset="0.4543" stop-color="#6b4646"/><stop offset="0.4613" stop-color="#1f1414"/><stop offset="0.4667" stop-color="#774e4e"/><stop offset="0.4730" stop-color="#090606"/><stop offset="0.4806" stop-color="#674444"/><stop offset="0.4875" stop-color="#120c0c"/><stop offset="0.4962" stop-color="#694545"/><stop offset="0.5044" stop-color="#1d1313"/><stop offset="0.5137" stop-color="#593a3a"/><stop offset="0.5211" stop-color="#1a1111"/><stop offset="0.5275" stop-color="#704949"/><stop offset="0.5375" stop-color="#251818"/><stop offset="0.5432" stop-color="#5c3c3c"/><stop offset="0.5515" stop-color="#251818"/><stop offset="0.5589" stop-color="#664343"/><stop offset="0.5678" stop-color="#1f1414"/><stop offset="0.5734" stop-color="#5e3d3d"/><stop offset="0.5808" stop-color="#191010"/><stop offset="0.5867" stop-color="#734c4c"/><stop offset="0.5932" stop-color="#030202"/><stop offset="0.6008" stop-color="#6e4848"/><stop offset="0.6082" stop-color="#1d1313"/><stop offset="0.6147" stop-color="#644242"/><stop offset="0.6215" stop-color="#2d1d1d"/><stop offset="0.6289" stop-color="#6c4747"/><stop offset="0.6361" stop-color="#2a1c1c"/><stop offset="0.6414" stop-color="#5a3b3b"/><stop offset="0.6484" stop-color="#1f1414"/><stop offset="0.6558" stop-color="#644242"/><stop offset="0.6623" stop-color="#2b1c1c"/><stop offset="0.6691" stop-color="#684444"/><stop offset="0.6785" stop-color="#1e1313"/><stop offset="0.6839" stop-color="#624040"/><stop offset="0.6901" stop-color="#291b1b"/><stop offset="0.6952" stop-color="#5a3b3b"/><stop offset="0.7025" stop-color="#241818"/><stop offset="0.7082" stop-color="#6c4646"/><stop offset="0.7160" stop-color="#271a1a"/><stop offset="0.7219" stop-color="#5c3c3c"/><stop offset="0.7279" stop-color="#251818"/><stop offset="0.7372" stop-color="#563838"/><stop offset="0.7440" stop-color="#191010"/><stop offset="0.7512" stop-color="#603f3f"/><stop offset="0.7592" stop-color="#241818"/><stop offset="0.7642" stop-color="#6b4646"/><stop offset="0.7719" stop-color="#080505"/><stop offset="0.7771" stop-color="#654242"/><stop offset="0.7840" stop-color="#2a1c1c"/><stop offset="0.7895" stop-color="#764d4d"/><stop offset="0.7968" stop-color="#2c1c1c"/><stop offset="0.8028" stop-color="#6f4949"/><stop offset="0.8112" stop-color="#271a1a"/><stop offset="0.8167" stop-color="#603f3f"/><stop offset="0.8259" stop-color="#181010"/><stop offset="0.8344" stop-color="#614040"/><stop offset="0.8438" stop-color="#0d0808"/><stop offset="0.8523" stop-color="#674343"/><stop offset="0.8590" stop-color="#241717"/><stop offset="0.8668" stop-color="#6b4646"/><stop offset="0.8728" stop-color="#170f0f"/><stop offset="0.8808" stop-color="#573939"/><stop offset="0.8890" stop-color="#1f1414"/><stop offset="0.8950" stop-color="#714a4a"/><stop offset="0.9029" stop-color="#1d1313"/><stop offset="0.9097" stop-color="#654242"/><stop offset="0.9177" stop-color="#1e1414"/><stop offset="0.9268" stop-color="#5a3b3b"/><stop offset="0.9352" stop-color="#231717"/><stop offset="0.9419" stop-color="#654242"/><stop offset="0.9486" stop-color="#130c0c"/><stop offset="0.9565" stop-color="#5a3b3b"/><stop offset="0.9657" stop-color="#241818"/><stop offset="0.9709" stop-color="#744c4c"/><stop offset="0.9793" stop-color="#201515"/><stop offset="0.9851" stop-color="#583a3a"/><stop offset="0.9930" stop-color="#2c1d1d"/><stop offset="0.9985" stop-color="#714a4a"/></linearGradient><linearGradient id="mt19v" x1="0" y1="0" x2="0" y2="1"><stop offset="0" stop-color="#fff" stop-opacity="0"/><stop offset="0.45" stop-color="#fff" stop-opacity="0.50"/><stop offset="0.7" stop-color="#fff" stop-opacity="0.50"/><stop offset="1" stop-color="#fff" stop-opacity="0"/></linearGradient><mask id="mt19m" maskContentUnits="objectBoundingBox"><rect width="1" height="1" fill="url(#mt19v)"/></mask></defs><rect x="0" y="12.64" width="104.90" height="47.40" fill="url(#mt19)" mask="url(#mt19m)"/><polygon points="66.81,0 68.69,0 68.03,37.92 67.47,37.92" fill="url(#zc5)" mask="url(#zmn)"/><polygon points="70.14,0 74.76,0 73.14,37.92 71.76,37.92" fill="url(#zc6)" mask="url(#zmn)"/><polygon points="87.22,0 88.97,0 89.41,63.20 86.79,63.20" fill="url(#zc6)" mask="url(#zmn)"/><polygon points="1.24,0 3.86,0 4.52,63.20 0.58,63.20" fill="url(#zc7)" mask="url(#zmn)"/><polygon points="5.33,0 7.07,0 7.51,63.20 4.89,63.20" fill="url(#zc7)" mask="url(#zmn)"/><polygon points="90.42,0 92.17,0 92.61,63.20 89.99,63.20" fill="url(#zc7)" mask="url(#zmn)"/><polygon points="8.42,0 11.17,0 11.86,63.20 7.74,63.20" fill="url(#zc8)" mask="url(#zmn)"/><polygon points="24.92,0 26.67,0 27.11,63.20 24.49,63.20" fill="url(#zc8)" mask="url(#zmn)"/><polygon points="75.50,0 85.50,0 82.00,37.92 79.00,37.92" fill="url(#zc8)" mask="url(#zmn)"/><polygon points="27.59,0 31.71,0 32.74,63.20 26.56,63.20" fill="url(#zc9)" mask="url(#zmn)"/><polygon points="35.92,0 40.67,0 41.86,63.20 34.74,63.20" fill="url(#zc9)" mask="url(#zmn)"/><polygon points="12.34,0 15.96,0 16.87,63.20 11.43,63.20" fill="url(#zc10)" mask="url(#zmn)"/><polygon points="56.49,0 66.11,0 68.52,63.20 54.08,63.20" fill="url(#zc10)" mask="url(#zmn)"/><polygon points="93.12,0 96.88,0 97.81,63.20 92.19,63.20" fill="url(#zc10)" mask="url(#zmn)"/><polygon points="97.99,0 101.11,0 101.89,63.20 97.21,63.20" fill="url(#zc10)" mask="url(#zmn)"/><polygon points="102.32,0 105.07,0 105.76,63.20 101.64,63.20" fill="url(#zc10)" mask="url(#zmn)"/><polygon points="17.39,0 21.51,0 22.54,63.20 16.36,63.20" fill="url(#zc11)" mask="url(#zmn)"/><polygon points="42.88,0 49.12,0 50.69,63.20 41.31,63.20" fill="url(#zc12)" mask="url(#zmn)"/><polygon points="56.01,0 66.59,0 64.67,41.08 57.93,41.08" fill="url(#zc13)" mask="url(#zms)"/><polygon points="48.64,0 57.26,0 53.78,63.20 52.12,63.20" fill="url(#zc14)" mask="url(#zmn)"/><polygon points="49.80,0 56.20,0 53.50,63.20 52.30,63.20" fill="url(#zc25)" mask="url(#zms)"/><polygon points="56.49,0 66.11,0 64.19,31.60 58.41,31.60" fill="url(#zc19)" mask="url(#zms)"/><polygon points="49.64,0 56.27,0 53.78,63.20 52.12,63.20" fill="url(#zc42)" mask="url(#zms)"/></g></svg><rect x="19.00" y="92.00" width="104.90" height="0.9" fill="#1a0d0d" opacity="0.85"/><rect x="19.00" y="153.80" width="104.90" height="1.4" fill="#0a0505" opacity="0.9"/>
<text x="16.7" y="94.6" font-size="5" text-anchor="end">40</text>
<text x="16.7" y="156.9" font-size="5" text-anchor="end">1</text>
<text x="40.06" y="161.8" font-size="5" text-anchor="middle">200</text>
<text x="61.12" y="161.8" font-size="5" text-anchor="middle">400</text>
<text x="82.18" y="161.8" font-size="5" text-anchor="middle">600</text>
<text x="103.24" y="161.8" font-size="5" text-anchor="middle">800</text>
<text x="124.3" y="161.8" font-size="5" text-anchor="middle">1000</text>
<text x="71.65" y="168.4" font-size="5.8" text-anchor="middle">Samples</text>
<rect x="157.30" y="92.00" width="104.90" height="63.20" fill="url(#zbg)"/><svg x="157.30" y="92.00" width="104.90" height="63.20" overflow="hidden"><g filter="url(#sblur)"><defs><linearGradient id="mt157"><stop offset="0.0000" stop-color="#1b1212"/><stop offset="0.0095" stop-color="#684444"/><stop offset="0.0161" stop-color="#2c1d1d"/><stop offset="0.0239" stop-color="#5f3e3e"/><stop offset="0.0341" stop-color="#261919"/><stop offset="0.0429" stop-color="#624040"/><stop offset="0.0492" stop-color="#291b1b"/><stop offset="0.0552" stop-color="#714a4a"/><stop offset="0.0634" stop-color="#281a1a"/><stop offset="0.0691" stop-color="#664242"/><stop offset="0.0763" stop-color="#2d1d1d"/><stop offset="0.0840" stop-color="#684444"/><stop offset="0.0899" stop-color="#2c1d1d"/><stop offset="0.0985" stop-color="#614040"/><stop offset="0.1051" stop-color="#070505"/><stop offset="0.1146" stop-color="#734b4b"/><stop offset="0.1217" stop-color="#2a1b1b"/><stop offset="0.1272" stop-color="#6f4848"/><stop offset="0.1356" stop-color="#1e1414"/><stop offset="0.1431" stop-color="#664343"/><stop offset="0.1510" stop-color="#130c0c"/><stop offset="0.1564" stop-color="#5a3b3b"/><stop offset="0.1656" stop-color="#1b1212"/><stop offset="0.1719" stop-color="#6e4848"/><stop offset="0.1789" stop-color="#191010"/><stop offset="0.1856" stop-color="#774e4e"/><stop offset="0.1935" stop-color="#1f1414"/><stop offset="0.1999" stop-color="#5e3e3e"/><stop offset="0.2097" stop-color="#2b1c1c"/><stop offset="0.2168" stop-color="#6f4949"/><stop offset="0.2250" stop-color="#150d0d"/><stop offset="0.2316" stop-color="#654242"/><stop offset="0.2390" stop-color="#231717"/><stop offset="0.2459" stop-color="#674444"/><stop offset="0.2561" stop-color="#2c1d1d"/><stop offset="0.2622" stop-color="#784e4e"/><stop offset="0.2703" stop-color="#1f1414"/><stop offset="0.2778" stop-color="#714a4a"/><stop offset="0.2872" stop-color="#0e0909"/><stop offset="0.2922" stop-color="#5b3b3b"/><stop offset="0.3011" stop-color="#1a1111"/><stop offset="0.3061" stop-color="#784f4f"/><stop offset="0.3152" stop-color="#221616"/><stop offset="0.3215" stop-color="#754d4d"/><stop offset="0.3273" stop-color="#1b1212"/><stop offset="0.3344" stop-color="#694545"/><stop offset="0.3442" stop-color="#0f0a0a"/><stop offset="0.3524" stop-color="#6d4747"/><stop offset="0.3622" stop-color="#2b1c1c"/><stop offset="0.3707" stop-color="#794f4f"/><stop offset="0.3805" stop-color="#221616"/><stop offset="0.3882" stop-color="#5b3c3c"/><stop offset="0.3980" stop-color="#191010"/><stop offset="0.4054" stop-color="#5a3b3b"/><stop offset="0.4158" stop-color="#2b1c1c"/><stop offset="0.4210" stop-color="#704a4a"/><stop offset="0.4305" stop-color="#281a1a"/><stop offset="0.4394" stop-color="#6a4545"/><stop offset="0.4496" stop-color="#1e1313"/><stop offset="0.4575" stop-color="#634141"/><stop offset="0.4662" stop-color="#160e0e"/><stop offset="0.4719" stop-color="#7d5252"/><stop offset="0.4814" stop-color="#1d1313"/><stop offset="0.4875" stop-color="#684444"/><stop offset="0.4934" stop-color="#2b1c1c"/><stop offset="0.5011" stop-color="#6b4646"/><stop offset="0.5087" stop-color="#1b1111"/><stop offset="0.5140" stop-color="#603f3f"/><stop offset="0.5223" stop-color="#160e0e"/><stop offset="0.5276" stop-color="#734b4b"/><stop offset="0.5355" stop-color="#221616"/><stop offset="0.5443" stop-color="#684444"/><stop offset="0.5513" stop-color="#0e0909"/><stop offset="0.5587" stop-color="#5f3f3f"/><stop offset="0.5668" stop-color="#211616"/><stop offset="0.5725" stop-color="#644242"/><stop offset="0.5820" stop-color="#1c1212"/><stop offset="0.5891" stop-color="#7b5151"/><stop offset="0.5956" stop-color="#050303"/><stop offset="0.6033" stop-color="#734b4b"/><stop offset="0.6131" stop-color="#150e0e"/><stop offset="0.6180" stop-color="#794f4f"/><stop offset="0.6255" stop-color="#1e1414"/><stop offset="0.6325" stop-color="#764d4d"/><stop offset="0.6404" stop-color="#251818"/><stop offset="0.6462" stop-color="#774e4e"/><stop offset="0.6563" stop-color="#0a0707"/><stop offset="0.6623" stop-color="#774e4e"/><stop offset="0.6682" stop-color="#1e1313"/><stop offset="0.6738" stop-color="#5c3c3c"/><stop offset="0.6797" stop-color="#1e1414"/><stop offset="0.6847" stop-color="#794f4f"/><stop offset="0.6914" stop-color="#221616"/><stop offset="0.6973" stop-color="#5e3d3d"/><stop offset="0.7043" stop-color="#211616"/><stop offset="0.7136" stop-color="#5e3e3e"/><stop offset="0.7226" stop-color="#271a1a"/><stop offset="0.7282" stop-color="#764d4d"/><stop offset="0.7374" stop-color="#231717"/><stop offset="0.7426" stop-color="#724b4b"/><stop offset="0.7501" stop-color="#291b1b"/><stop offset="0.7554" stop-color="#7d5252"/><stop offset="0.7641" stop-color="#271919"/><stop offset="0.7709" stop-color="#634141"/><stop offset="0.7788" stop-color="#2b1c1c"/><stop offset="0.7839" stop-color="#784f4f"/><stop offset="0.7898" stop-color="#181010"/><stop offset="0.7977" stop-color="#614040"/><stop offset="0.8060" stop-color="#181010"/><stop offset="0.8119" stop-color="#7c5151"/><stop offset="0.8176" stop-color="#251818"/><stop offset="0.8258" stop-color="#704949"/><stop offset="0.8318" stop-color="#271919"/><stop offset="0.8398" stop-color="#634141"/><stop offset="0.8470" stop-color="#221616"/><stop offset="0.8548" stop-color="#664343"/><stop offset="0.8606" stop-color="#291b1b"/><stop offset="0.8659" stop-color="#603f3f"/><stop offset="0.8734" stop-color="#180f0f"/><stop offset="0.8810" stop-color="#694545"/><stop offset="0.8912" stop-color="#191010"/><stop offset="0.8964" stop-color="#774e4e"/><stop offset="0.9063" stop-color="#2c1d1d"/><stop offset="0.9133" stop-color="#6a4545"/><stop offset="0.9231" stop-color="#060404"/><stop offset="0.9322" stop-color="#5c3c3c"/><stop offset="0.9397" stop-color="#130d0d"/><stop offset="0.9491" stop-color="#6e4848"/><stop offset="0.9581" stop-color="#181010"/><stop offset="0.9662" stop-color="#634141"/><stop offset="0.9733" stop-color="#241818"/><stop offset="0.9794" stop-color="#774e4e"/><stop offset="0.9858" stop-color="#231717"/><stop offset="0.9942" stop-color="#613f3f"/></linearGradient><linearGradient id="mt157v" x1="0" y1="0" x2="0" y2="1"><stop offset="0" stop-color="#fff" stop-opacity="0"/><stop offset="0.45" stop-color="#fff" stop-opacity="0.50"/><stop offset="0.7" stop-color="#fff" stop-opacity="0.50"/><stop offset="1" stop-color="#fff" stop-opacity="0"/></linearGradient><mask id="mt157m" maskContentUnits="objectBoundingBox"><rect width="1" height="1" fill="url(#mt157v)"/></mask></defs><rect x="0" y="12.64" width="104.90" height="47.40" fill="url(#mt157)" mask="url(#mt157m)"/><polygon points="78.85,0 83.95,0 82.16,47.40 80.63,47.40" fill="url(#zc5)" mask="url(#zmn)"/><polygon points="84.27,0 88.02,0 86.71,47.40 85.59,47.40" fill="url(#zc5)" mask="url(#zmn)"/><polygon points="94.57,0 106.12,0 102.08,47.40 98.62,47.40" fill="url(#zc5)" mask="url(#zmn)"/><polygon points="30.85,0 43.15,0 38.85,41.08 35.15,41.08" fill="url(#zc6)" mask="url(#zmn)"/><polygon points="87.55,0 95.65,0 92.81,47.40 90.38,47.40" fill="url(#zc6)" mask="url(#zmn)"/><polygon points="0.07,0 5.02,0 4.53,63.20 0.57,63.20" fill="url(#zc6)" mask="url(#zmn)"/><polygon points="61.57,0 80.32,0 73.76,47.40 68.14,47.40" fill="url(#zc6)" mask="url(#zmn)"/><polygon points="5.20,0 10.00,0 9.52,63.20 5.68,63.20" fill="url(#zc8)" mask="url(#zmn)"/><polygon points="10.10,0 16.10,0 15.50,63.20 10.70,63.20" fill="url(#zc8)" mask="url(#zmn)"/><polygon points="16.25,0 21.84,0 21.29,63.20 16.81,63.20" fill="url(#zc10)" mask="url(#zmn)"/><polygon points="22.46,0 28.04,0 27.49,63.20 23.01,63.20" fill="url(#zc10)" mask="url(#zmn)"/><polygon points="55.40,0 60.60,0 60.08,63.20 55.92,63.20" fill="url(#zc10)" mask="url(#zmn)"/><polygon points="15.98,0 22.12,0 21.01,53.40 17.09,53.40" fill="url(#zc13)" mask="url(#zms)"/><polygon points="22.18,0 28.32,0 27.21,53.40 23.29,53.40" fill="url(#zc13)" mask="url(#zms)"/><polygon points="41.72,0 50.57,0 49.69,63.20 42.61,63.20" fill="url(#zc13)" mask="url(#zmn)"/><polygon points="55.14,0 60.86,0 59.82,57.51 56.18,57.51" fill="url(#zc13)" mask="url(#zms)"/><polygon points="49.22,0 55.48,0 52.95,63.20 51.75,63.20" fill="url(#zc14)" mask="url(#zmn)"/><polygon points="59.45,0 62.75,0 62.42,63.20 59.78,63.20" fill="url(#zc15)" mask="url(#zmn)"/><polygon points="48.70,0 61.70,0 53.10,63.20 51.50,63.20" fill="url(#zc25)" mask="url(#zmq)"/><polygon points="16.25,0 21.84,0 20.73,41.08 17.37,41.08" fill="url(#zc22)" mask="url(#zms)"/><polygon points="22.46,0 28.04,0 26.93,41.08 23.57,41.08" fill="url(#zc22)" mask="url(#zms)"/><polygon points="55.40,0 60.60,0 59.56,44.24 56.44,44.24" fill="url(#zc32)" mask="url(#zms)"/><polygon points="49.95,0 54.75,0 52.95,63.20 51.75,63.20" fill="url(#zc45)" mask="url(#zms)"/></g></svg><rect x="157.30" y="92.00" width="104.90" height="0.9" fill="#1a0d0d" opacity="0.85"/><rect x="157.30" y="153.80" width="104.90" height="1.4" fill="#0a0505" opacity="0.9"/>
<text x="155" y="94.6" font-size="5" text-anchor="end">40</text>
<text x="155" y="156.9" font-size="5" text-anchor="end">1</text>
<text x="178.36" y="161.8" font-size="5" text-anchor="middle">200</text>
<text x="199.42" y="161.8" font-size="5" text-anchor="middle">400</text>
<text x="220.48" y="161.8" font-size="5" text-anchor="middle">600</text>
<text x="241.54" y="161.8" font-size="5" text-anchor="middle">800</text>
<text x="262.6" y="161.8" font-size="5" text-anchor="middle">1000</text>
<text x="209.95" y="168.4" font-size="5.8" text-anchor="middle">Samples</text>
<rect x="295.50" y="92.00" width="104.90" height="63.20" fill="url(#zbg)"/><svg x="295.50" y="92.00" width="104.90" height="63.20" overflow="hidden"><g filter="url(#sblur)"><defs><linearGradient id="mt295"><stop offset="0.0000" stop-color="#281a1a"/><stop offset="0.0082" stop-color="#734b4b"/><stop offset="0.0161" stop-color="#201515"/><stop offset="0.0237" stop-color="#6e4848"/><stop offset="0.0297" stop-color="#0f0a0a"/><stop offset="0.0383" stop-color="#684444"/><stop offset="0.0470" stop-color="#150e0e"/><stop offset="0.0523" stop-color="#654242"/><stop offset="0.0585" stop-color="#040303"/><stop offset="0.0650" stop-color="#6b4646"/><stop offset="0.0744" stop-color="#2d1d1d"/><stop offset="0.0827" stop-color="#593a3a"/><stop offset="0.0895" stop-color="#181010"/><stop offset="0.0968" stop-color="#603f3f"/><stop offset="0.1067" stop-color="#170f0f"/><stop offset="0.1132" stop-color="#694545"/><stop offset="0.1203" stop-color="#181010"/><stop offset="0.1265" stop-color="#6b4646"/><stop offset="0.1323" stop-color="#160f0f"/><stop offset="0.1403" stop-color="#6b4646"/><stop offset="0.1487" stop-color="#070505"/><stop offset="0.1547" stop-color="#714a4a"/><stop offset="0.1641" stop-color="#1e1414"/><stop offset="0.1696" stop-color="#734b4b"/><stop offset="0.1771" stop-color="#2a1b1b"/><stop offset="0.1835" stop-color="#5b3b3b"/><stop offset="0.1937" stop-color="#2a1c1c"/><stop offset="0.2031" stop-color="#553838"/><stop offset="0.2097" stop-color="#281a1a"/><stop offset="0.2188" stop-color="#5f3e3e"/><stop offset="0.2262" stop-color="#271a1a"/><stop offset="0.2326" stop-color="#563939"/><stop offset="0.2393" stop-color="#251818"/><stop offset="0.2485" stop-color="#6e4848"/><stop offset="0.2567" stop-color="#2b1c1c"/><stop offset="0.2660" stop-color="#553737"/><stop offset="0.2742" stop-color="#221616"/><stop offset="0.2796" stop-color="#5e3d3d"/><stop offset="0.2888" stop-color="#110b0b"/><stop offset="0.2980" stop-color="#6a4646"/><stop offset="0.3043" stop-color="#261919"/><stop offset="0.3095" stop-color="#734b4b"/><stop offset="0.3154" stop-color="#0c0808"/><stop offset="0.3210" stop-color="#734b4b"/><stop offset="0.3294" stop-color="#2b1c1c"/><stop offset="0.3375" stop-color="#5a3b3b"/><stop offset="0.3446" stop-color="#1e1313"/><stop offset="0.3506" stop-color="#614040"/><stop offset="0.3605" stop-color="#1b1212"/><stop offset="0.3669" stop-color="#5d3d3d"/><stop offset="0.3745" stop-color="#271919"/><stop offset="0.3804" stop-color="#634141"/><stop offset="0.3863" stop-color="#191010"/><stop offset="0.3956" stop-color="#654242"/><stop offset="0.4046" stop-color="#150e0e"/><stop offset="0.4124" stop-color="#6b4646"/><stop offset="0.4221" stop-color="#291b1b"/><stop offset="0.4278" stop-color="#613f3f"/><stop offset="0.4338" stop-color="#040303"/><stop offset="0.4412" stop-color="#553838"/><stop offset="0.4472" stop-color="#251818"/><stop offset="0.4538" stop-color="#624040"/><stop offset="0.4609" stop-color="#251818"/><stop offset="0.4680" stop-color="#734b4b"/><stop offset="0.4775" stop-color="#241818"/><stop offset="0.4825" stop-color="#634141"/><stop offset="0.4888" stop-color="#070505"/><stop offset="0.4951" stop-color="#553838"/><stop offset="0.5038" stop-color="#050404"/><stop offset="0.5102" stop-color="#5c3c3c"/><stop offset="0.5186" stop-color="#221616"/><stop offset="0.5250" stop-color="#704949"/><stop offset="0.5327" stop-color="#1e1414"/><stop offset="0.5407" stop-color="#533636"/><stop offset="0.5466" stop-color="#251818"/><stop offset="0.5557" stop-color="#654242"/><stop offset="0.5657" stop-color="#231717"/><stop offset="0.5716" stop-color="#694444"/><stop offset="0.5808" stop-color="#191111"/><stop offset="0.5857" stop-color="#694545"/><stop offset="0.5944" stop-color="#221616"/><stop offset="0.6024" stop-color="#684444"/><stop offset="0.6089" stop-color="#281a1a"/><stop offset="0.6175" stop-color="#694545"/><stop offset="0.6259" stop-color="#231717"/><stop offset="0.6319" stop-color="#704949"/><stop offset="0.6380" stop-color="#080606"/><stop offset="0.6438" stop-color="#684444"/><stop offset="0.6535" stop-color="#281a1a"/><stop offset="0.6625" stop-color="#6b4646"/><stop offset="0.6711" stop-color="#181010"/><stop offset="0.6790" stop-color="#6b4646"/><stop offset="0.6883" stop-color="#2c1d1d"/><stop offset="0.6954" stop-color="#734c4c"/><stop offset="0.7025" stop-color="#1e1313"/><stop offset="0.7114" stop-color="#6b4646"/><stop offset="0.7206" stop-color="#150e0e"/><stop offset="0.7285" stop-color="#664242"/><stop offset="0.7343" stop-color="#291b1b"/><stop offset="0.7427" stop-color="#634141"/><stop offset="0.7501" stop-color="#1b1212"/><stop offset="0.7565" stop-color="#5b3c3c"/><stop offset="0.7636" stop-color="#291b1b"/><stop offset="0.7706" stop-color="#624040"/><stop offset="0.7767" stop-color="#150e0e"/><stop offset="0.7847" stop-color="#6e4848"/><stop offset="0.7946" stop-color="#2c1d1d"/><stop offset="0.8023" stop-color="#694545"/><stop offset="0.8093" stop-color="#070505"/><stop offset="0.8142" stop-color="#583a3a"/><stop offset="0.8237" stop-color="#2c1d1d"/><stop offset="0.8288" stop-color="#714a4a"/><stop offset="0.8388" stop-color="#0f0a0a"/><stop offset="0.8448" stop-color="#624040"/><stop offset="0.8519" stop-color="#201515"/><stop offset="0.8595" stop-color="#654242"/><stop offset="0.8690" stop-color="#1f1515"/><stop offset="0.8764" stop-color="#6c4747"/><stop offset="0.8853" stop-color="#2b1c1c"/><stop offset="0.8916" stop-color="#704a4a"/><stop offset="0.8990" stop-color="#2b1c1c"/><stop offset="0.9042" stop-color="#573939"/><stop offset="0.9128" stop-color="#241818"/><stop offset="0.9204" stop-color="#6c4747"/><stop offset="0.9281" stop-color="#110b0b"/><stop offset="0.9355" stop-color="#5e3d3d"/><stop offset="0.9445" stop-color="#261919"/><stop offset="0.9505" stop-color="#523636"/><stop offset="0.9587" stop-color="#261919"/><stop offset="0.9648" stop-color="#563838"/><stop offset="0.9737" stop-color="#2d1d1d"/><stop offset="0.9829" stop-color="#6d4747"/><stop offset="0.9897" stop-color="#201515"/><stop offset="0.9986" stop-color="#674343"/></linearGradient><linearGradient id="mt295v" x1="0" y1="0" x2="0" y2="1"><stop offset="0" stop-color="#fff" stop-opacity="0"/><stop offset="0.45" stop-color="#fff" stop-opacity="0.50"/><stop offset="0.7" stop-color="#fff" stop-opacity="0.50"/><stop offset="1" stop-color="#fff" stop-opacity="0"/></linearGradient><mask id="mt295m" maskContentUnits="objectBoundingBox"><rect width="1" height="1" fill="url(#mt295v)"/></mask></defs><rect x="0" y="12.64" width="104.90" height="47.40" fill="url(#mt295)" mask="url(#mt295m)"/><polygon points="101.38,0 105.12,0 104.75,63.20 101.75,63.20" fill="url(#zc2)" mask="url(#zmn)"/><polygon points="20.45,0 35.15,0 30.00,47.40 25.59,47.40" fill="url(#zc4)" mask="url(#zmn)"/><polygon points="-0.78,0 12.28,0 7.71,47.40 3.79,47.40" fill="url(#zc4)" mask="url(#zmn)"/><polygon points="94.65,0 102.75,0 101.94,63.20 95.46,63.20" fill="url(#zc4)" mask="url(#zmn)"/><polygon points="11.58,0 15.92,0 14.40,47.40 13.10,47.40" fill="url(#zc5)" mask="url(#zmn)"/><polygon points="16.00,0 22.00,0 19.90,47.40 18.10,47.40" fill="url(#zc5)" mask="url(#zmn)"/><polygon points="82.80,0 96.00,0 94.68,63.20 84.12,63.20" fill="url(#zc6)" mask="url(#zmn)"/><polygon points="33.60,0 41.40,0 38.67,47.40 36.33,47.40" fill="url(#zc6)" mask="url(#zmn)"/><polygon points="55.55,0 60.36,0 59.87,63.20 56.03,63.20" fill="url(#zc10)" mask="url(#zmn)"/><polygon points="62.07,0 65.82,0 65.45,63.20 62.45,63.20" fill="url(#zc11)" mask="url(#zmn)"/><polygon points="65.90,0 72.50,0 71.84,63.20 66.56,63.20" fill="url(#zc12)" mask="url(#zmn)"/><polygon points="40.75,0 50.05,0 49.12,63.20 41.68,63.20" fill="url(#zc12)" mask="url(#zmn)"/><polygon points="71.67,0 82.03,0 80.99,63.20 72.71,63.20" fill="url(#zc12)" mask="url(#zmn)"/><polygon points="55.30,0 60.60,0 59.63,57.51 56.27,57.51" fill="url(#zc13)" mask="url(#zms)"/><polygon points="49.46,0 55.54,0 53.09,63.20 51.91,63.20" fill="url(#zc14)" mask="url(#zmn)"/><polygon points="59.50,0 61.30,0 61.12,63.20 59.68,63.20" fill="url(#zc15)" mask="url(#zmn)"/><polygon points="48.50,0 61.50,0 53.30,63.20 51.70,63.20" fill="url(#zc25)" mask="url(#zmq)"/><polygon points="55.55,0 60.36,0 59.39,44.24 56.51,44.24" fill="url(#zc32)" mask="url(#zms)"/><polygon points="50.16,0 54.84,0 53.09,63.20 51.91,63.20" fill="url(#zc45)" mask="url(#zms)"/></g></svg><rect x="295.50" y="92.00" width="104.90" height="0.9" fill="#1a0d0d" opacity="0.85"/><rect x="295.50" y="153.80" width="104.90" height="1.4" fill="#0a0505" opacity="0.9"/>
<text x="293.2" y="94.6" font-size="5" text-anchor="end">40</text>
<text x="293.2" y="156.9" font-size="5" text-anchor="end">1</text>
<text x="316.56" y="161.8" font-size="5" text-anchor="middle">200</text>
<text x="337.62" y="161.8" font-size="5" text-anchor="middle">400</text>
<text x="358.68" y="161.8" font-size="5" text-anchor="middle">600</text>
<text x="379.74" y="161.8" font-size="5" text-anchor="middle">800</text>
<text x="400.8" y="161.8" font-size="5" text-anchor="middle">1000</text>
<text x="348.15" y="168.4" font-size="5.8" text-anchor="middle">Samples</text>
<rect x="434.20" y="92.00" width="104.90" height="63.20" fill="url(#zbg)"/><svg x="434.20" y="92.00" width="104.90" height="63.20" overflow="hidden"><g filter="url(#sblur)"><defs><linearGradient id="mt434"><stop offset="0.0000" stop-color="#0a0606"/><stop offset="0.0092" stop-color="#634141"/><stop offset="0.0176" stop-color="#1e1414"/><stop offset="0.0235" stop-color="#694545"/><stop offset="0.0324" stop-color="#261919"/><stop offset="0.0402" stop-color="#704949"/><stop offset="0.0484" stop-color="#1c1212"/><stop offset="0.0569" stop-color="#634040"/><stop offset="0.0674" stop-color="#040303"/><stop offset="0.0734" stop-color="#6a4646"/><stop offset="0.0792" stop-color="#201515"/><stop offset="0.0867" stop-color="#6d4747"/><stop offset="0.0928" stop-color="#2c1d1d"/><stop offset="0.0997" stop-color="#6a4545"/><stop offset="0.1060" stop-color="#0d0909"/><stop offset="0.1131" stop-color="#5f3e3e"/><stop offset="0.1229" stop-color="#2a1c1c"/><stop offset="0.1279" stop-color="#563838"/><stop offset="0.1378" stop-color="#281a1a"/><stop offset="0.1459" stop-color="#614040"/><stop offset="0.1559" stop-color="#251818"/><stop offset="0.1615" stop-color="#5c3c3c"/><stop offset="0.1719" stop-color="#211616"/><stop offset="0.1788" stop-color="#573939"/><stop offset="0.1877" stop-color="#0f0a0a"/><stop offset="0.1946" stop-color="#784f4f"/><stop offset="0.2012" stop-color="#261919"/><stop offset="0.2096" stop-color="#5d3d3d"/><stop offset="0.2156" stop-color="#2d1d1d"/><stop offset="0.2209" stop-color="#5c3c3c"/><stop offset="0.2306" stop-color="#271a1a"/><stop offset="0.2392" stop-color="#684444"/><stop offset="0.2458" stop-color="#2c1d1d"/><stop offset="0.2546" stop-color="#724b4b"/><stop offset="0.2621" stop-color="#2b1c1c"/><stop offset="0.2714" stop-color="#694545"/><stop offset="0.2810" stop-color="#170f0f"/><stop offset="0.2883" stop-color="#674444"/><stop offset="0.2974" stop-color="#2d1d1d"/><stop offset="0.3055" stop-color="#684444"/><stop offset="0.3152" stop-color="#271919"/><stop offset="0.3235" stop-color="#563838"/><stop offset="0.3297" stop-color="#271919"/><stop offset="0.3366" stop-color="#6e4848"/><stop offset="0.3469" stop-color="#2d1d1d"/><stop offset="0.3535" stop-color="#5a3b3b"/><stop offset="0.3624" stop-color="#2a1c1c"/><stop offset="0.3675" stop-color="#654242"/><stop offset="0.3736" stop-color="#2c1d1d"/><stop offset="0.3809" stop-color="#644141"/><stop offset="0.3869" stop-color="#1a1111"/><stop offset="0.3964" stop-color="#644141"/><stop offset="0.4035" stop-color="#0e0909"/><stop offset="0.4111" stop-color="#6e4848"/><stop offset="0.4170" stop-color="#1c1212"/><stop offset="0.4240" stop-color="#5a3b3b"/><stop offset="0.4310" stop-color="#251818"/><stop offset="0.4387" stop-color="#613f3f"/><stop offset="0.4446" stop-color="#291b1b"/><stop offset="0.4527" stop-color="#674343"/><stop offset="0.4588" stop-color="#1b1212"/><stop offset="0.4655" stop-color="#6f4949"/><stop offset="0.4756" stop-color="#2c1d1d"/><stop offset="0.4841" stop-color="#6b4646"/><stop offset="0.4934" stop-color="#241818"/><stop offset="0.4991" stop-color="#654242"/><stop offset="0.5070" stop-color="#291b1b"/><stop offset="0.5161" stop-color="#654242"/><stop offset="0.5229" stop-color="#070404"/><stop offset="0.5282" stop-color="#734b4b"/><stop offset="0.5360" stop-color="#291b1b"/><stop offset="0.5429" stop-color="#5f3e3e"/><stop offset="0.5522" stop-color="#2a1b1b"/><stop offset="0.5593" stop-color="#5d3d3d"/><stop offset="0.5673" stop-color="#1e1414"/><stop offset="0.5740" stop-color="#6d4848"/><stop offset="0.5802" stop-color="#0a0707"/><stop offset="0.5876" stop-color="#634141"/><stop offset="0.5977" stop-color="#0e0909"/><stop offset="0.6051" stop-color="#694444"/><stop offset="0.6122" stop-color="#0c0808"/><stop offset="0.6202" stop-color="#5a3b3b"/><stop offset="0.6288" stop-color="#191010"/><stop offset="0.6375" stop-color="#624040"/><stop offset="0.6442" stop-color="#1f1414"/><stop offset="0.6504" stop-color="#613f3f"/><stop offset="0.6607" stop-color="#201515"/><stop offset="0.6685" stop-color="#573939"/><stop offset="0.6779" stop-color="#2b1c1c"/><stop offset="0.6855" stop-color="#5f3e3e"/><stop offset="0.6917" stop-color="#150e0e"/><stop offset="0.7011" stop-color="#664343"/><stop offset="0.7113" stop-color="#180f0f"/><stop offset="0.7173" stop-color="#674343"/><stop offset="0.7264" stop-color="#211515"/><stop offset="0.7346" stop-color="#5f3e3e"/><stop offset="0.7433" stop-color="#2c1c1c"/><stop offset="0.7524" stop-color="#624040"/><stop offset="0.7615" stop-color="#110b0b"/><stop offset="0.7707" stop-color="#754c4c"/><stop offset="0.7809" stop-color="#1a1111"/><stop offset="0.7863" stop-color="#724b4b"/><stop offset="0.7966" stop-color="#2c1c1c"/><stop offset="0.8027" stop-color="#6b4646"/><stop offset="0.8113" stop-color="#1d1313"/><stop offset="0.8199" stop-color="#6e4848"/><stop offset="0.8268" stop-color="#231717"/><stop offset="0.8345" stop-color="#6f4949"/><stop offset="0.8439" stop-color="#140d0d"/><stop offset="0.8501" stop-color="#714a4a"/><stop offset="0.8577" stop-color="#2c1d1d"/><stop offset="0.8642" stop-color="#6e4848"/><stop offset="0.8702" stop-color="#090606"/><stop offset="0.8779" stop-color="#704949"/><stop offset="0.8881" stop-color="#1b1111"/><stop offset="0.8967" stop-color="#684444"/><stop offset="0.9051" stop-color="#2a1c1c"/><stop offset="0.9114" stop-color="#624040"/><stop offset="0.9193" stop-color="#241717"/><stop offset="0.9266" stop-color="#5f3e3e"/><stop offset="0.9352" stop-color="#291b1b"/><stop offset="0.9415" stop-color="#5c3c3c"/><stop offset="0.9481" stop-color="#241717"/><stop offset="0.9550" stop-color="#5b3b3b"/><stop offset="0.9636" stop-color="#130d0d"/><stop offset="0.9703" stop-color="#694545"/><stop offset="0.9761" stop-color="#221616"/><stop offset="0.9838" stop-color="#724b4b"/><stop offset="0.9919" stop-color="#2a1b1b"/><stop offset="0.9995" stop-color="#674343"/></linearGradient><linearGradient id="mt434v" x1="0" y1="0" x2="0" y2="1"><stop offset="0" stop-color="#fff" stop-opacity="0"/><stop offset="0.45" stop-color="#fff" stop-opacity="0.50"/><stop offset="0.7" stop-color="#fff" stop-opacity="0.50"/><stop offset="1" stop-color="#fff" stop-opacity="0"/></linearGradient><mask id="mt434m" maskContentUnits="objectBoundingBox"><rect width="1" height="1" fill="url(#mt434v)"/></mask></defs><rect x="0" y="12.64" width="104.90" height="47.40" fill="url(#mt434)" mask="url(#mt434m)"/><polygon points="67.50,0 70.60,0 71.07,63.20 67.03,63.20" fill="url(#zc5)" mask="url(#zmn)"/><polygon points="103.31,0 104.79,0 105.02,63.20 103.08,63.20" fill="url(#zc5)" mask="url(#zmn)"/><polygon points="78.13,0 86.37,0 87.60,63.20 76.90,63.20" fill="url(#zc6)" mask="url(#zmn)"/><polygon points="90.38,0 96.72,0 97.67,63.20 89.43,63.20" fill="url(#zc6)" mask="url(#zmn)"/><polygon points="1.47,0 6.33,0 7.06,63.20 0.74,63.20" fill="url(#zc8)" mask="url(#zmn)"/><polygon points="97.00,0 102.40,0 103.21,63.20 96.19,63.20" fill="url(#zc8)" mask="url(#zmn)"/><polygon points="6.80,0 12.20,0 13.01,63.20 5.99,63.20" fill="url(#zc9)" mask="url(#zmn)"/><polygon points="70.96,0 78.25,0 79.34,63.20 69.86,63.20" fill="url(#zc10)" mask="url(#zmn)"/><polygon points="12.72,0 17.18,0 17.85,63.20 12.05,63.20" fill="url(#zc10)" mask="url(#zmn)"/><polygon points="55.85,0 60.66,0 61.38,63.20 55.12,63.20" fill="url(#zc10)" mask="url(#zmn)"/><polygon points="33.03,0 38.16,0 38.93,63.20 32.27,63.20" fill="url(#zc11)" mask="url(#zmn)"/><polygon points="17.75,0 22.75,0 23.50,63.20 17.00,63.20" fill="url(#zc12)" mask="url(#zmn)"/><polygon points="28.49,0 32.41,0 32.99,63.20 27.91,63.20" fill="url(#zc12)" mask="url(#zmn)"/><polygon points="38.72,0 43.18,0 43.85,63.20 38.05,63.20" fill="url(#zc12)" mask="url(#zmn)"/><polygon points="23.32,0 27.78,0 28.45,63.20 22.65,63.20" fill="url(#zc12)" mask="url(#zmn)"/><polygon points="55.60,0 60.90,0 59.93,53.40 56.57,53.40" fill="url(#zc13)" mask="url(#zms)"/><polygon points="61.08,0 67.42,0 68.37,63.20 60.13,63.20" fill="url(#zc13)" mask="url(#zmn)"/><polygon points="43.63,0 49.57,0 50.46,63.20 42.74,63.20" fill="url(#zc14)" mask="url(#zmn)"/><polygon points="49.22,0 55.98,0 53.25,63.20 51.95,63.20" fill="url(#zc14)" mask="url(#zmn)"/><polygon points="48.80,0 61.80,0 53.40,63.20 51.80,63.20" fill="url(#zc25)" mask="url(#zmq)"/><polygon points="55.85,0 60.66,0 59.69,41.08 56.81,41.08" fill="url(#zc32)" mask="url(#zms)"/><polygon points="50.00,0 55.20,0 53.25,63.20 51.95,63.20" fill="url(#zc45)" mask="url(#zms)"/></g></svg><rect x="434.20" y="92.00" width="104.90" height="0.9" fill="#1a0d0d" opacity="0.85"/><rect x="434.20" y="153.80" width="104.90" height="1.4" fill="#0a0505" opacity="0.9"/>
<text x="431.9" y="94.6" font-size="5" text-anchor="end">40</text>
<text x="431.9" y="156.9" font-size="5" text-anchor="end">1</text>
<text x="455.26" y="161.8" font-size="5" text-anchor="middle">200</text>
<text x="476.32" y="161.8" font-size="5" text-anchor="middle">400</text>
<text x="497.38" y="161.8" font-size="5" text-anchor="middle">600</text>
<text x="518.44" y="161.8" font-size="5" text-anchor="middle">800</text>
<text x="539.5" y="161.8" font-size="5" text-anchor="middle">1000</text>
<text x="486.85" y="168.4" font-size="5.8" text-anchor="middle">Samples</text>
<rect x="19.00" y="267.10" width="104.90" height="62.70" fill="url(#zbg)"/><svg x="19.00" y="267.10" width="104.90" height="62.70" overflow="hidden"><g filter="url(#sblur)"><defs><linearGradient id="mt19"><stop offset="0.0000" stop-color="#201515"/><stop offset="0.0071" stop-color="#7b5050"/><stop offset="0.0166" stop-color="#1a1111"/><stop offset="0.0240" stop-color="#754d4d"/><stop offset="0.0331" stop-color="#2c1d1d"/><stop offset="0.0414" stop-color="#7e5353"/><stop offset="0.0503" stop-color="#170f0f"/><stop offset="0.0564" stop-color="#5c3d3d"/><stop offset="0.0645" stop-color="#120c0c"/><stop offset="0.0707" stop-color="#634141"/><stop offset="0.0764" stop-color="#271a1a"/><stop offset="0.0827" stop-color="#774e4e"/><stop offset="0.0928" stop-color="#181010"/><stop offset="0.1003" stop-color="#624040"/><stop offset="0.1066" stop-color="#261919"/><stop offset="0.1117" stop-color="#825555"/><stop offset="0.1187" stop-color="#2a1c1c"/><stop offset="0.1280" stop-color="#5f3e3e"/><stop offset="0.1357" stop-color="#201515"/><stop offset="0.1415" stop-color="#674444"/><stop offset="0.1491" stop-color="#1f1414"/><stop offset="0.1552" stop-color="#754c4c"/><stop offset="0.1635" stop-color="#211616"/><stop offset="0.1684" stop-color="#7f5353"/><stop offset="0.1760" stop-color="#1d1313"/><stop offset="0.1817" stop-color="#684444"/><stop offset="0.1902" stop-color="#1d1313"/><stop offset="0.1994" stop-color="#704949"/><stop offset="0.2069" stop-color="#291b1b"/><stop offset="0.2155" stop-color="#815555"/><stop offset="0.2253" stop-color="#221616"/><stop offset="0.2340" stop-color="#634141"/><stop offset="0.2402" stop-color="#030202"/><stop offset="0.2482" stop-color="#7b5151"/><stop offset="0.2548" stop-color="#271a1a"/><stop offset="0.2608" stop-color="#7d5252"/><stop offset="0.2673" stop-color="#181010"/><stop offset="0.2735" stop-color="#704949"/><stop offset="0.2829" stop-color="#201515"/><stop offset="0.2916" stop-color="#5f3e3e"/><stop offset="0.3004" stop-color="#0c0808"/><stop offset="0.3055" stop-color="#6e4848"/><stop offset="0.3154" stop-color="#251818"/><stop offset="0.3236" stop-color="#644242"/><stop offset="0.3338" stop-color="#2b1c1c"/><stop offset="0.3412" stop-color="#7c5151"/><stop offset="0.3494" stop-color="#291b1b"/><stop offset="0.3562" stop-color="#744c4c"/><stop offset="0.3631" stop-color="#251818"/><stop offset="0.3704" stop-color="#7b5050"/><stop offset="0.3807" stop-color="#2a1c1c"/><stop offset="0.3886" stop-color="#784f4f"/><stop offset="0.3949" stop-color="#050303"/><stop offset="0.4005" stop-color="#744c4c"/><stop offset="0.4078" stop-color="#1b1111"/><stop offset="0.4138" stop-color="#754d4d"/><stop offset="0.4206" stop-color="#181010"/><stop offset="0.4254" stop-color="#7e5353"/><stop offset="0.4325" stop-color="#271a1a"/><stop offset="0.4384" stop-color="#764d4d"/><stop offset="0.4468" stop-color="#1b1111"/><stop offset="0.4543" stop-color="#744c4c"/><stop offset="0.4613" stop-color="#1f1414"/><stop offset="0.4667" stop-color="#805454"/><stop offset="0.4730" stop-color="#090606"/><stop offset="0.4806" stop-color="#704949"/><stop offset="0.4875" stop-color="#120c0c"/><stop offset="0.4962" stop-color="#714a4a"/><stop offset="0.5044" stop-color="#1d1313"/><stop offset="0.5137" stop-color="#603f3f"/><stop offset="0.5211" stop-color="#1a1111"/><stop offset="0.5275" stop-color="#794f4f"/><stop offset="0.5375" stop-color="#251818"/><stop offset="0.5432" stop-color="#644141"/><stop offset="0.5515" stop-color="#251818"/><stop offset="0.5589" stop-color="#6e4848"/><stop offset="0.5678" stop-color="#1f1414"/><stop offset="0.5734" stop-color="#654242"/><stop offset="0.5808" stop-color="#191010"/><stop offset="0.5867" stop-color="#7d5252"/><stop offset="0.5932" stop-color="#030202"/><stop offset="0.6008" stop-color="#774e4e"/><stop offset="0.6082" stop-color="#1d1313"/><stop offset="0.6147" stop-color="#6c4747"/><stop offset="0.6215" stop-color="#2d1d1d"/><stop offset="0.6289" stop-color="#754d4d"/><stop offset="0.6361" stop-color="#2a1c1c"/><stop offset="0.6414" stop-color="#624040"/><stop offset="0.6484" stop-color="#1f1414"/><stop offset="0.6558" stop-color="#6d4747"/><stop offset="0.6623" stop-color="#2b1c1c"/><stop offset="0.6691" stop-color="#704949"/><stop offset="0.6785" stop-color="#1e1313"/><stop offset="0.6839" stop-color="#6a4545"/><stop offset="0.6901" stop-color="#291b1b"/><stop offset="0.6952" stop-color="#614040"/><stop offset="0.7025" stop-color="#241818"/><stop offset="0.7082" stop-color="#744c4c"/><stop offset="0.7160" stop-color="#271a1a"/><stop offset="0.7219" stop-color="#634141"/><stop offset="0.7279" stop-color="#251818"/><stop offset="0.7372" stop-color="#5d3d3d"/><stop offset="0.7440" stop-color="#191010"/><stop offset="0.7512" stop-color="#674444"/><stop offset="0.7592" stop-color="#241818"/><stop offset="0.7642" stop-color="#744c4c"/><stop offset="0.7719" stop-color="#080505"/><stop offset="0.7771" stop-color="#6d4747"/><stop offset="0.7840" stop-color="#2a1c1c"/><stop offset="0.7895" stop-color="#805454"/><stop offset="0.7968" stop-color="#2c1c1c"/><stop offset="0.8028" stop-color="#784f4f"/><stop offset="0.8112" stop-color="#271a1a"/><stop offset="0.8167" stop-color="#674444"/><stop offset="0.8259" stop-color="#181010"/><stop offset="0.8344" stop-color="#694545"/><stop offset="0.8438" stop-color="#0d0808"/><stop offset="0.8523" stop-color="#6f4949"/><stop offset="0.8590" stop-color="#241717"/><stop offset="0.8668" stop-color="#744c4c"/><stop offset="0.8728" stop-color="#170f0f"/><stop offset="0.8808" stop-color="#5e3e3e"/><stop offset="0.8890" stop-color="#1f1414"/><stop offset="0.8950" stop-color="#7a5050"/><stop offset="0.9029" stop-color="#1d1313"/><stop offset="0.9097" stop-color="#6d4747"/><stop offset="0.9177" stop-color="#1e1414"/><stop offset="0.9268" stop-color="#614040"/><stop offset="0.9352" stop-color="#231717"/><stop offset="0.9419" stop-color="#6d4747"/><stop offset="0.9486" stop-color="#130c0c"/><stop offset="0.9565" stop-color="#613f3f"/><stop offset="0.9657" stop-color="#241818"/><stop offset="0.9709" stop-color="#7e5252"/><stop offset="0.9793" stop-color="#201515"/><stop offset="0.9851" stop-color="#5f3e3e"/><stop offset="0.9930" stop-color="#2c1d1d"/><stop offset="0.9985" stop-color="#7a5050"/></linearGradient><linearGradient id="mt19v" x1="0" y1="0" x2="0" y2="1"><stop offset="0" stop-color="#fff" stop-opacity="0"/><stop offset="0.45" stop-color="#fff" stop-opacity="0.50"/><stop offset="0.7" stop-color="#fff" stop-opacity="0.50"/><stop offset="1" stop-color="#fff" stop-opacity="0"/></linearGradient><mask id="mt19m" maskContentUnits="objectBoundingBox"><rect width="1" height="1" fill="url(#mt19v)"/></mask></defs><rect x="0" y="12.54" width="104.90" height="47.02" fill="url(#mt19)" mask="url(#mt19m)"/><polygon points="29.21,0 37.59,0 34.66,37.62 32.14,37.62" fill="url(#zc8)" mask="url(#zmm)"/><polygon points="-0.33,0 3.43,0 4.00,62.70 -0.90,62.70" fill="url(#zc10)" mask="url(#zmm)"/><polygon points="11.69,0 18.71,0 19.76,62.70 10.64,62.70" fill="url(#zc10)" mask="url(#zmm)"/><polygon points="19.51,0 20.99,0 21.22,62.70 19.28,62.70" fill="url(#zc10)" mask="url(#zmm)"/><polygon points="85.70,0 90.90,0 91.68,62.70 84.92,62.70" fill="url(#zc10)" mask="url(#zmm)"/><polygon points="94.62,0 97.88,0 98.36,62.70 94.14,62.70" fill="url(#zc10)" mask="url(#zmm)"/><polygon points="98.80,0 104.00,0 104.78,62.70 98.02,62.70" fill="url(#zc10)" mask="url(#zmm)"/><polygon points="103.27,0 105.03,0 105.29,62.70 103.01,62.70" fill="url(#zc10)" mask="url(#zmm)"/><polygon points="21.98,0 24.42,0 24.78,62.70 21.62,62.70" fill="url(#zc12)" mask="url(#zmm)"/><polygon points="46.03,0 57.37,0 59.07,62.70 44.33,62.70" fill="url(#zc12)" mask="url(#zmm)"/><polygon points="-0.52,0 3.62,0 2.87,62.70 0.23,62.70" fill="url(#zc13)" mask="url(#zms)"/><polygon points="11.34,0 19.06,0 17.66,57.06 12.74,57.06" fill="url(#zc13)" mask="url(#zms)"/><polygon points="38.06,0 46.84,0 43.77,37.62 41.13,37.62" fill="url(#zc13)" mask="url(#zmm)"/><polygon points="68.16,0 71.54,0 72.04,62.70 67.66,62.70" fill="url(#zc13)" mask="url(#zmm)"/><polygon points="72.34,0 75.86,0 76.38,62.70 71.82,62.70" fill="url(#zc13)" mask="url(#zmm)"/><polygon points="85.44,0 91.16,0 90.12,62.70 86.48,62.70" fill="url(#zc13)" mask="url(#zms)"/><polygon points="94.46,0 98.04,0 97.39,61.13 95.11,61.13" fill="url(#zc13)" mask="url(#zms)"/><polygon points="98.54,0 104.26,0 103.22,62.70 99.58,62.70" fill="url(#zc13)" mask="url(#zms)"/><polygon points="3.79,0 11.62,0 12.79,62.70 2.61,62.70" fill="url(#zc14)" mask="url(#zmm)"/><polygon points="57.47,0 62.33,0 63.06,62.70 56.74,62.70" fill="url(#zc14)" mask="url(#zmm)"/><polygon points="62.92,0 67.38,0 68.05,62.70 62.25,62.70" fill="url(#zc14)" mask="url(#zmm)"/><polygon points="25.13,0 31.07,0 31.96,62.70 24.24,62.70" fill="url(#zc14)" mask="url(#zmm)"/><polygon points="75.92,0 85.78,0 87.26,62.70 74.44,62.70" fill="url(#zc14)" mask="url(#zmm)"/><polygon points="91.59,0 95.51,0 96.09,62.70 91.01,62.70" fill="url(#zc15)" mask="url(#zmm)"/><polygon points="-0.33,0 3.43,0 2.68,50.16 0.42,50.16" fill="url(#zc18)" mask="url(#zms)"/><polygon points="11.69,0 18.71,0 17.31,43.89 13.09,43.89" fill="url(#zc20)" mask="url(#zms)"/><polygon points="94.62,0 97.88,0 97.22,47.02 95.28,47.02" fill="url(#zc22)" mask="url(#zms)"/><polygon points="85.70,0 90.90,0 89.86,50.16 86.74,50.16" fill="url(#zc25)" mask="url(#zms)"/><polygon points="98.80,0 104.00,0 102.96,53.29 99.84,53.29" fill="url(#zc35)" mask="url(#zms)"/></g></svg><rect x="19.00" y="267.10" width="104.90" height="0.9" fill="#1a0d0d" opacity="0.85"/><rect x="19.00" y="328.40" width="104.90" height="1.4" fill="#0a0505" opacity="0.9"/>
<text x="16.7" y="269.7" font-size="5" text-anchor="end">40</text>
<text x="16.7" y="331.5" font-size="5" text-anchor="end">1</text>
<text x="40.06" y="336.4" font-size="5" text-anchor="middle">200</text>
<text x="61.12" y="336.4" font-size="5" text-anchor="middle">400</text>
<text x="82.18" y="336.4" font-size="5" text-anchor="middle">600</text>
<text x="103.24" y="336.4" font-size="5" text-anchor="middle">800</text>
<text x="124.3" y="336.4" font-size="5" text-anchor="middle">1000</text>
<text x="71.65" y="343" font-size="5.8" text-anchor="middle">Samples</text>
<rect x="157.30" y="267.10" width="104.90" height="62.70" fill="url(#zbg)"/><svg x="157.30" y="267.10" width="104.90" height="62.70" overflow="hidden"><g filter="url(#sblur)"><defs><linearGradient id="mt157"><stop offset="0.0000" stop-color="#1b1212"/><stop offset="0.0095" stop-color="#684444"/><stop offset="0.0161" stop-color="#2c1d1d"/><stop offset="0.0239" stop-color="#5f3e3e"/><stop offset="0.0341" stop-color="#261919"/><stop offset="0.0429" stop-color="#624040"/><stop offset="0.0492" stop-color="#291b1b"/><stop offset="0.0552" stop-color="#714a4a"/><stop offset="0.0634" stop-color="#281a1a"/><stop offset="0.0691" stop-color="#664242"/><stop offset="0.0763" stop-color="#2d1d1d"/><stop offset="0.0840" stop-color="#684444"/><stop offset="0.0899" stop-color="#2c1d1d"/><stop offset="0.0985" stop-color="#614040"/><stop offset="0.1051" stop-color="#070505"/><stop offset="0.1146" stop-color="#734b4b"/><stop offset="0.1217" stop-color="#2a1b1b"/><stop offset="0.1272" stop-color="#6f4848"/><stop offset="0.1356" stop-color="#1e1414"/><stop offset="0.1431" stop-color="#664343"/><stop offset="0.1510" stop-color="#130c0c"/><stop offset="0.1564" stop-color="#5a3b3b"/><stop offset="0.1656" stop-color="#1b1212"/><stop offset="0.1719" stop-color="#6e4848"/><stop offset="0.1789" stop-color="#191010"/><stop offset="0.1856" stop-color="#774e4e"/><stop offset="0.1935" stop-color="#1f1414"/><stop offset="0.1999" stop-color="#5e3e3e"/><stop offset="0.2097" stop-color="#2b1c1c"/><stop offset="0.2168" stop-color="#6f4949"/><stop offset="0.2250" stop-color="#150d0d"/><stop offset="0.2316" stop-color="#654242"/><stop offset="0.2390" stop-color="#231717"/><stop offset="0.2459" stop-color="#674444"/><stop offset="0.2561" stop-color="#2c1d1d"/><stop offset="0.2622" stop-color="#784e4e"/><stop offset="0.2703" stop-color="#1f1414"/><stop offset="0.2778" stop-color="#714a4a"/><stop offset="0.2872" stop-color="#0e0909"/><stop offset="0.2922" stop-color="#5b3b3b"/><stop offset="0.3011" stop-color="#1a1111"/><stop offset="0.3061" stop-color="#784f4f"/><stop offset="0.3152" stop-color="#221616"/><stop offset="0.3215" stop-color="#754d4d"/><stop offset="0.3273" stop-color="#1b1212"/><stop offset="0.3344" stop-color="#694545"/><stop offset="0.3442" stop-color="#0f0a0a"/><stop offset="0.3524" stop-color="#6d4747"/><stop offset="0.3622" stop-color="#2b1c1c"/><stop offset="0.3707" stop-color="#794f4f"/><stop offset="0.3805" stop-color="#221616"/><stop offset="0.3882" stop-color="#5b3c3c"/><stop offset="0.3980" stop-color="#191010"/><stop offset="0.4054" stop-color="#5a3b3b"/><stop offset="0.4158" stop-color="#2b1c1c"/><stop offset="0.4210" stop-color="#704a4a"/><stop offset="0.4305" stop-color="#281a1a"/><stop offset="0.4394" stop-color="#6a4545"/><stop offset="0.4496" stop-color="#1e1313"/><stop offset="0.4575" stop-color="#634141"/><stop offset="0.4662" stop-color="#160e0e"/><stop offset="0.4719" stop-color="#7d5252"/><stop offset="0.4814" stop-color="#1d1313"/><stop offset="0.4875" stop-color="#684444"/><stop offset="0.4934" stop-color="#2b1c1c"/><stop offset="0.5011" stop-color="#6b4646"/><stop offset="0.5087" stop-color="#1b1111"/><stop offset="0.5140" stop-color="#603f3f"/><stop offset="0.5223" stop-color="#160e0e"/><stop offset="0.5276" stop-color="#734b4b"/><stop offset="0.5355" stop-color="#221616"/><stop offset="0.5443" stop-color="#684444"/><stop offset="0.5513" stop-color="#0e0909"/><stop offset="0.5587" stop-color="#5f3f3f"/><stop offset="0.5668" stop-color="#211616"/><stop offset="0.5725" stop-color="#644242"/><stop offset="0.5820" stop-color="#1c1212"/><stop offset="0.5891" stop-color="#7b5151"/><stop offset="0.5956" stop-color="#050303"/><stop offset="0.6033" stop-color="#734b4b"/><stop offset="0.6131" stop-color="#150e0e"/><stop offset="0.6180" stop-color="#794f4f"/><stop offset="0.6255" stop-color="#1e1414"/><stop offset="0.6325" stop-color="#764d4d"/><stop offset="0.6404" stop-color="#251818"/><stop offset="0.6462" stop-color="#774e4e"/><stop offset="0.6563" stop-color="#0a0707"/><stop offset="0.6623" stop-color="#774e4e"/><stop offset="0.6682" stop-color="#1e1313"/><stop offset="0.6738" stop-color="#5c3c3c"/><stop offset="0.6797" stop-color="#1e1414"/><stop offset="0.6847" stop-color="#794f4f"/><stop offset="0.6914" stop-color="#221616"/><stop offset="0.6973" stop-color="#5e3d3d"/><stop offset="0.7043" stop-color="#211616"/><stop offset="0.7136" stop-color="#5e3e3e"/><stop offset="0.7226" stop-color="#271a1a"/><stop offset="0.7282" stop-color="#764d4d"/><stop offset="0.7374" stop-color="#231717"/><stop offset="0.7426" stop-color="#724b4b"/><stop offset="0.7501" stop-color="#291b1b"/><stop offset="0.7554" stop-color="#7d5252"/><stop offset="0.7641" stop-color="#271919"/><stop offset="0.7709" stop-color="#634141"/><stop offset="0.7788" stop-color="#2b1c1c"/><stop offset="0.7839" stop-color="#784f4f"/><stop offset="0.7898" stop-color="#181010"/><stop offset="0.7977" stop-color="#614040"/><stop offset="0.8060" stop-color="#181010"/><stop offset="0.8119" stop-color="#7c5151"/><stop offset="0.8176" stop-color="#251818"/><stop offset="0.8258" stop-color="#704949"/><stop offset="0.8318" stop-color="#271919"/><stop offset="0.8398" stop-color="#634141"/><stop offset="0.8470" stop-color="#221616"/><stop offset="0.8548" stop-color="#664343"/><stop offset="0.8606" stop-color="#291b1b"/><stop offset="0.8659" stop-color="#603f3f"/><stop offset="0.8734" stop-color="#180f0f"/><stop offset="0.8810" stop-color="#694545"/><stop offset="0.8912" stop-color="#191010"/><stop offset="0.8964" stop-color="#774e4e"/><stop offset="0.9063" stop-color="#2c1d1d"/><stop offset="0.9133" stop-color="#6a4545"/><stop offset="0.9231" stop-color="#060404"/><stop offset="0.9322" stop-color="#5c3c3c"/><stop offset="0.9397" stop-color="#130d0d"/><stop offset="0.9491" stop-color="#6e4848"/><stop offset="0.9581" stop-color="#181010"/><stop offset="0.9662" stop-color="#634141"/><stop offset="0.9733" stop-color="#241818"/><stop offset="0.9794" stop-color="#774e4e"/><stop offset="0.9858" stop-color="#231717"/><stop offset="0.9942" stop-color="#613f3f"/></linearGradient><linearGradient id="mt157v" x1="0" y1="0" x2="0" y2="1"><stop offset="0" stop-color="#fff" stop-opacity="0"/><stop offset="0.45" stop-color="#fff" stop-opacity="0.50"/><stop offset="0.7" stop-color="#fff" stop-opacity="0.50"/><stop offset="1" stop-color="#fff" stop-opacity="0"/></linearGradient><mask id="mt157m" maskContentUnits="objectBoundingBox"><rect width="1" height="1" fill="url(#mt157v)"/></mask></defs><rect x="0" y="12.54" width="104.90" height="47.02" fill="url(#mt157)" mask="url(#mt157m)"/><polygon points="-0.32,0 2.82,0 2.82,62.70 -0.32,62.70" fill="url(#zc3)" mask="url(#zmm)"/><polygon points="63.92,0 66.17,0 66.17,62.70 63.92,62.70" fill="url(#zc8)" mask="url(#zmm)"/><polygon points="36.32,0 41.57,0 39.74,43.89 38.16,43.89" fill="url(#zc10)" mask="url(#zmm)"/><polygon points="3.66,0 8.34,0 8.34,62.70 3.66,62.70" fill="url(#zc10)" mask="url(#zmm)"/><polygon points="8.94,0 14.66,0 14.66,62.70 8.94,62.70" fill="url(#zc10)" mask="url(#zmm)"/><polygon points="22.62,0 29.67,0 29.67,62.70 22.62,62.70" fill="url(#zc10)" mask="url(#zmm)"/><polygon points="47.20,0 52.00,0 50.32,43.89 48.88,43.89" fill="url(#zc10)" mask="url(#zmm)"/><polygon points="75.45,0 81.95,0 81.95,62.70 75.45,62.70" fill="url(#zc10)" mask="url(#zmm)"/><polygon points="100.46,0 104.23,0 104.23,62.70 100.46,62.70" fill="url(#zc10)" mask="url(#zmm)"/><polygon points="29.60,0 36.20,0 36.20,62.70 29.60,62.70" fill="url(#zc11)" mask="url(#zmm)"/><polygon points="80.85,0 96.15,0 96.15,62.70 80.85,62.70" fill="url(#zc11)" mask="url(#zmm)"/><polygon points="52.30,0 57.10,0 57.10,62.70 52.30,62.70" fill="url(#zc12)" mask="url(#zmm)"/><polygon points="2.32,0 4.57,0 4.57,62.70 2.32,62.70" fill="url(#zc12)" mask="url(#zmm)"/><polygon points="3.43,0 8.57,0 7.64,62.70 4.36,62.70" fill="url(#zc13)" mask="url(#zms)"/><polygon points="8.65,0 14.95,0 13.80,62.70 9.80,62.70" fill="url(#zc13)" mask="url(#zms)"/><polygon points="14.95,0 22.45,0 22.45,62.70 14.95,62.70" fill="url(#zc13)" mask="url(#zmm)"/><polygon points="57.20,0 63.20,0 63.20,62.70 57.20,62.70" fill="url(#zc13)" mask="url(#zmm)"/><polygon points="75.12,0 82.27,0 80.97,52.98 76.42,52.98" fill="url(#zc13)" mask="url(#zms)"/><polygon points="100.28,0 104.42,0 103.67,48.91 101.03,48.91" fill="url(#zc13)" mask="url(#zms)"/><polygon points="66.95,0 75.65,0 75.65,62.70 66.95,62.70" fill="url(#zc14)" mask="url(#zmm)"/><polygon points="94.97,0 99.92,0 99.92,62.70 94.97,62.70" fill="url(#zc14)" mask="url(#zmm)"/><polygon points="100.46,0 104.23,0 103.48,37.62 101.22,37.62" fill="url(#zc21)" mask="url(#zms)"/><polygon points="75.45,0 81.95,0 80.65,40.75 76.75,40.75" fill="url(#zc22)" mask="url(#zms)"/><polygon points="3.66,0 8.34,0 7.40,50.16 4.60,50.16" fill="url(#zc42)" mask="url(#zms)"/><polygon points="8.94,0 14.66,0 13.52,50.16 10.08,50.16" fill="url(#zc42)" mask="url(#zms)"/><defs><linearGradient id="tx157"><stop offset="0.0000" stop-color="#5c3c3c"/><stop offset="0.0091" stop-color="#764d4d"/><stop offset="0.0174" stop-color="#6d4848"/><stop offset="0.0285" stop-color="#3f2929"/><stop offset="0.0410" stop-color="#3d2828"/><stop offset="0.0527" stop-color="#412a2a"/><stop offset="0.0612" stop-color="#654242"/><stop offset="0.0767" stop-color="#472f2f"/><stop offset="0.0865" stop-color="#744c4c"/><stop offset="0.1031" stop-color="#714a4a"/><stop offset="0.1145" stop-color="#8b5b5b"/><stop offset="0.1226" stop-color="#845656"/><stop offset="0.1330" stop-color="#4a3030"/><stop offset="0.1417" stop-color="#5a3b3b"/><stop offset="0.1572" stop-color="#4e3333"/><stop offset="0.1703" stop-color="#754d4d"/><stop offset="0.1815" stop-color="#6e4848"/><stop offset="0.1897" stop-color="#3f2a2a"/><stop offset="0.1993" stop-color="#784f4f"/><stop offset="0.2110" stop-color="#5b3c3c"/><stop offset="0.2242" stop-color="#674343"/><stop offset="0.2347" stop-color="#805454"/><stop offset="0.2490" stop-color="#543737"/><stop offset="0.2621" stop-color="#6d4747"/><stop offset="0.2781" stop-color="#7b5151"/><stop offset="0.2884" stop-color="#8b5b5b"/><stop offset="0.2972" stop-color="#644242"/><stop offset="0.3120" stop-color="#4b3131"/><stop offset="0.3243" stop-color="#3d2828"/><stop offset="0.3383" stop-color="#7e5252"/><stop offset="0.3514" stop-color="#855757"/><stop offset="0.3620" stop-color="#794f4f"/><stop offset="0.3753" stop-color="#714a4a"/><stop offset="0.3873" stop-color="#835555"/><stop offset="0.4039" stop-color="#694444"/><stop offset="0.4179" stop-color="#402a2a"/><stop offset="0.4322" stop-color="#764d4d"/><stop offset="0.4493" stop-color="#815555"/><stop offset="0.4596" stop-color="#614040"/><stop offset="0.4736" stop-color="#3a2626"/><stop offset="0.4857" stop-color="#4c3232"/><stop offset="0.4944" stop-color="#3f2929"/><stop offset="0.5094" stop-color="#482f2f"/><stop offset="0.5193" stop-color="#624040"/><stop offset="0.5353" stop-color="#422b2b"/><stop offset="0.5472" stop-color="#6e4848"/><stop offset="0.5632" stop-color="#815555"/><stop offset="0.5791" stop-color="#583939"/><stop offset="0.5907" stop-color="#5f3e3e"/><stop offset="0.6067" stop-color="#8a5a5a"/><stop offset="0.6158" stop-color="#4d3333"/><stop offset="0.6256" stop-color="#533636"/><stop offset="0.6379" stop-color="#714a4a"/><stop offset="0.6480" stop-color="#382424"/><stop offset="0.6596" stop-color="#603f3f"/><stop offset="0.6727" stop-color="#8a5a5a"/><stop offset="0.6869" stop-color="#6c4747"/><stop offset="0.7004" stop-color="#784e4e"/><stop offset="0.7085" stop-color="#865858"/><stop offset="0.7236" stop-color="#855757"/><stop offset="0.7388" stop-color="#624040"/><stop offset="0.7502" stop-color="#452d2d"/><stop offset="0.7639" stop-color="#402a2a"/><stop offset="0.7722" stop-color="#513535"/><stop offset="0.7814" stop-color="#5d3d3d"/><stop offset="0.7895" stop-color="#372424"/><stop offset="0.7986" stop-color="#452d2d"/><stop offset="0.8096" stop-color="#3b2727"/><stop offset="0.8256" stop-color="#734b4b"/><stop offset="0.8347" stop-color="#553838"/><stop offset="0.8456" stop-color="#5f3e3e"/><stop offset="0.8544" stop-color="#835656"/><stop offset="0.8715" stop-color="#684444"/><stop offset="0.8837" stop-color="#432c2c"/><stop offset="0.8923" stop-color="#5e3d3d"/><stop offset="0.9025" stop-color="#825555"/><stop offset="0.9116" stop-color="#3a2626"/><stop offset="0.9283" stop-color="#6d4747"/><stop offset="0.9374" stop-color="#6e4848"/><stop offset="0.9452" stop-color="#6d4747"/><stop offset="0.9622" stop-color="#845656"/><stop offset="0.9765" stop-color="#563838"/><stop offset="0.9876" stop-color="#4c3232"/></linearGradient><linearGradient id="tx157v" x1="0" y1="0" x2="0" y2="1"><stop offset="0" stop-color="#fff" stop-opacity="0"/><stop offset="0.45" stop-color="#fff" stop-opacity="0.85"/><stop offset="0.9" stop-color="#fff" stop-opacity="0.85"/><stop offset="1" stop-color="#fff" stop-opacity="0.4"/></linearGradient><mask id="tx157m" maskContentUnits="objectBoundingBox"><rect width="1" height="1" fill="url(#tx157v)"/></mask></defs><rect x="0" y="31.35" width="104.90" height="31.35" fill="url(#tx157)" mask="url(#tx157m)"/></g></svg><rect x="157.30" y="267.10" width="104.90" height="0.9" fill="#1a0d0d" opacity="0.85"/><rect x="157.30" y="328.40" width="104.90" height="1.4" fill="#0a0505" opacity="0.9"/>
<text x="155" y="269.7" font-size="5" text-anchor="end">40</text>
<text x="155" y="331.5" font-size="5" text-anchor="end">1</text>
<text x="178.36" y="336.4" font-size="5" text-anchor="middle">200</text>
<text x="199.42" y="336.4" font-size="5" text-anchor="middle">400</text>
<text x="220.48" y="336.4" font-size="5" text-anchor="middle">600</text>
<text x="241.54" y="336.4" font-size="5" text-anchor="middle">800</text>
<text x="262.6" y="336.4" font-size="5" text-anchor="middle">1000</text>
<text x="209.95" y="343" font-size="5.8" text-anchor="middle">Samples</text>
<rect x="295.50" y="267.10" width="104.90" height="62.70" fill="url(#zbg)"/><svg x="295.50" y="267.10" width="104.90" height="62.70" overflow="hidden"><g filter="url(#sblur)"><defs><linearGradient id="mt295"><stop offset="0.0000" stop-color="#281a1a"/><stop offset="0.0082" stop-color="#825555"/><stop offset="0.0161" stop-color="#201515"/><stop offset="0.0237" stop-color="#7d5252"/><stop offset="0.0297" stop-color="#0f0a0a"/><stop offset="0.0383" stop-color="#754d4d"/><stop offset="0.0470" stop-color="#150e0e"/><stop offset="0.0523" stop-color="#724b4b"/><stop offset="0.0585" stop-color="#040303"/><stop offset="0.0650" stop-color="#784f4f"/><stop offset="0.0744" stop-color="#2d1d1d"/><stop offset="0.0827" stop-color="#644242"/><stop offset="0.0895" stop-color="#181010"/><stop offset="0.0968" stop-color="#6c4747"/><stop offset="0.1067" stop-color="#170f0f"/><stop offset="0.1132" stop-color="#774e4e"/><stop offset="0.1203" stop-color="#181010"/><stop offset="0.1265" stop-color="#794f4f"/><stop offset="0.1323" stop-color="#160f0f"/><stop offset="0.1403" stop-color="#794f4f"/><stop offset="0.1487" stop-color="#070505"/><stop offset="0.1547" stop-color="#7f5353"/><stop offset="0.1641" stop-color="#1e1414"/><stop offset="0.1696" stop-color="#825555"/><stop offset="0.1771" stop-color="#2a1b1b"/><stop offset="0.1835" stop-color="#664343"/><stop offset="0.1937" stop-color="#2a1c1c"/><stop offset="0.2031" stop-color="#603f3f"/><stop offset="0.2097" stop-color="#281a1a"/><stop offset="0.2188" stop-color="#6c4646"/><stop offset="0.2262" stop-color="#271a1a"/><stop offset="0.2326" stop-color="#614040"/><stop offset="0.2393" stop-color="#251818"/><stop offset="0.2485" stop-color="#7c5151"/><stop offset="0.2567" stop-color="#2b1c1c"/><stop offset="0.2660" stop-color="#5f3e3e"/><stop offset="0.2742" stop-color="#221616"/><stop offset="0.2796" stop-color="#6a4545"/><stop offset="0.2888" stop-color="#110b0b"/><stop offset="0.2980" stop-color="#784f4f"/><stop offset="0.3043" stop-color="#261919"/><stop offset="0.3095" stop-color="#815555"/><stop offset="0.3154" stop-color="#0c0808"/><stop offset="0.3210" stop-color="#815555"/><stop offset="0.3294" stop-color="#2b1c1c"/><stop offset="0.3375" stop-color="#654242"/><stop offset="0.3446" stop-color="#1e1313"/><stop offset="0.3506" stop-color="#6e4848"/><stop offset="0.3605" stop-color="#1b1212"/><stop offset="0.3669" stop-color="#694545"/><stop offset="0.3745" stop-color="#271919"/><stop offset="0.3804" stop-color="#704949"/><stop offset="0.3863" stop-color="#191010"/><stop offset="0.3956" stop-color="#724b4b"/><stop offset="0.4046" stop-color="#150e0e"/><stop offset="0.4124" stop-color="#784f4f"/><stop offset="0.4221" stop-color="#291b1b"/><stop offset="0.4278" stop-color="#6d4747"/><stop offset="0.4338" stop-color="#040303"/><stop offset="0.4412" stop-color="#603f3f"/><stop offset="0.4472" stop-color="#251818"/><stop offset="0.4538" stop-color="#6f4848"/><stop offset="0.4609" stop-color="#251818"/><stop offset="0.4680" stop-color="#825555"/><stop offset="0.4775" stop-color="#241818"/><stop offset="0.4825" stop-color="#704949"/><stop offset="0.4888" stop-color="#070505"/><stop offset="0.4951" stop-color="#603f3f"/><stop offset="0.5038" stop-color="#050404"/><stop offset="0.5102" stop-color="#684444"/><stop offset="0.5186" stop-color="#221616"/><stop offset="0.5250" stop-color="#7f5353"/><stop offset="0.5327" stop-color="#1e1414"/><stop offset="0.5407" stop-color="#5d3d3d"/><stop offset="0.5466" stop-color="#251818"/><stop offset="0.5557" stop-color="#724b4b"/><stop offset="0.5657" stop-color="#231717"/><stop offset="0.5716" stop-color="#764d4d"/><stop offset="0.5808" stop-color="#191111"/><stop offset="0.5857" stop-color="#774e4e"/><stop offset="0.5944" stop-color="#221616"/><stop offset="0.6024" stop-color="#754d4d"/><stop offset="0.6089" stop-color="#281a1a"/><stop offset="0.6175" stop-color="#774e4e"/><stop offset="0.6259" stop-color="#231717"/><stop offset="0.6319" stop-color="#7e5353"/><stop offset="0.6380" stop-color="#080606"/><stop offset="0.6438" stop-color="#754d4d"/><stop offset="0.6535" stop-color="#281a1a"/><stop offset="0.6625" stop-color="#794f4f"/><stop offset="0.6711" stop-color="#181010"/><stop offset="0.6790" stop-color="#794f4f"/><stop offset="0.6883" stop-color="#2c1d1d"/><stop offset="0.6954" stop-color="#825555"/><stop offset="0.7025" stop-color="#1e1313"/><stop offset="0.7114" stop-color="#794f4f"/><stop offset="0.7206" stop-color="#150e0e"/><stop offset="0.7285" stop-color="#734b4b"/><stop offset="0.7343" stop-color="#291b1b"/><stop offset="0.7427" stop-color="#6f4949"/><stop offset="0.7501" stop-color="#1b1212"/><stop offset="0.7565" stop-color="#674444"/><stop offset="0.7636" stop-color="#291b1b"/><stop offset="0.7706" stop-color="#6f4949"/><stop offset="0.7767" stop-color="#150e0e"/><stop offset="0.7847" stop-color="#7c5151"/><stop offset="0.7946" stop-color="#2c1d1d"/><stop offset="0.8023" stop-color="#764d4d"/><stop offset="0.8093" stop-color="#070505"/><stop offset="0.8142" stop-color="#634141"/><stop offset="0.8237" stop-color="#2c1d1d"/><stop offset="0.8288" stop-color="#7f5353"/><stop offset="0.8388" stop-color="#0f0a0a"/><stop offset="0.8448" stop-color="#6f4848"/><stop offset="0.8519" stop-color="#201515"/><stop offset="0.8595" stop-color="#714a4a"/><stop offset="0.8690" stop-color="#1f1515"/><stop offset="0.8764" stop-color="#7a5050"/><stop offset="0.8853" stop-color="#2b1c1c"/><stop offset="0.8916" stop-color="#7f5353"/><stop offset="0.8990" stop-color="#2b1c1c"/><stop offset="0.9042" stop-color="#624040"/><stop offset="0.9128" stop-color="#241818"/><stop offset="0.9204" stop-color="#7a5050"/><stop offset="0.9281" stop-color="#110b0b"/><stop offset="0.9355" stop-color="#6a4545"/><stop offset="0.9445" stop-color="#261919"/><stop offset="0.9505" stop-color="#5d3d3d"/><stop offset="0.9587" stop-color="#261919"/><stop offset="0.9648" stop-color="#613f3f"/><stop offset="0.9737" stop-color="#2d1d1d"/><stop offset="0.9829" stop-color="#7a5050"/><stop offset="0.9897" stop-color="#201515"/><stop offset="0.9986" stop-color="#744c4c"/></linearGradient><linearGradient id="mt295v" x1="0" y1="0" x2="0" y2="1"><stop offset="0" stop-color="#fff" stop-opacity="0"/><stop offset="0.45" stop-color="#fff" stop-opacity="0.50"/><stop offset="0.7" stop-color="#fff" stop-opacity="0.50"/><stop offset="1" stop-color="#fff" stop-opacity="0"/></linearGradient><mask id="mt295m" maskContentUnits="objectBoundingBox"><rect width="1" height="1" fill="url(#mt295v)"/></mask></defs><rect x="0" y="12.54" width="104.90" height="47.02" fill="url(#mt295)" mask="url(#mt295m)"/><polygon points="102.18,0 104.61,0 104.92,62.70 101.88,62.70" fill="url(#zc6)" mask="url(#zmm)"/><polygon points="91.37,0 96.23,0 96.84,62.70 90.76,62.70" fill="url(#zc8)" mask="url(#zmm)"/><polygon points="96.82,0 101.28,0 101.83,62.70 96.27,62.70" fill="url(#zc8)" mask="url(#zmm)"/><polygon points="82.19,0 90.02,0 90.99,62.70 81.21,62.70" fill="url(#zc9)" mask="url(#zmm)"/><polygon points="3.74,0 8.55,0 9.16,62.70 3.14,62.70" fill="url(#zc10)" mask="url(#zmm)"/><polygon points="9.59,0 11.41,0 11.64,62.70 9.36,62.70" fill="url(#zc10)" mask="url(#zmm)"/><polygon points="12.55,0 16.45,0 16.94,62.70 12.06,62.70" fill="url(#zc10)" mask="url(#zmm)"/><polygon points="17.44,0 23.16,0 23.87,62.70 16.73,62.70" fill="url(#zc10)" mask="url(#zmm)"/><polygon points="33.89,0 38.61,0 39.20,62.70 33.30,62.70" fill="url(#zc10)" mask="url(#zmm)"/><polygon points="37.43,0 44.97,0 45.91,62.70 36.49,62.70" fill="url(#zc10)" mask="url(#zmm)"/><polygon points="45.35,0 50.94,0 51.64,62.70 44.66,62.70" fill="url(#zc10)" mask="url(#zmm)"/><polygon points="68.62,0 73.08,0 73.63,62.70 68.07,62.70" fill="url(#zc10)" mask="url(#zmm)"/><polygon points="73.13,0 82.17,0 83.30,62.70 72.00,62.70" fill="url(#zc10)" mask="url(#zmm)"/><polygon points="-0.15,0 3.35,0 3.79,62.70 -0.59,62.70" fill="url(#zc12)" mask="url(#zmm)"/><polygon points="62.77,0 67.63,0 68.24,62.70 62.16,62.70" fill="url(#zc12)" mask="url(#zmm)"/><polygon points="3.50,0 8.80,0 7.83,62.70 4.47,62.70" fill="url(#zc13)" mask="url(#zms)"/><polygon points="9.50,0 11.50,0 11.14,48.91 9.86,48.91" fill="url(#zc13)" mask="url(#zms)"/><polygon points="12.36,0 16.64,0 15.87,48.91 13.13,48.91" fill="url(#zc13)" mask="url(#zms)"/><polygon points="17.15,0 23.45,0 22.30,62.70 18.30,62.70" fill="url(#zc13)" mask="url(#zms)"/><polygon points="37.05,0 45.35,0 43.84,57.06 38.56,57.06" fill="url(#zc13)" mask="url(#zms)"/><polygon points="45.08,0 51.22,0 50.11,48.91 46.19,48.91" fill="url(#zc13)" mask="url(#zms)"/><polygon points="25.07,0 33.03,0 34.03,62.70 24.07,62.70" fill="url(#zc14)" mask="url(#zmm)"/><polygon points="51.29,0 55.21,0 55.70,62.70 50.80,62.70" fill="url(#zc14)" mask="url(#zmm)"/><polygon points="55.92,0 60.38,0 60.93,62.70 55.37,62.70" fill="url(#zc14)" mask="url(#zmm)"/><polygon points="22.24,0 24.26,0 24.52,62.70 21.98,62.70" fill="url(#zc15)" mask="url(#zmm)"/><polygon points="37.43,0 44.97,0 43.46,43.89 38.94,43.89" fill="url(#zc18)" mask="url(#zms)"/><polygon points="45.35,0 50.94,0 49.83,37.62 46.47,37.62" fill="url(#zc21)" mask="url(#zms)"/><polygon points="9.59,0 11.41,0 11.05,37.62 9.95,37.62" fill="url(#zc22)" mask="url(#zms)"/><polygon points="12.55,0 16.45,0 15.67,37.62 13.33,37.62" fill="url(#zc22)" mask="url(#zms)"/><polygon points="17.44,0 23.16,0 22.02,50.16 18.58,50.16" fill="url(#zc35)" mask="url(#zms)"/><polygon points="3.74,0 8.55,0 7.59,53.29 4.71,53.29" fill="url(#zc40)" mask="url(#zms)"/></g></svg><rect x="295.50" y="267.10" width="104.90" height="0.9" fill="#1a0d0d" opacity="0.85"/><rect x="295.50" y="328.40" width="104.90" height="1.4" fill="#0a0505" opacity="0.9"/>
<text x="293.2" y="269.7" font-size="5" text-anchor="end">40</text>
<text x="293.2" y="331.5" font-size="5" text-anchor="end">1</text>
<text x="316.56" y="336.4" font-size="5" text-anchor="middle">200</text>
<text x="337.62" y="336.4" font-size="5" text-anchor="middle">400</text>
<text x="358.68" y="336.4" font-size="5" text-anchor="middle">600</text>
<text x="379.74" y="336.4" font-size="5" text-anchor="middle">800</text>
<text x="400.8" y="336.4" font-size="5" text-anchor="middle">1000</text>
<text x="348.15" y="343" font-size="5.8" text-anchor="middle">Samples</text>
<rect x="434.20" y="267.10" width="104.90" height="62.70" fill="url(#zbg)"/><svg x="434.20" y="267.10" width="104.90" height="62.70" overflow="hidden"><g filter="url(#sblur)"><defs><linearGradient id="mt434"><stop offset="0.0000" stop-color="#0a0606"/><stop offset="0.0092" stop-color="#634141"/><stop offset="0.0176" stop-color="#1e1414"/><stop offset="0.0235" stop-color="#694545"/><stop offset="0.0324" stop-color="#261919"/><stop offset="0.0402" stop-color="#704949"/><stop offset="0.0484" stop-color="#1c1212"/><stop offset="0.0569" stop-color="#634040"/><stop offset="0.0674" stop-color="#040303"/><stop offset="0.0734" stop-color="#6a4646"/><stop offset="0.0792" stop-color="#201515"/><stop offset="0.0867" stop-color="#6d4747"/><stop offset="0.0928" stop-color="#2c1d1d"/><stop offset="0.0997" stop-color="#6a4545"/><stop offset="0.1060" stop-color="#0d0909"/><stop offset="0.1131" stop-color="#5f3e3e"/><stop offset="0.1229" stop-color="#2a1c1c"/><stop offset="0.1279" stop-color="#563838"/><stop offset="0.1378" stop-color="#281a1a"/><stop offset="0.1459" stop-color="#614040"/><stop offset="0.1559" stop-color="#251818"/><stop offset="0.1615" stop-color="#5c3c3c"/><stop offset="0.1719" stop-color="#211616"/><stop offset="0.1788" stop-color="#573939"/><stop offset="0.1877" stop-color="#0f0a0a"/><stop offset="0.1946" stop-color="#784f4f"/><stop offset="0.2012" stop-color="#261919"/><stop offset="0.2096" stop-color="#5d3d3d"/><stop offset="0.2156" stop-color="#2d1d1d"/><stop offset="0.2209" stop-color="#5c3c3c"/><stop offset="0.2306" stop-color="#271a1a"/><stop offset="0.2392" stop-color="#684444"/><stop offset="0.2458" stop-color="#2c1d1d"/><stop offset="0.2546" stop-color="#724b4b"/><stop offset="0.2621" stop-color="#2b1c1c"/><stop offset="0.2714" stop-color="#694545"/><stop offset="0.2810" stop-color="#170f0f"/><stop offset="0.2883" stop-color="#674444"/><stop offset="0.2974" stop-color="#2d1d1d"/><stop offset="0.3055" stop-color="#684444"/><stop offset="0.3152" stop-color="#271919"/><stop offset="0.3235" stop-color="#563838"/><stop offset="0.3297" stop-color="#271919"/><stop offset="0.3366" stop-color="#6e4848"/><stop offset="0.3469" stop-color="#2d1d1d"/><stop offset="0.3535" stop-color="#5a3b3b"/><stop offset="0.3624" stop-color="#2a1c1c"/><stop offset="0.3675" stop-color="#654242"/><stop offset="0.3736" stop-color="#2c1d1d"/><stop offset="0.3809" stop-color="#644141"/><stop offset="0.3869" stop-color="#1a1111"/><stop offset="0.3964" stop-color="#644141"/><stop offset="0.4035" stop-color="#0e0909"/><stop offset="0.4111" stop-color="#6e4848"/><stop offset="0.4170" stop-color="#1c1212"/><stop offset="0.4240" stop-color="#5a3b3b"/><stop offset="0.4310" stop-color="#251818"/><stop offset="0.4387" stop-color="#613f3f"/><stop offset="0.4446" stop-color="#291b1b"/><stop offset="0.4527" stop-color="#674343"/><stop offset="0.4588" stop-color="#1b1212"/><stop offset="0.4655" stop-color="#6f4949"/><stop offset="0.4756" stop-color="#2c1d1d"/><stop offset="0.4841" stop-color="#6b4646"/><stop offset="0.4934" stop-color="#241818"/><stop offset="0.4991" stop-color="#654242"/><stop offset="0.5070" stop-color="#291b1b"/><stop offset="0.5161" stop-color="#654242"/><stop offset="0.5229" stop-color="#070404"/><stop offset="0.5282" stop-color="#734b4b"/><stop offset="0.5360" stop-color="#291b1b"/><stop offset="0.5429" stop-color="#5f3e3e"/><stop offset="0.5522" stop-color="#2a1b1b"/><stop offset="0.5593" stop-color="#5d3d3d"/><stop offset="0.5673" stop-color="#1e1414"/><stop offset="0.5740" stop-color="#6d4848"/><stop offset="0.5802" stop-color="#0a0707"/><stop offset="0.5876" stop-color="#634141"/><stop offset="0.5977" stop-color="#0e0909"/><stop offset="0.6051" stop-color="#694444"/><stop offset="0.6122" stop-color="#0c0808"/><stop offset="0.6202" stop-color="#5a3b3b"/><stop offset="0.6288" stop-color="#191010"/><stop offset="0.6375" stop-color="#624040"/><stop offset="0.6442" stop-color="#1f1414"/><stop offset="0.6504" stop-color="#613f3f"/><stop offset="0.6607" stop-color="#201515"/><stop offset="0.6685" stop-color="#573939"/><stop offset="0.6779" stop-color="#2b1c1c"/><stop offset="0.6855" stop-color="#5f3e3e"/><stop offset="0.6917" stop-color="#150e0e"/><stop offset="0.7011" stop-color="#664343"/><stop offset="0.7113" stop-color="#180f0f"/><stop offset="0.7173" stop-color="#674343"/><stop offset="0.7264" stop-color="#211515"/><stop offset="0.7346" stop-color="#5f3e3e"/><stop offset="0.7433" stop-color="#2c1c1c"/><stop offset="0.7524" stop-color="#624040"/><stop offset="0.7615" stop-color="#110b0b"/><stop offset="0.7707" stop-color="#754c4c"/><stop offset="0.7809" stop-color="#1a1111"/><stop offset="0.7863" stop-color="#724b4b"/><stop offset="0.7966" stop-color="#2c1c1c"/><stop offset="0.8027" stop-color="#6b4646"/><stop offset="0.8113" stop-color="#1d1313"/><stop offset="0.8199" stop-color="#6e4848"/><stop offset="0.8268" stop-color="#231717"/><stop offset="0.8345" stop-color="#6f4949"/><stop offset="0.8439" stop-color="#140d0d"/><stop offset="0.8501" stop-color="#714a4a"/><stop offset="0.8577" stop-color="#2c1d1d"/><stop offset="0.8642" stop-color="#6e4848"/><stop offset="0.8702" stop-color="#090606"/><stop offset="0.8779" stop-color="#704949"/><stop offset="0.8881" stop-color="#1b1111"/><stop offset="0.8967" stop-color="#684444"/><stop offset="0.9051" stop-color="#2a1c1c"/><stop offset="0.9114" stop-color="#624040"/><stop offset="0.9193" stop-color="#241717"/><stop offset="0.9266" stop-color="#5f3e3e"/><stop offset="0.9352" stop-color="#291b1b"/><stop offset="0.9415" stop-color="#5c3c3c"/><stop offset="0.9481" stop-color="#241717"/><stop offset="0.9550" stop-color="#5b3b3b"/><stop offset="0.9636" stop-color="#130d0d"/><stop offset="0.9703" stop-color="#694545"/><stop offset="0.9761" stop-color="#221616"/><stop offset="0.9838" stop-color="#724b4b"/><stop offset="0.9919" stop-color="#2a1b1b"/><stop offset="0.9995" stop-color="#674343"/></linearGradient><linearGradient id="mt434v" x1="0" y1="0" x2="0" y2="1"><stop offset="0" stop-color="#fff" stop-opacity="0"/><stop offset="0.45" stop-color="#fff" stop-opacity="0.50"/><stop offset="0.7" stop-color="#fff" stop-opacity="0.50"/><stop offset="1" stop-color="#fff" stop-opacity="0"/></linearGradient><mask id="mt434m" maskContentUnits="objectBoundingBox"><rect width="1" height="1" fill="url(#mt434v)"/></mask></defs><rect x="0" y="12.54" width="104.90" height="47.02" fill="url(#mt434)" mask="url(#mt434m)"/><polygon points="1.30,0 6.10,0 4.42,40.75 2.98,40.75" fill="url(#zc4)" mask="url(#zmn)"/><polygon points="6.20,0 12.20,0 10.10,40.75 8.30,40.75" fill="url(#zc4)" mask="url(#zmn)"/><polygon points="24.38,0 34.72,0 31.10,40.75 28.00,40.75" fill="url(#zc4)" mask="url(#zmn)"/><polygon points="34.72,0 39.38,0 37.75,40.75 36.35,40.75" fill="url(#zc5)" mask="url(#zmn)"/><polygon points="12.03,0 19.68,0 17.00,40.75 14.70,40.75" fill="url(#zc6)" mask="url(#zmn)"/><polygon points="19.30,0 25.30,0 23.20,40.75 21.40,40.75" fill="url(#zc7)" mask="url(#zmn)"/><polygon points="39.58,0 44.52,0 44.28,62.70 39.82,62.70" fill="url(#zc10)" mask="url(#zmn)"/><polygon points="78.49,0 84.61,0 84.30,62.70 78.80,62.70" fill="url(#zc10)" mask="url(#zmn)"/><polygon points="91.20,0 97.31,0 97.00,62.70 91.50,62.70" fill="url(#zc10)" mask="url(#zmn)"/><polygon points="44.30,0 51.50,0 51.14,62.70 44.66,62.70" fill="url(#zc11)" mask="url(#zmn)"/><polygon points="51.03,0 59.28,0 58.86,62.70 51.44,62.70" fill="url(#zc12)" mask="url(#zmn)"/><polygon points="78.19,0 84.91,0 83.69,61.13 79.41,61.13" fill="url(#zc13)" mask="url(#zms)"/><polygon points="90.89,0 97.61,0 96.39,57.06 92.11,57.06" fill="url(#zc13)" mask="url(#zms)"/><polygon points="58.52,0 65.58,0 65.22,62.70 58.88,62.70" fill="url(#zc14)" mask="url(#zmn)"/><polygon points="65.92,0 69.97,0 69.77,62.70 66.13,62.70" fill="url(#zc14)" mask="url(#zmn)"/><polygon points="69.10,0 79.40,0 75.24,62.70 73.26,62.70" fill="url(#zc14)" mask="url(#zmn)"/><polygon points="82.85,0 91.55,0 91.11,62.70 83.29,62.70" fill="url(#zc15)" mask="url(#zmn)"/><polygon points="97.93,0 105.58,0 105.19,62.70 98.31,62.70" fill="url(#zc15)" mask="url(#zmn)"/><polygon points="70.80,0 77.80,0 74.00,62.70 71.60,62.70" fill="url(#zc20)" mask="url(#zmp)"/><polygon points="70.28,0 78.22,0 75.24,62.70 73.26,62.70" fill="url(#zc19)" mask="url(#zms)"/><polygon points="78.49,0 84.61,0 83.38,47.02 79.72,47.02" fill="url(#zc32)" mask="url(#zms)"/><polygon points="91.20,0 97.31,0 96.08,43.89 92.42,43.89" fill="url(#zc40)" mask="url(#zms)"/></g></svg><rect x="434.20" y="267.10" width="104.90" height="0.9" fill="#1a0d0d" opacity="0.85"/><rect x="434.20" y="328.40" width="104.90" height="1.4" fill="#0a0505" opacity="0.9"/>
<text x="431.9" y="269.7" font-size="5" text-anchor="end">40</text>
<text x="431.9" y="331.5" font-size="5" text-anchor="end">1</text>
<text x="455.26" y="336.4" font-size="5" text-anchor="middle">200</text>
<text x="476.32" y="336.4" font-size="5" text-anchor="middle">400</text>
<text x="497.38" y="336.4" font-size="5" text-anchor="middle">600</text>
<text x="518.44" y="336.4" font-size="5" text-anchor="middle">800</text>
<text x="539.5" y="336.4" font-size="5" text-anchor="middle">1000</text>
<text x="486.85" y="343" font-size="5.8" text-anchor="middle">Samples</text>
<text x="26.5" y="149.1" font-size="7.1" font-weight="bold" text-anchor="middle" style="fill:#fff;stroke:#fff;stroke-width:0.12">E</text>
<text x="165.5" y="148.3" font-size="7.1" font-weight="bold" text-anchor="middle" style="fill:#fff;stroke:#fff;stroke-width:0.12">F</text>
<text x="302" y="149.4" font-size="7.1" font-weight="bold" text-anchor="middle" style="fill:#fff;stroke:#fff;stroke-width:0.12">G</text>
<text x="443.7" y="148.7" font-size="7.1" font-weight="bold" text-anchor="middle" style="fill:#fff;stroke:#fff;stroke-width:0.12">H</text>
<text x="27.2" y="323.3" font-size="7.1" font-weight="bold" text-anchor="middle" style="fill:#fff;stroke:#fff;stroke-width:0.12">M</text>
<text x="165.1" y="321.2" font-size="7.1" font-weight="bold" text-anchor="middle" style="fill:#fff;stroke:#fff;stroke-width:0.12">N</text>
<text x="389" y="323.9" font-size="7.1" font-weight="bold" text-anchor="middle" style="fill:#fff;stroke:#fff;stroke-width:0.12">O</text>
<text x="441.6" y="323.3" font-size="7.1" font-weight="bold" text-anchor="middle" style="fill:#fff;stroke:#fff;stroke-width:0.12">P</text>
<text transform="translate(7.9 36.9) rotate(-90)" font-size="5.5" text-anchor="middle">EEG amplitude (uV)</text>
<text transform="translate(7.9 211) rotate(-90)" font-size="5.5" text-anchor="middle">EEG amplitude (uV)</text>
<text transform="translate(8.6 124) rotate(-90)" font-size="5.0" text-anchor="middle">Scale</text>
<text transform="translate(8.6 298.8) rotate(-90)" font-size="5.0" text-anchor="middle">Scale</text>
</svg></body></html>
